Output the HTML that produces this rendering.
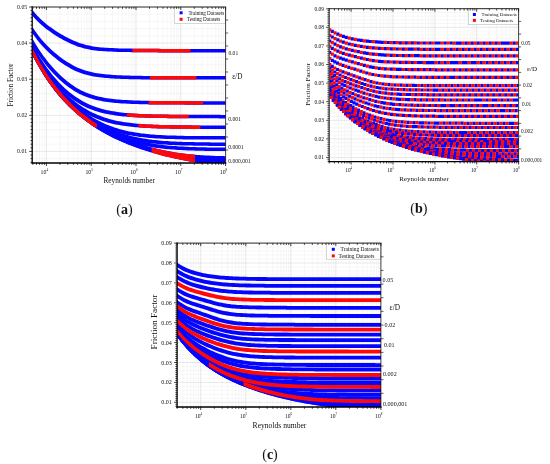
<!DOCTYPE html>
<html><head><meta charset="utf-8"><title>Friction factor datasets</title>
<style>html,body{margin:0;padding:0;background:#fff}svg{display:block}</style></head>
<body>
<svg width="550" height="464" viewBox="0 0 550 464" font-family="'Liberation Serif', serif">
<rect width="550" height="464" fill="#fff"/>
<clipPath id="ca"><rect x="32.2" y="7.0" width="193.39999999999998" height="156.0"/></clipPath>
<path d="M32.9 7V163M36.5 7V163M39.5 7V163M42.1 7V163M44.4 7V163M59.9 7V163M67.8 7V163M73.4 7V163M77.7 7V163M81.3 7V163M84.3 7V163M86.9 7V163M89.2 7V163M104.7 7V163M112.6 7V163M118.2 7V163M122.5 7V163M126.1 7V163M129.1 7V163M131.7 7V163M134 7V163M149.5 7V163M157.4 7V163M163 7V163M167.3 7V163M170.9 7V163M173.9 7V163M176.5 7V163M178.8 7V163M194.3 7V163M202.2 7V163M207.8 7V163M212.1 7V163M215.7 7V163M218.7 7V163M221.3 7V163M223.6 7V163M32.2 158.6H225.6M32.2 144.2H225.6M32.2 137H225.6M32.2 129.7H225.6M32.2 122.5H225.6M32.2 108.1H225.6M32.2 100.9H225.6M32.2 93.6H225.6M32.2 86.4H225.6M32.2 72H225.6M32.2 64.8H225.6M32.2 57.5H225.6M32.2 50.3H225.6M32.2 35.9H225.6M32.2 28.7H225.6M32.2 21.4H225.6M32.2 14.2H225.6" stroke="#efefef" stroke-width="0.5" fill="none"/>
<path d="M46.4 7V163M91.2 7V163M136 7V163M180.8 7V163M32.2 151.4H225.6M32.2 115.3H225.6M32.2 79.2H225.6M32.2 43.1H225.6" stroke="#d9d9d9" stroke-width="0.6" fill="none"/>
<g clip-path="url(#ca)">
<path d="M31.3 10.8L33.1 10.8L35.1 13.2L37.1 15.5L39.1 17.6L41.1 19.5L43.1 21.3L45.1 23L47.1 24.7L49.1 26.2L51.1 27.6L53.1 29L55.1 30.4L57.1 31.7L59.1 33L61.1 34.2L63.1 35.3L65.1 36.5L67.2 37.6L69.2 38.6L71.2 39.6L73.2 40.5L75.2 41.3L77.2 42.1L79.2 42.9L81.2 43.5L83.2 44.1L85.2 44.7L87.2 45.2L89.2 45.6L91.2 46L93.2 46.4L95.2 46.7L97.2 46.9L99.2 47.2L101.2 47.4L103.2 47.5L105.2 47.7L107.2 47.8L109.2 48L111.2 48.1L113.2 48.1L115.2 48.2L117.2 48.3L119.2 48.4L121.2 48.4L123.2 48.5L125.2 48.5L127.2 48.6L129.2 48.6L131.2 48.6L133.3 48.7L135.3 48.7L137.3 48.7L139.3 48.7L141.3 48.7L143.3 48.8L145.3 48.8L147.3 48.8L149.3 48.8L151.3 48.8L153.3 48.8L155.3 48.8L157.3 48.8L159.3 48.8L161.3 48.9L163.3 48.9L165.3 48.9L167.3 48.9L169.3 48.9L171.3 48.9L173.3 48.9L175.3 48.9L177.3 48.9L179.3 48.9L181.3 48.9L183.3 48.9L185.3 48.9L187.3 48.9L189.3 48.9L191.3 48.9L193.3 48.9L195.3 48.9L197.4 48.9L199.4 48.9L201.4 48.9L203.4 48.9L205.4 48.9L207.4 48.9L209.4 48.9L211.4 48.9L213.4 48.9L215.4 48.9L217.4 48.9L219.4 48.9L221.4 48.9L223.4 48.9L225.4 48.9L227.4 48.9L227.4 52.4L225.6 52.4L223.6 52.4L221.6 52.4L219.6 52.4L217.6 52.4L215.6 52.4L213.6 52.4L211.6 52.4L209.6 52.4L207.6 52.4L205.6 52.4L203.6 52.4L201.6 52.4L199.6 52.4L197.6 52.4L195.6 52.4L193.5 52.4L191.5 52.4L189.5 52.4L187.5 52.4L185.5 52.4L183.5 52.4L181.5 52.4L179.5 52.4L177.5 52.4L175.5 52.4L173.5 52.4L171.5 52.4L169.5 52.4L167.5 52.4L165.5 52.4L163.5 52.4L161.5 52.4L159.5 52.4L157.5 52.3L155.5 52.3L153.5 52.3L151.5 52.3L149.5 52.3L147.5 52.3L145.5 52.3L143.5 52.3L141.5 52.3L139.5 52.2L137.5 52.2L135.5 52.2L133.5 52.2L131.5 52.2L129.4 52.1L127.4 52.1L125.4 52.1L123.4 52L121.4 52L119.4 51.9L117.4 51.9L115.4 51.8L113.4 51.7L111.4 51.6L109.4 51.6L107.4 51.5L105.4 51.3L103.4 51.2L101.4 51L99.4 50.9L97.4 50.7L95.4 50.4L93.4 50.2L91.4 49.9L89.4 49.5L87.4 49.1L85.4 48.7L83.4 48.2L81.4 47.6L79.4 47L77.4 46.4L75.4 45.6L73.4 44.8L71.4 44L69.4 43.1L67.4 42.1L65.4 41.1L63.3 40L61.3 38.8L59.3 37.7L57.3 36.5L55.3 35.2L53.3 33.9L51.3 32.5L49.3 31.1L47.3 29.7L45.3 28.2L43.3 26.5L41.3 24.8L39.3 23L37.3 21.1L35.3 19L33.3 16.7L31.3 14.3Z" fill="#0505ff"/>
<path d="M31.3 28.1L33.1 28.1L35.1 31L37.1 33.8L39.1 36.4L41.1 38.9L43.1 41.2L45.1 43.4L47.1 45.5L49.1 47.5L51.1 49.4L53.1 51.2L55.1 52.9L57.1 54.6L59.1 56.2L61.1 57.7L63.1 59.2L65.1 60.5L67.2 61.9L69.2 63.1L71.2 64.3L73.2 65.4L75.2 66.4L77.2 67.4L79.2 68.2L81.2 69L83.2 69.8L85.2 70.4L87.2 71L89.2 71.6L91.2 72.1L93.2 72.5L95.2 72.9L97.2 73.2L99.2 73.5L101.2 73.8L103.2 74.1L105.2 74.3L107.2 74.5L109.2 74.6L111.2 74.8L113.2 74.9L115.2 75L117.2 75.2L119.2 75.2L121.2 75.3L123.2 75.4L125.2 75.5L127.2 75.5L129.2 75.6L131.2 75.7L133.3 75.7L135.3 75.7L137.3 75.8L139.3 75.8L141.3 75.8L143.3 75.9L145.3 75.9L147.3 75.9L149.3 75.9L151.3 76L153.3 76L155.3 76L157.3 76L159.3 76L161.3 76L163.3 76L165.3 76L167.3 76L169.3 76.1L171.3 76.1L173.3 76.1L175.3 76.1L177.3 76.1L179.3 76.1L181.3 76.1L183.3 76.1L185.3 76.1L187.3 76.1L189.3 76.1L191.3 76.1L193.3 76.1L195.3 76.1L197.4 76.1L199.4 76.1L201.4 76.1L203.4 76.1L205.4 76.1L207.4 76.1L209.4 76.1L211.4 76.1L213.4 76.1L215.4 76.1L217.4 76.1L219.4 76.1L221.4 76.1L223.4 76.1L225.4 76.1L227.4 76.1L227.4 79.6L225.6 79.6L223.6 79.6L221.6 79.6L219.6 79.6L217.6 79.6L215.6 79.6L213.6 79.6L211.6 79.6L209.6 79.6L207.6 79.6L205.6 79.6L203.6 79.6L201.6 79.6L199.6 79.6L197.6 79.6L195.6 79.6L193.5 79.6L191.5 79.6L189.5 79.6L187.5 79.6L185.5 79.6L183.5 79.6L181.5 79.6L179.5 79.6L177.5 79.6L175.5 79.6L173.5 79.6L171.5 79.6L169.5 79.6L167.5 79.6L165.5 79.5L163.5 79.5L161.5 79.5L159.5 79.5L157.5 79.5L155.5 79.5L153.5 79.5L151.5 79.5L149.5 79.5L147.5 79.4L145.5 79.4L143.5 79.4L141.5 79.4L139.5 79.3L137.5 79.3L135.5 79.3L133.5 79.2L131.5 79.2L129.4 79.2L127.4 79.1L125.4 79L123.4 79L121.4 78.9L119.4 78.8L117.4 78.7L115.4 78.7L113.4 78.5L111.4 78.4L109.4 78.3L107.4 78.1L105.4 78L103.4 77.8L101.4 77.6L99.4 77.3L97.4 77L95.4 76.7L93.4 76.4L91.4 76L89.4 75.6L87.4 75.1L85.4 74.5L83.4 73.9L81.4 73.3L79.4 72.5L77.4 71.7L75.4 70.9L73.4 69.9L71.4 68.9L69.4 67.8L67.4 66.6L65.4 65.4L63.3 64L61.3 62.7L59.3 61.2L57.3 59.7L55.3 58.1L53.3 56.4L51.3 54.7L49.3 52.9L47.3 51L45.3 49L43.3 46.9L41.3 44.7L39.3 42.4L37.3 39.9L35.3 37.3L33.3 34.5L31.3 31.6Z" fill="#0505ff"/>
<path d="M31.3 39.8L33.1 39.8L35.1 43.3L37.1 46.5L39.1 49.7L41.1 52.6L43.1 55.5L45.1 58.1L47.1 60.7L49.1 63.2L51.1 65.5L53.1 67.8L55.1 70L57.1 72.1L59.1 74.1L61.1 76L63.1 77.8L65.1 79.5L67.2 81.2L69.2 82.8L71.2 84.2L73.2 85.6L75.2 86.9L77.2 88.2L79.2 89.3L81.2 90.4L83.2 91.3L85.2 92.2L87.2 93.1L89.2 93.8L91.2 94.5L93.2 95.1L95.2 95.7L97.2 96.2L99.2 96.7L101.2 97.1L103.2 97.5L105.2 97.9L107.2 98.2L109.2 98.5L111.2 98.7L113.2 99L115.2 99.2L117.2 99.4L119.2 99.6L121.2 99.7L123.2 99.9L125.2 100L127.2 100.1L129.2 100.2L131.2 100.3L133.3 100.4L135.3 100.5L137.3 100.5L139.3 100.6L141.3 100.7L143.3 100.7L145.3 100.8L147.3 100.8L149.3 100.8L151.3 100.9L153.3 100.9L155.3 100.9L157.3 101L159.3 101L161.3 101L163.3 101L165.3 101L167.3 101.1L169.3 101.1L171.3 101.1L173.3 101.1L175.3 101.1L177.3 101.1L179.3 101.1L181.3 101.1L183.3 101.1L185.3 101.1L187.3 101.2L189.3 101.2L191.3 101.2L193.3 101.2L195.3 101.2L197.4 101.2L199.4 101.2L201.4 101.2L203.4 101.2L205.4 101.2L207.4 101.2L209.4 101.2L211.4 101.2L213.4 101.2L215.4 101.2L217.4 101.2L219.4 101.2L221.4 101.2L223.4 101.2L225.4 101.2L227.4 101.2L227.4 104.7L225.6 104.7L223.6 104.7L221.6 104.7L219.6 104.7L217.6 104.7L215.6 104.7L213.6 104.7L211.6 104.7L209.6 104.7L207.6 104.7L205.6 104.7L203.6 104.7L201.6 104.7L199.6 104.7L197.6 104.7L195.6 104.7L193.5 104.7L191.5 104.7L189.5 104.7L187.5 104.7L185.5 104.7L183.5 104.6L181.5 104.6L179.5 104.6L177.5 104.6L175.5 104.6L173.5 104.6L171.5 104.6L169.5 104.6L167.5 104.6L165.5 104.6L163.5 104.5L161.5 104.5L159.5 104.5L157.5 104.5L155.5 104.5L153.5 104.4L151.5 104.4L149.5 104.4L147.5 104.3L145.5 104.3L143.5 104.3L141.5 104.2L139.5 104.2L137.5 104.1L135.5 104L133.5 104L131.5 103.9L129.4 103.8L127.4 103.7L125.4 103.6L123.4 103.5L121.4 103.4L119.4 103.2L117.4 103.1L115.4 102.9L113.4 102.7L111.4 102.5L109.4 102.2L107.4 102L105.4 101.7L103.4 101.4L101.4 101L99.4 100.6L97.4 100.2L95.4 99.7L93.4 99.2L91.4 98.6L89.4 98L87.4 97.3L85.4 96.6L83.4 95.7L81.4 94.8L79.4 93.9L77.4 92.8L75.4 91.7L73.4 90.4L71.4 89.1L69.4 87.7L67.4 86.3L65.4 84.7L63.3 83L61.3 81.3L59.3 79.5L57.3 77.6L55.3 75.6L53.3 73.5L51.3 71.3L49.3 69L47.3 66.7L45.3 64.2L43.3 61.6L41.3 59L39.3 56.1L37.3 53.2L35.3 50L33.3 46.8L31.3 43.3Z" fill="#0505ff"/>
<path d="M31.3 45L33.1 45L35.1 48.7L37.1 52.3L39.1 55.7L41.1 59L43.1 62.1L45.1 65.1L47.1 67.9L49.1 70.6L51.1 73.2L53.1 75.7L55.1 78.1L57.1 80.3L59.1 82.5L61.1 84.6L63.1 86.6L65.1 88.4L67.2 90.2L69.2 91.9L71.2 93.5L73.2 95L75.2 96.5L77.2 97.8L79.2 99.1L81.2 100.3L83.2 101.4L85.2 102.5L87.2 103.5L89.2 104.4L91.2 105.3L93.2 106L95.2 106.8L97.2 107.5L99.2 108.1L101.2 108.7L103.2 109.2L105.2 109.7L107.2 110.2L109.2 110.6L111.2 111L113.2 111.3L115.2 111.6L117.2 111.9L119.2 112.2L121.2 112.5L123.2 112.7L125.2 112.9L127.2 113.1L129.2 113.2L131.2 113.4L133.3 113.5L135.3 113.7L137.3 113.8L139.3 113.9L141.3 114L143.3 114.1L145.3 114.1L147.3 114.2L149.3 114.3L151.3 114.3L153.3 114.4L155.3 114.4L157.3 114.5L159.3 114.5L161.3 114.5L163.3 114.6L165.3 114.6L167.3 114.6L169.3 114.7L171.3 114.7L173.3 114.7L175.3 114.7L177.3 114.7L179.3 114.7L181.3 114.7L183.3 114.8L185.3 114.8L187.3 114.8L189.3 114.8L191.3 114.8L193.3 114.8L195.3 114.8L197.4 114.8L199.4 114.8L201.4 114.8L203.4 114.8L205.4 114.8L207.4 114.8L209.4 114.8L211.4 114.8L213.4 114.8L215.4 114.8L217.4 114.8L219.4 114.8L221.4 114.9L223.4 114.9L225.4 114.9L227.4 114.9L227.4 118.4L225.6 118.4L223.6 118.4L221.6 118.4L219.6 118.4L217.6 118.3L215.6 118.3L213.6 118.3L211.6 118.3L209.6 118.3L207.6 118.3L205.6 118.3L203.6 118.3L201.6 118.3L199.6 118.3L197.6 118.3L195.6 118.3L193.5 118.3L191.5 118.3L189.5 118.3L187.5 118.3L185.5 118.3L183.5 118.3L181.5 118.3L179.5 118.2L177.5 118.2L175.5 118.2L173.5 118.2L171.5 118.2L169.5 118.2L167.5 118.2L165.5 118.1L163.5 118.1L161.5 118.1L159.5 118L157.5 118L155.5 118L153.5 117.9L151.5 117.9L149.5 117.8L147.5 117.8L145.5 117.7L143.5 117.6L141.5 117.6L139.5 117.5L137.5 117.4L135.5 117.3L133.5 117.2L131.5 117L129.4 116.9L127.4 116.7L125.4 116.6L123.4 116.4L121.4 116.2L119.4 116L117.4 115.7L115.4 115.4L113.4 115.1L111.4 114.8L109.4 114.5L107.4 114.1L105.4 113.7L103.4 113.2L101.4 112.7L99.4 112.2L97.4 111.6L95.4 111L93.4 110.3L91.4 109.5L89.4 108.8L87.4 107.9L85.4 107L83.4 106L81.4 104.9L79.4 103.8L77.4 102.6L75.4 101.3L73.4 100L71.4 98.5L69.4 97L67.4 95.4L65.4 93.7L63.3 91.9L61.3 90.1L59.3 88.1L57.3 86L55.3 83.8L53.3 81.6L51.3 79.2L49.3 76.7L47.3 74.1L45.3 71.4L43.3 68.6L41.3 65.6L39.3 62.5L37.3 59.2L35.3 55.8L33.3 52.2L31.3 48.5Z" fill="#0505ff"/>
<path d="M31.3 47.4L33.1 47.4L35.1 51.2L37.1 54.9L39.1 58.5L41.1 61.9L43.1 65.2L45.1 68.3L47.1 71.3L49.1 74.1L51.1 76.8L53.1 79.5L55.1 82L57.1 84.4L59.1 86.7L61.1 88.9L63.1 91L65.1 93L67.2 94.9L69.2 96.7L71.2 98.5L73.2 100.1L75.2 101.7L77.2 103.2L79.2 104.7L81.2 106.1L83.2 107.4L85.2 108.6L87.2 109.8L89.2 110.9L91.2 111.9L93.2 112.9L95.2 113.8L97.2 114.7L99.2 115.5L101.2 116.3L103.2 117L105.2 117.7L107.2 118.3L109.2 118.9L111.2 119.4L113.2 120L115.2 120.4L117.2 120.9L119.2 121.3L121.2 121.6L123.2 122L125.2 122.3L127.2 122.6L129.2 122.8L131.2 123.1L133.3 123.3L135.3 123.5L137.3 123.7L139.3 123.8L141.3 124L143.3 124.1L145.3 124.3L147.3 124.4L149.3 124.5L151.3 124.6L153.3 124.7L155.3 124.7L157.3 124.8L159.3 124.9L161.3 124.9L163.3 125L165.3 125L167.3 125.1L169.3 125.1L171.3 125.1L173.3 125.2L175.3 125.2L177.3 125.2L179.3 125.2L181.3 125.3L183.3 125.3L185.3 125.3L187.3 125.3L189.3 125.3L191.3 125.3L193.3 125.4L195.3 125.4L197.4 125.4L199.4 125.4L201.4 125.4L203.4 125.4L205.4 125.4L207.4 125.4L209.4 125.4L211.4 125.4L213.4 125.4L215.4 125.4L217.4 125.4L219.4 125.4L221.4 125.4L223.4 125.4L225.4 125.4L227.4 125.4L227.4 128.9L225.6 128.9L223.6 128.9L221.6 128.9L219.6 128.9L217.6 128.9L215.6 128.9L213.6 128.9L211.6 128.9L209.6 128.9L207.6 128.9L205.6 128.9L203.6 128.9L201.6 128.9L199.6 128.9L197.6 128.9L195.6 128.9L193.5 128.9L191.5 128.9L189.5 128.8L187.5 128.8L185.5 128.8L183.5 128.8L181.5 128.8L179.5 128.8L177.5 128.7L175.5 128.7L173.5 128.7L171.5 128.7L169.5 128.6L167.5 128.6L165.5 128.6L163.5 128.5L161.5 128.5L159.5 128.4L157.5 128.4L155.5 128.3L153.5 128.2L151.5 128.2L149.5 128.1L147.5 128L145.5 127.9L143.5 127.8L141.5 127.6L139.5 127.5L137.5 127.3L135.5 127.2L133.5 127L131.5 126.8L129.4 126.6L127.4 126.3L125.4 126.1L123.4 125.8L121.4 125.5L119.4 125.1L117.4 124.8L115.4 124.4L113.4 123.9L111.4 123.5L109.4 122.9L107.4 122.4L105.4 121.8L103.4 121.2L101.4 120.5L99.4 119.8L97.4 119L95.4 118.2L93.4 117.3L91.4 116.4L89.4 115.4L87.4 114.4L85.4 113.3L83.4 112.1L81.4 110.9L79.4 109.6L77.4 108.2L75.4 106.7L73.4 105.2L71.4 103.6L69.4 102L67.4 100.2L65.4 98.4L63.3 96.5L61.3 94.5L59.3 92.4L57.3 90.2L55.3 87.9L53.3 85.5L51.3 83L49.3 80.3L47.3 77.6L45.3 74.8L43.3 71.8L41.3 68.7L39.3 65.4L37.3 62L35.3 58.4L33.3 54.7L31.3 50.9Z" fill="#0505ff"/>
<path d="M31.3 48.5L33.1 48.5L35.1 52.5L37.1 56.2L39.1 59.9L41.1 63.3L43.1 66.6L45.1 69.8L47.1 72.9L49.1 75.8L51.1 78.6L53.1 81.3L55.1 83.9L57.1 86.4L59.1 88.8L61.1 91.1L63.1 93.4L65.1 95.5L67.2 97.5L69.2 99.5L71.2 101.4L73.2 103.2L75.2 105L77.2 106.6L79.2 108.2L81.2 109.8L83.2 111.3L85.2 112.7L87.2 114L89.2 115.3L91.2 116.6L93.2 117.8L95.2 118.9L97.2 120L99.2 121L101.2 122L103.2 123L105.2 123.9L107.2 124.7L109.2 125.5L111.2 126.3L113.2 127L115.2 127.7L117.2 128.3L119.2 128.9L121.2 129.5L123.2 130L125.2 130.5L127.2 130.9L129.2 131.4L131.2 131.8L133.3 132.1L135.3 132.5L137.3 132.8L139.3 133.1L141.3 133.4L143.3 133.6L145.3 133.8L147.3 134L149.3 134.2L151.3 134.4L153.3 134.6L155.3 134.7L157.3 134.9L159.3 135L161.3 135.1L163.3 135.2L165.3 135.3L167.3 135.4L169.3 135.5L171.3 135.5L173.3 135.6L175.3 135.6L177.3 135.7L179.3 135.7L181.3 135.8L183.3 135.8L185.3 135.9L187.3 135.9L189.3 135.9L191.3 135.9L193.3 136L195.3 136L197.4 136L199.4 136L201.4 136L203.4 136.1L205.4 136.1L207.4 136.1L209.4 136.1L211.4 136.1L213.4 136.1L215.4 136.1L217.4 136.1L219.4 136.1L221.4 136.1L223.4 136.1L225.4 136.1L227.4 136.1L227.4 139.6L225.6 139.6L223.6 139.6L221.6 139.6L219.6 139.6L217.6 139.6L215.6 139.6L213.6 139.6L211.6 139.6L209.6 139.6L207.6 139.6L205.6 139.6L203.6 139.6L201.6 139.6L199.6 139.5L197.6 139.5L195.6 139.5L193.5 139.5L191.5 139.5L189.5 139.4L187.5 139.4L185.5 139.4L183.5 139.4L181.5 139.3L179.5 139.3L177.5 139.2L175.5 139.2L173.5 139.1L171.5 139.1L169.5 139L167.5 139L165.5 138.9L163.5 138.8L161.5 138.7L159.5 138.6L157.5 138.5L155.5 138.4L153.5 138.2L151.5 138.1L149.5 137.9L147.5 137.7L145.5 137.5L143.5 137.3L141.5 137.1L139.5 136.9L137.5 136.6L135.5 136.3L133.5 136L131.5 135.6L129.4 135.3L127.4 134.9L125.4 134.4L123.4 134L121.4 133.5L119.4 133L117.4 132.4L115.4 131.8L113.4 131.2L111.4 130.5L109.4 129.8L107.4 129L105.4 128.2L103.4 127.4L101.4 126.5L99.4 125.5L97.4 124.5L95.4 123.5L93.4 122.4L91.4 121.3L89.4 120.1L87.4 118.8L85.4 117.5L83.4 116.2L81.4 114.8L79.4 113.3L77.4 111.7L75.4 110.1L73.4 108.5L71.4 106.7L69.4 104.9L67.4 103L65.4 101L63.3 99L61.3 96.9L59.3 94.6L57.3 92.3L55.3 89.9L53.3 87.4L51.3 84.8L49.3 82.1L47.3 79.3L45.3 76.4L43.3 73.3L41.3 70.1L39.3 66.8L37.3 63.4L35.3 59.7L33.3 56L31.3 52Z" fill="#0505ff"/>
<path d="M31.3 48.9L33.1 48.9L35.1 52.9L37.1 56.7L39.1 60.3L41.1 63.8L43.1 67.1L45.1 70.4L47.1 73.4L49.1 76.4L51.1 79.2L53.1 82L55.1 84.6L57.1 87.2L59.1 89.6L61.1 91.9L63.1 94.2L65.1 96.4L67.2 98.5L69.2 100.5L71.2 102.4L73.2 104.3L75.2 106.1L77.2 107.8L79.2 109.5L81.2 111.1L83.2 112.7L85.2 114.2L87.2 115.6L89.2 117L91.2 118.3L93.2 119.6L95.2 120.8L97.2 122L99.2 123.2L101.2 124.3L103.2 125.3L105.2 126.3L107.2 127.3L109.2 128.2L111.2 129.1L113.2 129.9L115.2 130.7L117.2 131.5L119.2 132.2L121.2 132.9L123.2 133.6L125.2 134.2L127.2 134.8L129.2 135.4L131.2 135.9L133.3 136.4L135.3 136.9L137.3 137.3L139.3 137.7L141.3 138.1L143.3 138.5L145.3 138.8L147.3 139.1L149.3 139.4L151.3 139.6L153.3 139.9L155.3 140.1L157.3 140.3L159.3 140.5L161.3 140.7L163.3 140.9L165.3 141L167.3 141.1L169.3 141.3L171.3 141.4L173.3 141.5L175.3 141.6L177.3 141.7L179.3 141.7L181.3 141.8L183.3 141.9L185.3 141.9L187.3 142L189.3 142L191.3 142.1L193.3 142.1L195.3 142.2L197.4 142.2L199.4 142.2L201.4 142.3L203.4 142.3L205.4 142.3L207.4 142.3L209.4 142.3L211.4 142.4L213.4 142.4L215.4 142.4L217.4 142.4L219.4 142.4L221.4 142.4L223.4 142.4L225.4 142.4L227.4 142.4L227.4 145.9L225.6 145.9L223.6 145.9L221.6 145.9L219.6 145.9L217.6 145.9L215.6 145.9L213.6 145.9L211.6 145.9L209.6 145.9L207.6 145.8L205.6 145.8L203.6 145.8L201.6 145.8L199.6 145.8L197.6 145.7L195.6 145.7L193.5 145.7L191.5 145.6L189.5 145.6L187.5 145.5L185.5 145.5L183.5 145.4L181.5 145.4L179.5 145.3L177.5 145.2L175.5 145.2L173.5 145.1L171.5 145L169.5 144.9L167.5 144.8L165.5 144.6L163.5 144.5L161.5 144.4L159.5 144.2L157.5 144L155.5 143.8L153.5 143.6L151.5 143.4L149.5 143.1L147.5 142.9L145.5 142.6L143.5 142.3L141.5 142L139.5 141.6L137.5 141.2L135.5 140.8L133.5 140.4L131.5 139.9L129.4 139.4L127.4 138.9L125.4 138.3L123.4 137.7L121.4 137.1L119.4 136.4L117.4 135.7L115.4 135L113.4 134.2L111.4 133.4L109.4 132.6L107.4 131.7L105.4 130.8L103.4 129.8L101.4 128.8L99.4 127.8L97.4 126.7L95.4 125.5L93.4 124.3L91.4 123.1L89.4 121.8L87.4 120.5L85.4 119.1L83.4 117.7L81.4 116.2L79.4 114.6L77.4 113L75.4 111.3L73.4 109.6L71.4 107.8L69.4 105.9L67.4 104L65.4 102L63.3 99.9L61.3 97.7L59.3 95.4L57.3 93.1L55.3 90.7L53.3 88.1L51.3 85.5L49.3 82.7L47.3 79.9L45.3 76.9L43.3 73.9L41.3 70.6L39.3 67.3L37.3 63.8L35.3 60.2L33.3 56.4L31.3 52.4Z" fill="#0505ff"/>
<path d="M31.3 49.1L33.1 49.1L35.1 53.1L37.1 56.9L39.1 60.5L41.1 64L43.1 67.4L45.1 70.6L47.1 73.7L49.1 76.7L51.1 79.6L53.1 82.3L55.1 85L57.1 87.5L59.1 90L61.1 92.3L63.1 94.6L65.1 96.8L67.2 98.9L69.2 101L71.2 102.9L73.2 104.8L75.2 106.7L77.2 108.4L79.2 110.2L81.2 111.8L83.2 113.4L85.2 114.9L87.2 116.4L89.2 117.8L91.2 119.2L93.2 120.6L95.2 121.9L97.2 123.1L99.2 124.3L101.2 125.5L103.2 126.6L105.2 127.7L107.2 128.7L109.2 129.7L111.2 130.7L113.2 131.6L115.2 132.5L117.2 133.4L119.2 134.2L121.2 135L123.2 135.7L125.2 136.5L127.2 137.2L129.2 137.8L131.2 138.5L133.3 139.1L135.3 139.6L137.3 140.2L139.3 140.7L141.3 141.2L143.3 141.7L145.3 142.1L147.3 142.5L149.3 142.9L151.3 143.3L153.3 143.6L155.3 143.9L157.3 144.2L159.3 144.5L161.3 144.8L163.3 145L165.3 145.3L167.3 145.5L169.3 145.7L171.3 145.8L173.3 146L175.3 146.1L177.3 146.3L179.3 146.4L181.3 146.5L183.3 146.6L185.3 146.7L187.3 146.8L189.3 146.9L191.3 147L193.3 147L195.3 147.1L197.4 147.2L199.4 147.2L201.4 147.3L203.4 147.3L205.4 147.3L207.4 147.4L209.4 147.4L211.4 147.4L213.4 147.4L215.4 147.5L217.4 147.5L219.4 147.5L221.4 147.5L223.4 147.5L225.4 147.6L227.4 147.6L227.4 151.1L225.6 151.1L223.6 151.1L221.6 151L219.6 151L217.6 151L215.6 151L213.6 151L211.6 150.9L209.6 150.9L207.6 150.9L205.6 150.9L203.6 150.8L201.6 150.8L199.6 150.8L197.6 150.7L195.6 150.7L193.5 150.6L191.5 150.5L189.5 150.5L187.5 150.4L185.5 150.3L183.5 150.2L181.5 150.1L179.5 150L177.5 149.9L175.5 149.8L173.5 149.6L171.5 149.5L169.5 149.3L167.5 149.2L165.5 149L163.5 148.8L161.5 148.5L159.5 148.3L157.5 148L155.5 147.7L153.5 147.4L151.5 147.1L149.5 146.8L147.5 146.4L145.5 146L143.5 145.6L141.5 145.2L139.5 144.7L137.5 144.2L135.5 143.7L133.5 143.1L131.5 142.6L129.4 142L127.4 141.3L125.4 140.7L123.4 140L121.4 139.2L119.4 138.5L117.4 137.7L115.4 136.9L113.4 136L111.4 135.1L109.4 134.2L107.4 133.2L105.4 132.2L103.4 131.2L101.4 130.1L99.4 129L97.4 127.8L95.4 126.6L93.4 125.4L91.4 124.1L89.4 122.7L87.4 121.3L85.4 119.9L83.4 118.4L81.4 116.9L79.4 115.3L77.4 113.7L75.4 111.9L73.4 110.2L71.4 108.3L69.4 106.4L67.4 104.5L65.4 102.4L63.3 100.3L61.3 98.1L59.3 95.8L57.3 93.5L55.3 91L53.3 88.5L51.3 85.8L49.3 83.1L47.3 80.2L45.3 77.2L43.3 74.1L41.3 70.9L39.3 67.5L37.3 64L35.3 60.4L33.3 56.6L31.3 52.6Z" fill="#0505ff"/>
<path d="M31.3 49.3L33.1 49.3L35.1 53.3L37.1 57.1L39.1 60.7L41.1 64.2L43.1 67.6L45.1 70.8L47.1 73.9L49.1 76.9L51.1 79.8L53.1 82.6L55.1 85.2L57.1 87.8L59.1 90.3L61.1 92.7L63.1 94.9L65.1 97.2L67.2 99.3L69.2 101.4L71.2 103.4L73.2 105.3L75.2 107.1L77.2 108.9L79.2 110.7L81.2 112.4L83.2 114L85.2 115.6L87.2 117.1L89.2 118.6L91.2 120L93.2 121.4L95.2 122.7L97.2 124L99.2 125.3L101.2 126.5L103.2 127.6L105.2 128.8L107.2 129.9L109.2 131L111.2 132L113.2 133L115.2 134L117.2 135L119.2 135.9L121.2 136.8L123.2 137.7L125.2 138.5L127.2 139.3L129.2 140.1L131.2 140.9L133.3 141.6L135.3 142.3L137.3 143L139.3 143.7L141.3 144.3L143.3 145L145.3 145.6L147.3 146.2L149.3 146.7L151.3 147.3L153.3 147.8L155.3 148.3L157.3 148.8L159.3 149.3L161.3 149.7L163.3 150.2L165.3 150.6L167.3 151L169.3 151.3L171.3 151.7L173.3 152L175.3 152.4L177.3 152.7L179.3 153L181.3 153.2L183.3 153.5L185.3 153.7L187.3 154L189.3 154.2L191.3 154.4L193.3 154.5L195.3 154.7L197.4 154.9L199.4 155L201.4 155.2L203.4 155.3L205.4 155.4L207.4 155.5L209.4 155.6L211.4 155.7L213.4 155.8L215.4 155.9L217.4 155.9L219.4 156L221.4 156.1L223.4 156.1L225.4 156.2L227.4 156.2L227.4 159.7L225.6 159.7L223.6 159.7L221.6 159.6L219.6 159.6L217.6 159.5L215.6 159.4L213.6 159.4L211.6 159.3L209.6 159.2L207.6 159.1L205.6 159L203.6 158.9L201.6 158.8L199.6 158.7L197.6 158.5L195.6 158.4L193.5 158.2L191.5 158L189.5 157.9L187.5 157.7L185.5 157.5L183.5 157.2L181.5 157L179.5 156.7L177.5 156.5L175.5 156.2L173.5 155.9L171.5 155.5L169.5 155.2L167.5 154.8L165.5 154.5L163.5 154.1L161.5 153.7L159.5 153.2L157.5 152.8L155.5 152.3L153.5 151.8L151.5 151.3L149.5 150.8L147.5 150.2L145.5 149.7L143.5 149.1L141.5 148.5L139.5 147.8L137.5 147.2L135.5 146.5L133.5 145.8L131.5 145.1L129.4 144.4L127.4 143.6L125.4 142.8L123.4 142L121.4 141.2L119.4 140.3L117.4 139.4L115.4 138.5L113.4 137.5L111.4 136.5L109.4 135.5L107.4 134.5L105.4 133.4L103.4 132.3L101.4 131.1L99.4 130L97.4 128.8L95.4 127.5L93.4 126.2L91.4 124.9L89.4 123.5L87.4 122.1L85.4 120.6L83.4 119.1L81.4 117.5L79.4 115.9L77.4 114.2L75.4 112.4L73.4 110.6L71.4 108.8L69.4 106.9L67.4 104.9L65.4 102.8L63.3 100.7L61.3 98.4L59.3 96.2L57.3 93.8L55.3 91.3L53.3 88.7L51.3 86.1L49.3 83.3L47.3 80.4L45.3 77.4L43.3 74.3L41.3 71.1L39.3 67.7L37.3 64.2L35.3 60.6L33.3 56.8L31.3 52.8Z" fill="#0505ff"/>
<path d="M31.3 49.3L33.1 49.3L35.1 53.3L37.1 57.1L39.1 60.7L41.1 64.2L43.1 67.6L45.1 70.9L47.1 74L49.1 77L51.1 79.8L53.1 82.6L55.1 85.3L57.1 87.8L59.1 90.3L61.1 92.7L63.1 95L65.1 97.2L67.2 99.3L69.2 101.4L71.2 103.4L73.2 105.3L75.2 107.2L77.2 109L79.2 110.7L81.2 112.4L83.2 114.1L85.2 115.6L87.2 117.2L89.2 118.6L91.2 120.1L93.2 121.5L95.2 122.8L97.2 124.1L99.2 125.4L101.2 126.6L103.2 127.8L105.2 128.9L107.2 130.1L109.2 131.1L111.2 132.2L113.2 133.2L115.2 134.2L117.2 135.2L119.2 136.1L121.2 137L123.2 137.9L125.2 138.8L127.2 139.6L129.2 140.4L131.2 141.2L133.3 142L135.3 142.7L137.3 143.4L139.3 144.1L141.3 144.8L143.3 145.5L145.3 146.1L147.3 146.7L149.3 147.3L151.3 147.9L153.3 148.5L155.3 149L157.3 149.6L159.3 150.1L161.3 150.6L163.3 151.1L165.3 151.5L167.3 152L169.3 152.4L171.3 152.8L173.3 153.2L175.3 153.6L177.3 154L179.3 154.3L181.3 154.6L183.3 155L185.3 155.3L187.3 155.6L189.3 155.8L191.3 156.1L193.3 156.4L195.3 156.6L197.4 156.8L199.4 157L201.4 157.2L203.4 157.4L205.4 157.6L207.4 157.7L209.4 157.9L211.4 158L213.4 158.1L215.4 158.3L217.4 158.4L219.4 158.5L221.4 158.6L223.4 158.7L225.4 158.7L227.4 158.8L227.4 162.3L225.6 162.3L223.6 162.2L221.6 162.2L219.6 162.1L217.6 162L215.6 161.9L213.6 161.8L211.6 161.6L209.6 161.5L207.6 161.4L205.6 161.2L203.6 161.1L201.6 160.9L199.6 160.7L197.6 160.5L195.6 160.3L193.5 160.1L191.5 159.9L189.5 159.6L187.5 159.3L185.5 159.1L183.5 158.8L181.5 158.5L179.5 158.1L177.5 157.8L175.5 157.5L173.5 157.1L171.5 156.7L169.5 156.3L167.5 155.9L165.5 155.5L163.5 155L161.5 154.6L159.5 154.1L157.5 153.6L155.5 153.1L153.5 152.5L151.5 152L149.5 151.4L147.5 150.8L145.5 150.2L143.5 149.6L141.5 149L139.5 148.3L137.5 147.6L135.5 146.9L133.5 146.2L131.5 145.5L129.4 144.7L127.4 143.9L125.4 143.1L123.4 142.3L121.4 141.4L119.4 140.5L117.4 139.6L115.4 138.7L113.4 137.7L111.4 136.7L109.4 135.7L107.4 134.6L105.4 133.6L103.4 132.4L101.4 131.3L99.4 130.1L97.4 128.9L95.4 127.6L93.4 126.3L91.4 125L89.4 123.6L87.4 122.1L85.4 120.7L83.4 119.1L81.4 117.6L79.4 115.9L77.4 114.2L75.4 112.5L73.4 110.7L71.4 108.8L69.4 106.9L67.4 104.9L65.4 102.8L63.3 100.7L61.3 98.5L59.3 96.2L57.3 93.8L55.3 91.3L53.3 88.8L51.3 86.1L49.3 83.3L47.3 80.5L45.3 77.5L43.3 74.4L41.3 71.1L39.3 67.7L37.3 64.2L35.3 60.6L33.3 56.8L31.3 52.8Z" fill="#0505ff"/>
<path d="M31.3 49.3L33.1 49.3L35.1 53.3L37.1 57.1L39.1 60.8L41.1 64.3L43.1 67.6L45.1 70.9L47.1 74L49.1 77L51.1 79.9L53.1 82.6L55.1 85.3L57.1 87.9L59.1 90.3L61.1 92.7L63.1 95L65.1 97.2L67.2 99.4L69.2 101.5L71.2 103.5L73.2 105.4L75.2 107.2L77.2 109.1L79.2 110.8L81.2 112.5L83.2 114.1L85.2 115.7L87.2 117.2L89.2 118.7L91.2 120.1L93.2 121.5L95.2 122.9L97.2 124.2L99.2 125.5L101.2 126.7L103.2 127.9L105.2 129.1L107.2 130.2L109.2 131.3L111.2 132.3L113.2 133.4L115.2 134.4L117.2 135.4L119.2 136.3L121.2 137.2L123.2 138.1L125.2 139L127.2 139.8L129.2 140.7L131.2 141.5L133.3 142.3L135.3 143L137.3 143.8L139.3 144.5L141.3 145.2L143.3 145.9L145.3 146.5L147.3 147.2L149.3 147.8L151.3 148.4L153.3 149L155.3 149.6L157.3 150.2L159.3 150.8L161.3 151.3L163.3 151.8L165.3 152.4L167.3 152.9L169.3 153.3L171.3 153.8L173.3 154.3L175.3 154.7L177.3 155.2L179.3 155.6L181.3 156L183.3 156.4L185.3 156.8L187.3 157.2L189.3 157.6L191.3 157.9L193.3 158.3L195.3 158.6L197.4 159L199.4 159.3L201.4 159.6L203.4 159.9L205.4 160.2L207.4 160.4L209.4 160.7L211.4 160.9L213.4 161.2L215.4 161.4L217.4 161.6L219.4 161.9L221.4 162.1L223.4 162.2L225.4 162.4L227.4 162.6L227.4 166.1L225.6 166.1L223.6 165.9L221.6 165.7L219.6 165.6L217.6 165.4L215.6 165.1L213.6 164.9L211.6 164.7L209.6 164.4L207.6 164.2L205.6 163.9L203.6 163.7L201.6 163.4L199.6 163.1L197.6 162.8L195.6 162.5L193.5 162.1L191.5 161.8L189.5 161.4L187.5 161.1L185.5 160.7L183.5 160.3L181.5 159.9L179.5 159.5L177.5 159.1L175.5 158.7L173.5 158.2L171.5 157.8L169.5 157.3L167.5 156.8L165.5 156.4L163.5 155.9L161.5 155.3L159.5 154.8L157.5 154.3L155.5 153.7L153.5 153.1L151.5 152.5L149.5 151.9L147.5 151.3L145.5 150.7L143.5 150L141.5 149.4L139.5 148.7L137.5 148L135.5 147.3L133.5 146.5L131.5 145.8L129.4 145L127.4 144.2L125.4 143.3L123.4 142.5L121.4 141.6L119.4 140.7L117.4 139.8L115.4 138.9L113.4 137.9L111.4 136.9L109.4 135.8L107.4 134.8L105.4 133.7L103.4 132.6L101.4 131.4L99.4 130.2L97.4 129L95.4 127.7L93.4 126.4L91.4 125L89.4 123.6L87.4 122.2L85.4 120.7L83.4 119.2L81.4 117.6L79.4 116L77.4 114.3L75.4 112.6L73.4 110.7L71.4 108.9L69.4 107L67.4 105L65.4 102.9L63.3 100.7L61.3 98.5L59.3 96.2L57.3 93.8L55.3 91.4L53.3 88.8L51.3 86.1L49.3 83.4L47.3 80.5L45.3 77.5L43.3 74.4L41.3 71.1L39.3 67.8L37.3 64.3L35.3 60.6L33.3 56.8L31.3 52.8Z" fill="#0505ff"/>
<path d="M132.4 48.7L134.2 48.7L136.2 48.7L138.2 48.7L140.2 48.7L142.2 48.7L144.2 48.8L146.2 48.8L148.2 48.8L150.3 48.8L152.3 48.8L154.3 48.8L156.3 48.8L158.3 48.8L160.3 48.9L162.3 48.9L164.3 48.9L166.3 48.9L168.3 48.9L170.3 48.9L172.3 48.9L174.3 48.9L176.4 48.9L178.4 48.9L180.4 48.9L182.4 48.9L184.4 48.9L186.4 48.9L188.4 48.9L190.4 48.9L190.4 52.4L188.6 52.4L186.6 52.4L184.6 52.4L182.6 52.4L180.6 52.4L178.6 52.4L176.6 52.4L174.6 52.4L172.5 52.4L170.5 52.4L168.5 52.4L166.5 52.4L164.5 52.4L162.5 52.4L160.5 52.4L158.5 52.4L156.5 52.3L154.5 52.3L152.5 52.3L150.5 52.3L148.5 52.3L146.4 52.3L144.4 52.3L142.4 52.3L140.4 52.2L138.4 52.2L136.4 52.2L134.4 52.2L132.4 52.2Z" fill="#ff0808"/>
<path d="M149.9 76L151.7 76L153.7 76L155.8 76L157.8 76L159.8 76L161.8 76L163.9 76L165.9 76L167.9 76.1L169.9 76.1L172 76.1L174 76.1L176 76.1L178.1 76.1L180.1 76.1L182.1 76.1L184.1 76.1L186.2 76.1L188.2 76.1L190.2 76.1L192.2 76.1L194.3 76.1L196.3 76.1L196.3 79.6L194.5 79.6L192.5 79.6L190.4 79.6L188.4 79.6L186.4 79.6L184.4 79.6L182.3 79.6L180.3 79.6L178.3 79.6L176.3 79.6L174.2 79.6L172.2 79.6L170.2 79.6L168.1 79.6L166.1 79.6L164.1 79.5L162.1 79.5L160 79.5L158 79.5L156 79.5L154 79.5L151.9 79.5L149.9 79.5Z" fill="#ff0808"/>
<path d="M148.6 100.9L150.4 100.9L152.4 100.9L154.4 100.9L156.5 101L158.5 101L160.5 101L162.5 101L164.6 101L166.6 101.1L168.6 101.1L170.6 101.1L172.7 101.1L174.7 101.1L176.7 101.1L178.7 101.1L180.7 101.1L182.8 101.1L184.8 101.1L186.8 101.1L188.8 101.2L190.9 101.2L192.9 101.2L194.9 101.2L196.9 101.2L199 101.2L201 101.2L203 101.2L203 104.7L201.2 104.7L199.2 104.7L197.2 104.7L195.1 104.7L193.1 104.7L191.1 104.7L189.1 104.7L187 104.7L185 104.6L183 104.6L181 104.6L178.9 104.6L176.9 104.6L174.9 104.6L172.9 104.6L170.9 104.6L168.8 104.6L166.8 104.6L164.8 104.6L162.8 104.5L160.7 104.5L158.7 104.5L156.7 104.5L154.7 104.5L152.6 104.4L150.6 104.4L148.6 104.4Z" fill="#ff0808"/>
<path d="M126.7 113.2L128.5 113.2L130.5 113.3L132.5 113.5L134.5 113.6L136.5 113.7L138.5 113.8L140.5 113.9L142.5 114L144.6 114.1L146.6 114.2L148.6 114.2L150.6 114.3L152.6 114.4L154.6 114.4L156.6 114.5L158.6 114.5L160.6 114.5L162.6 114.6L164.6 114.6L166.6 114.6L168.6 114.6L170.6 114.7L172.6 114.7L174.7 114.7L176.7 114.7L178.7 114.7L180.7 114.7L182.7 114.8L184.7 114.8L186.7 114.8L188.7 114.8L188.7 118.3L186.9 118.3L184.9 118.3L182.9 118.3L180.9 118.3L178.9 118.2L176.9 118.2L174.9 118.2L172.9 118.2L170.8 118.2L168.8 118.2L166.8 118.1L164.8 118.1L162.8 118.1L160.8 118.1L158.8 118L156.8 118L154.8 118L152.8 117.9L150.8 117.9L148.8 117.8L146.8 117.7L144.8 117.7L142.8 117.6L140.7 117.5L138.7 117.4L136.7 117.3L134.7 117.2L132.7 117.1L130.7 117L128.7 116.8L126.7 116.7Z" fill="#ff0808"/>
<path d="M138.3 123.9L140.1 123.9L142.1 124L144.1 124.2L146.1 124.3L148.1 124.4L150.1 124.5L152.1 124.6L154.1 124.7L156.2 124.8L158.2 124.8L160.2 124.9L162.2 124.9L164.2 125L166.2 125L168.2 125.1L170.2 125.1L172.2 125.2L174.2 125.2L176.2 125.2L178.2 125.2L180.2 125.3L182.2 125.3L184.2 125.3L186.3 125.3L188.3 125.3L190.3 125.3L192.3 125.4L194.3 125.4L196.3 125.4L198.3 125.4L200.3 125.4L200.3 128.9L198.5 128.9L196.5 128.9L194.5 128.9L192.5 128.9L190.5 128.9L188.5 128.8L186.5 128.8L184.5 128.8L182.4 128.8L180.4 128.8L178.4 128.8L176.4 128.7L174.4 128.7L172.4 128.7L170.4 128.7L168.4 128.6L166.4 128.6L164.4 128.5L162.4 128.5L160.4 128.4L158.4 128.4L156.4 128.3L154.4 128.3L152.3 128.2L150.3 128.1L148.3 128L146.3 127.9L144.3 127.8L142.3 127.7L140.3 127.5L138.3 127.4Z" fill="#ff0808"/>
<path d="M151.8 147.9L153.6 147.9L155.6 148.4L157.5 148.9L159.5 149.3L161.5 149.8L163.5 150.2L165.4 150.6L167.4 151L169.4 151.4L171.3 151.7L173.3 152L175.3 152.4L177.3 152.7L179.2 152.9L181.2 153.2L183.2 153.5L185.1 153.7L187.1 153.9L189.1 154.1L191.1 154.3L193 154.5L195 154.7L195 158.2L193.2 158.2L191.2 158L189.3 157.8L187.3 157.6L185.3 157.4L183.3 157.2L181.4 157L179.4 156.7L177.4 156.4L175.5 156.2L173.5 155.9L171.5 155.5L169.5 155.2L167.6 154.9L165.6 154.5L163.6 154.1L161.7 153.7L159.7 153.3L157.7 152.8L155.7 152.4L153.8 151.9L151.8 151.4Z" fill="#ff0808"/>
<path d="M31.3 49.3L33.1 49.3L35.1 53.3L37.1 57.1L39.1 60.7L41.1 64.2L43.1 67.6L45.1 70.8L47.1 73.9L49.1 76.9L51.1 79.8L53.1 82.5L55.1 85.2L57.1 87.8L59.1 90.2L61.1 92.6L63.1 94.9L65.1 97.1L67 99.3L69 101.3L71 103.3L73 105.3L75 107.1L77 108.9L79 110.7L81 112.4L83 114L85 115.6L87 117.1L89 118.6L91 120L93 121.4L95 122.8L97 124.1L97 127.6L95.2 127.6L93.2 126.3L91.2 124.9L89.2 123.5L87.2 122.1L85.2 120.6L83.2 119.1L81.2 117.5L79.2 115.9L77.2 114.2L75.2 112.4L73.2 110.6L71.2 108.8L69.2 106.8L67.2 104.8L65.2 102.8L63.3 100.6L61.3 98.4L59.3 96.1L57.3 93.7L55.3 91.3L53.3 88.7L51.3 86L49.3 83.3L47.3 80.4L45.3 77.4L43.3 74.3L41.3 71.1L39.3 67.7L37.3 64.2L35.3 60.6L33.3 56.8L31.3 52.8Z" fill="#ff0808"/>
<path d="M151.8 149.1L153.6 149.1L155.6 149.7L157.5 150.3L159.5 150.8L161.5 151.4L163.5 151.9L165.4 152.4L167.4 152.9L169.4 153.4L171.3 153.8L173.3 154.3L175.3 154.7L177.3 155.2L179.2 155.6L181.2 156L183.2 156.4L185.1 156.8L187.1 157.2L189.1 157.5L191.1 157.9L193 158.2L195 158.6L195 162.1L193.2 162.1L191.2 161.7L189.3 161.4L187.3 161L185.3 160.7L183.3 160.3L181.4 159.9L179.4 159.5L177.4 159.1L175.5 158.7L173.5 158.2L171.5 157.8L169.5 157.3L167.6 156.9L165.6 156.4L163.6 155.9L161.7 155.4L159.7 154.9L157.7 154.3L155.7 153.8L153.8 153.2L151.8 152.6Z" fill="#ff0808"/>
</g>
<rect x="174.4" y="7" width="51.2" height="16.4" fill="#fff" stroke="#bdbdbd" stroke-width="0.6"/>
<rect x="179.6" y="11.3" width="3" height="3" fill="#0505ff"/>
<rect x="179.6" y="17.8" width="3" height="3" fill="#ff0808"/>
<text x="188.4" y="14.5" font-size="5.1" text-anchor="start" fill="#111">Training Datasets</text>
<text x="186.9" y="21" font-size="5.1" text-anchor="start" fill="#111">Testing Datasets</text>
<path d="M32.2 151.4h-3M32.2 115.3h-3M32.2 79.2h-3M32.2 43.1h-3M32.2 7h-3M32.2 162.2h-1.7M32.2 158.6h-1.7M32.2 155h-1.7M32.2 147.8h-1.7M32.2 144.2h-1.7M32.2 140.6h-1.7M32.2 137h-1.7M32.2 133.4h-1.7M32.2 129.7h-1.7M32.2 126.1h-1.7M32.2 122.5h-1.7M32.2 118.9h-1.7M32.2 111.7h-1.7M32.2 108.1h-1.7M32.2 104.5h-1.7M32.2 100.9h-1.7M32.2 97.2h-1.7M32.2 93.6h-1.7M32.2 90h-1.7M32.2 86.4h-1.7M32.2 82.8h-1.7M32.2 75.6h-1.7M32.2 72h-1.7M32.2 68.4h-1.7M32.2 64.8h-1.7M32.2 61.1h-1.7M32.2 57.5h-1.7M32.2 53.9h-1.7M32.2 50.3h-1.7M32.2 46.7h-1.7M32.2 39.5h-1.7M32.2 35.9h-1.7M32.2 32.3h-1.7M32.2 28.7h-1.7M32.2 25.1h-1.7M32.2 21.4h-1.7M32.2 17.8h-1.7M32.2 14.2h-1.7M32.2 10.6h-1.7M32.9 163v1.8M32.9 7v1.8M36.5 163v1.8M36.5 7v1.8M39.5 163v1.8M39.5 7v1.8M42.1 163v1.8M42.1 7v1.8M44.4 163v1.8M44.4 7v1.8M46.4 163v3M46.4 7v3M59.9 163v1.8M59.9 7v1.8M67.8 163v1.8M67.8 7v1.8M73.4 163v1.8M73.4 7v1.8M77.7 163v1.8M77.7 7v1.8M81.3 163v1.8M81.3 7v1.8M84.3 163v1.8M84.3 7v1.8M86.9 163v1.8M86.9 7v1.8M89.2 163v1.8M89.2 7v1.8M91.2 163v3M91.2 7v3M104.7 163v1.8M104.7 7v1.8M112.6 163v1.8M112.6 7v1.8M118.2 163v1.8M118.2 7v1.8M122.5 163v1.8M122.5 7v1.8M126.1 163v1.8M126.1 7v1.8M129.1 163v1.8M129.1 7v1.8M131.7 163v1.8M131.7 7v1.8M134 163v1.8M134 7v1.8M136 163v3M136 7v3M149.5 163v1.8M149.5 7v1.8M157.4 163v1.8M157.4 7v1.8M163 163v1.8M163 7v1.8M167.3 163v1.8M167.3 7v1.8M170.9 163v1.8M170.9 7v1.8M173.9 163v1.8M173.9 7v1.8M176.5 163v1.8M176.5 7v1.8M178.8 163v1.8M178.8 7v1.8M180.8 163v3M180.8 7v3M194.3 163v1.8M194.3 7v1.8M202.2 163v1.8M202.2 7v1.8M207.8 163v1.8M207.8 7v1.8M212.1 163v1.8M212.1 7v1.8M215.7 163v1.8M215.7 7v1.8M218.7 163v1.8M218.7 7v1.8M221.3 163v1.8M221.3 7v1.8M223.6 163v1.8M223.6 7v1.8M225.6 163v3M225.6 7v3" stroke="#111" stroke-width="0.8" fill="none"/>
<path d="M225.6 20h2.6M225.6 33h2.6M225.6 46h2.6M225.6 59h2.6M225.6 72h2.6M225.6 85h2.6M225.6 98h2.6M225.6 111h2.6M225.6 124h2.6M225.6 137h2.6M225.6 150h2.6" stroke="#222" stroke-width="0.7" fill="none"/>
<path d="M32.2 7V163" stroke="#000" stroke-width="1.3" fill="none" stroke-linecap="square"/>
<path d="M32.2 163H225.6" stroke="#000" stroke-width="1.3" fill="none" stroke-linecap="square"/>
<path d="M32.2 7H225.6" stroke="#222" stroke-width="0.9750000000000001" fill="none" stroke-linecap="square"/>
<path d="M225.6 7V163" stroke="#111" stroke-width="0.8" fill="none"/>
<text x="27.2" y="153.3" font-size="5.8" text-anchor="end" fill="#111">0.01</text>
<text x="27.2" y="117.2" font-size="5.8" text-anchor="end" fill="#111">0.02</text>
<text x="27.2" y="81.1" font-size="5.8" text-anchor="end" fill="#111">0.03</text>
<text x="27.2" y="45" font-size="5.8" text-anchor="end" fill="#111">0.04</text>
<text x="27.2" y="8.9" font-size="5.8" text-anchor="end" fill="#111">0.05</text>
<text x="40.6" y="173.5" font-size="5.8" text-anchor="start" fill="#111">10<tspan dy="-2.4" font-size="3.4">4</tspan></text>
<text x="85.4" y="173.5" font-size="5.8" text-anchor="start" fill="#111">10<tspan dy="-2.4" font-size="3.4">5</tspan></text>
<text x="130.2" y="173.5" font-size="5.8" text-anchor="start" fill="#111">10<tspan dy="-2.4" font-size="3.4">6</tspan></text>
<text x="175" y="173.5" font-size="5.8" text-anchor="start" fill="#111">10<tspan dy="-2.4" font-size="3.4">7</tspan></text>
<text x="219.8" y="173.5" font-size="5.8" text-anchor="start" fill="#111">10<tspan dy="-2.4" font-size="3.4">8</tspan></text>
<text x="129.2" y="182.7" font-size="7.25" text-anchor="middle" fill="#111">Reynolds number</text>
<text transform="translate(13.4 85) rotate(-90)" font-size="7.2" text-anchor="middle" fill="#111">Friction Factor</text>
<text x="228.4" y="54.8" font-size="5.6" text-anchor="start" fill="#111">0.01</text>
<text x="228.2" y="120.8" font-size="5.6" text-anchor="start" fill="#111">0.001</text>
<text x="228.2" y="148.6" font-size="5.6" text-anchor="start" fill="#111">0.0001</text>
<text x="228.2" y="162.8" font-size="5.6" text-anchor="start" fill="#111">0.000,001</text>
<text x="232.3" y="78.9" font-size="7.2" text-anchor="start" fill="#111">ε/D</text>
<text x="124.4" y="213.8" font-size="14" text-anchor="middle" fill="#111">(<tspan font-weight="bold">a</tspan>)</text>
<clipPath id="cb"><rect x="329.2" y="8.65" width="189.40000000000003" height="152.95"/></clipPath>
<path d="M334.4 8.7V161.6M338.5 8.7V161.6M341.8 8.7V161.6M344.6 8.7V161.6M347 8.7V161.6M349.2 8.7V161.6M363.7 8.7V161.6M371.1 8.7V161.6M376.3 8.7V161.6M380.4 8.7V161.6M383.7 8.7V161.6M386.5 8.7V161.6M388.9 8.7V161.6M391.1 8.7V161.6M405.6 8.7V161.6M413 8.7V161.6M418.2 8.7V161.6M422.2 8.7V161.6M425.6 8.7V161.6M428.4 8.7V161.6M430.8 8.7V161.6M432.9 8.7V161.6M447.5 8.7V161.6M454.8 8.7V161.6M460.1 8.7V161.6M464.1 8.7V161.6M467.4 8.7V161.6M470.2 8.7V161.6M472.7 8.7V161.6M474.8 8.7V161.6M489.3 8.7V161.6M496.7 8.7V161.6M501.9 8.7V161.6M506 8.7V161.6M509.3 8.7V161.6M512.1 8.7V161.6M514.5 8.7V161.6M516.7 8.7V161.6M329.2 153.8H518.6M329.2 150.1H518.6M329.2 146.4H518.6M329.2 142.7H518.6M329.2 135.2H518.6M329.2 131.5H518.6M329.2 127.8H518.6M329.2 124.1H518.6M329.2 116.6H518.6M329.2 112.9H518.6M329.2 109.2H518.6M329.2 105.5H518.6M329.2 98H518.6M329.2 94.3H518.6M329.2 90.6H518.6M329.2 86.9H518.6M329.2 79.4H518.6M329.2 75.7H518.6M329.2 72H518.6M329.2 68.3H518.6M329.2 60.8H518.6M329.2 57.1H518.6M329.2 53.4H518.6M329.2 49.7H518.6M329.2 42.2H518.6M329.2 38.5H518.6M329.2 34.8H518.6M329.2 31.1H518.6M329.2 23.6H518.6M329.2 19.9H518.6M329.2 16.2H518.6M329.2 12.5H518.6" stroke="#efefef" stroke-width="0.5" fill="none"/>
<path d="M351.1 8.7V161.6M393 8.7V161.6M434.9 8.7V161.6M476.7 8.7V161.6M329.2 157.6H518.6M329.2 138.9H518.6M329.2 120.3H518.6M329.2 101.7H518.6M329.2 83.1H518.6M329.2 64.5H518.6M329.2 45.9H518.6M329.2 27.3H518.6" stroke="#d9d9d9" stroke-width="0.6" fill="none"/>
<g clip-path="url(#cb)">
<path d="M330.7 31.3h3.2M336.2 34.2h3.2M341.7 36.4h3.2M344.7 37.3h3.2M350.7 38.8h3.2M356.7 40h3.2M359.7 40.4h3.2M365.7 41.2h3.2M368.7 41.5h3.2M374.7 41.9h3.2M377.7 42.1h3.2M380.7 42.3h3.2M386.7 42.5h3.2M392.7 42.7h3.2M398.7 42.8h3.2M404.7 42.9h3.2M410.7 42.9h3.2M416.7 43h3.2M422.7 43h3.2M428.6 43h3.2M434.6 43h3.2M437.6 43h3.2M443.6 43h3.2M449.6 43h3.2M455.6 43.1h3.2M458.6 43.1h3.2M464.6 43.1h3.2M470.6 43.1h3.2M476.6 43.1h3.2M482.6 43.1h3.2M488.6 43.1h3.2M494.6 43.1h3.2M500.6 43.1h3.2M503.6 43.1h3.2M506.6 43.1h3.2M512.6 43.1h3.2" stroke="#0505ff" stroke-width="3.2" fill="none"/>
<path d="M328.2 29.8h3.2M333.4 32.9h3.2M338.9 35.4h3.2M347.7 38.1h3.2M353.7 39.4h3.2M362.7 40.8h3.2M371.7 41.7h3.2M383.7 42.4h3.2M389.7 42.6h3.2M395.7 42.7h3.2M401.7 42.8h3.2M407.7 42.9h3.2M413.7 42.9h3.2M419.7 43h3.2M425.6 43h3.2M431.6 43h3.2M440.6 43h3.2M446.6 43h3.2M452.6 43.1h3.2M461.6 43.1h3.2M467.6 43.1h3.2M473.6 43.1h3.2M479.6 43.1h3.2M485.6 43.1h3.2M491.6 43.1h3.2M497.6 43.1h3.2M509.6 43.1h3.2M515.6 43.1h3.2" stroke="#ff0808" stroke-width="3.2" fill="none"/>
<path d="M330.7 37h3.2M336.2 39.9h3.2M341.7 42.1h3.2M347.7 44h3.2M353.7 45.3h3.2M359.7 46.4h3.2M365.7 47.3h3.2M371.7 47.9h3.2M377.7 48.3h3.2M383.7 48.6h3.2M389.7 48.8h3.2M395.7 49h3.2M401.7 49.1h3.2M407.7 49.2h3.2M410.7 49.2h3.2M416.7 49.2h3.2M422.7 49.3h3.2M428.6 49.3h3.2M434.6 49.3h3.2M437.6 49.3h3.2M443.6 49.3h3.2M449.6 49.3h3.2M455.6 49.3h3.2M461.6 49.3h3.2M467.6 49.3h3.2M473.6 49.3h3.2M479.6 49.3h3.2M485.6 49.3h3.2M491.6 49.3h3.2M497.6 49.3h3.2M503.6 49.3h3.2M509.6 49.3h3.2M515.6 49.3h3.2" stroke="#0505ff" stroke-width="3.2" fill="none"/>
<path d="M328.2 35.4h3.2M333.4 38.6h3.2M338.9 41.1h3.2M344.7 43.1h3.2M350.7 44.7h3.2M356.7 45.9h3.2M362.7 46.9h3.2M368.7 47.6h3.2M374.7 48.1h3.2M380.7 48.5h3.2M386.7 48.7h3.2M392.7 48.9h3.2M398.7 49h3.2M404.7 49.1h3.2M413.7 49.2h3.2M419.7 49.3h3.2M425.6 49.3h3.2M431.6 49.3h3.2M440.6 49.3h3.2M446.6 49.3h3.2M452.6 49.3h3.2M458.6 49.3h3.2M464.6 49.3h3.2M470.6 49.3h3.2M476.6 49.3h3.2M482.6 49.3h3.2M488.6 49.3h3.2M494.6 49.3h3.2M500.6 49.3h3.2M506.6 49.3h3.2M512.6 49.3h3.2" stroke="#ff0808" stroke-width="3.2" fill="none"/>
<path d="M328.2 41h3.2M333.4 44.2h3.2M338.9 46.8h3.2M344.7 48.8h3.2M350.7 50.4h3.2M356.7 51.7h3.2M362.7 52.9h3.2M365.7 53.4h3.2M371.7 54.1h3.2M377.7 54.7h3.2M380.7 54.9h3.2M383.7 55.1h3.2M389.7 55.3h3.2M395.7 55.5h3.2M401.7 55.6h3.2M407.7 55.7h3.2M413.7 55.7h3.2M416.7 55.7h3.2M422.7 55.8h3.2M428.6 55.8h3.2M434.6 55.8h3.2M440.6 55.8h3.2M446.6 55.8h3.2M452.6 55.8h3.2M458.6 55.8h3.2M464.6 55.9h3.2M470.6 55.9h3.2M476.6 55.9h3.2M482.6 55.9h3.2M488.6 55.9h3.2M494.6 55.9h3.2M500.6 55.9h3.2M506.6 55.9h3.2M512.6 55.9h3.2" stroke="#0505ff" stroke-width="3.2" fill="none"/>
<path d="M330.7 42.6h3.2M336.2 45.6h3.2M341.7 47.8h3.2M347.7 49.6h3.2M353.7 51.1h3.2M359.7 52.3h3.2M368.7 53.8h3.2M374.7 54.4h3.2M386.7 55.2h3.2M392.7 55.4h3.2M398.7 55.5h3.2M404.7 55.6h3.2M410.7 55.7h3.2M419.7 55.8h3.2M425.6 55.8h3.2M431.6 55.8h3.2M437.6 55.8h3.2M443.6 55.8h3.2M449.6 55.8h3.2M455.6 55.8h3.2M461.6 55.9h3.2M467.6 55.9h3.2M473.6 55.9h3.2M479.6 55.9h3.2M485.6 55.9h3.2M491.6 55.9h3.2M497.6 55.9h3.2M503.6 55.9h3.2M509.6 55.9h3.2M515.6 55.9h3.2" stroke="#ff0808" stroke-width="3.2" fill="none"/>
<path d="M330.7 48.3h3.2M336.2 51.2h3.2M341.7 53.3h3.2M347.7 55.1h3.2M353.7 56.7h3.2M359.7 58.2h3.2M365.7 59.5h3.2M371.7 60.6h3.2M377.7 61.3h3.2M380.7 61.6h3.2M386.7 61.9h3.2M392.7 62.1h3.2M398.7 62.3h3.2M404.7 62.4h3.2M410.7 62.5h3.2M416.7 62.5h3.2M419.7 62.5h3.2M425.6 62.6h3.2M428.6 62.6h3.2M431.6 62.6h3.2M437.6 62.6h3.2M443.6 62.6h3.2M449.6 62.6h3.2M452.6 62.6h3.2M455.6 62.6h3.2M461.6 62.6h3.2M464.6 62.6h3.2M470.6 62.6h3.2M473.6 62.6h3.2M479.6 62.7h3.2M485.6 62.7h3.2M491.6 62.7h3.2M497.6 62.7h3.2M503.6 62.7h3.2M509.6 62.7h3.2M515.6 62.7h3.2" stroke="#0505ff" stroke-width="3.2" fill="none"/>
<path d="M328.2 46.6h3.2M333.4 49.9h3.2M338.9 52.3h3.2M344.7 54.3h3.2M350.7 55.9h3.2M356.7 57.5h3.2M362.7 58.9h3.2M368.7 60.1h3.2M374.7 61h3.2M383.7 61.8h3.2M389.7 62h3.2M395.7 62.2h3.2M401.7 62.3h3.2M407.7 62.4h3.2M413.7 62.5h3.2M422.7 62.6h3.2M434.6 62.6h3.2M440.6 62.6h3.2M446.6 62.6h3.2M458.6 62.6h3.2M467.6 62.6h3.2M476.6 62.7h3.2M482.6 62.7h3.2M488.6 62.7h3.2M494.6 62.7h3.2M500.6 62.7h3.2M506.6 62.7h3.2M512.6 62.7h3.2" stroke="#ff0808" stroke-width="3.2" fill="none"/>
<path d="M328.2 52.5h3.2M333.4 55.8h3.2M338.9 58.2h3.2M341.7 59.2h3.2M344.7 60.2h3.2M350.7 61.9h3.2M356.7 63.7h3.2M362.7 65.3h3.2M368.7 66.8h3.2M371.7 67.4h3.2M377.7 68.3h3.2M383.7 68.8h3.2M389.7 69.1h3.2M395.7 69.3h3.2M398.7 69.4h3.2M404.7 69.5h3.2M410.7 69.6h3.2M416.7 69.7h3.2M422.7 69.7h3.2M428.6 69.7h3.2M434.6 69.8h3.2M440.6 69.8h3.2M446.6 69.8h3.2M452.6 69.8h3.2M458.6 69.8h3.2M464.6 69.8h3.2M470.6 69.8h3.2M476.6 69.8h3.2M482.6 69.8h3.2M488.6 69.8h3.2M494.6 69.8h3.2M500.6 69.8h3.2M506.6 69.8h3.2M512.6 69.8h3.2" stroke="#0505ff" stroke-width="3.2" fill="none"/>
<path d="M330.7 54.2h3.2M336.2 57.1h3.2M347.7 61.1h3.2M353.7 62.8h3.2M359.7 64.5h3.2M365.7 66.1h3.2M374.7 67.9h3.2M380.7 68.6h3.2M386.7 69h3.2M392.7 69.2h3.2M401.7 69.5h3.2M407.7 69.6h3.2M413.7 69.6h3.2M419.7 69.7h3.2M425.6 69.7h3.2M431.6 69.7h3.2M437.6 69.8h3.2M443.6 69.8h3.2M449.6 69.8h3.2M455.6 69.8h3.2M461.6 69.8h3.2M467.6 69.8h3.2M473.6 69.8h3.2M479.6 69.8h3.2M485.6 69.8h3.2M491.6 69.8h3.2M497.6 69.8h3.2M503.6 69.8h3.2M509.6 69.8h3.2M515.6 69.8h3.2" stroke="#ff0808" stroke-width="3.2" fill="none"/>
<path d="M330.7 60.3h3.2M333.2 61.8h3.2M335.9 63.2h3.2M341.4 65.4h3.2M347.2 67.3h3.2M353.2 69.2h3.2M359.2 71.1h3.2M365.2 73h3.2M371.2 74.5h3.2M377.2 75.5h3.2M383.2 76.2h3.2M389.2 76.6h3.2M395.2 76.9h3.2M401.2 77h3.2M407.2 77.1h3.2M413.2 77.2h3.2M419.2 77.3h3.2M425.1 77.3h3.2M431.1 77.4h3.2M437.1 77.4h3.2M443.1 77.4h3.2M449.1 77.4h3.2M452.1 77.4h3.2M458.1 77.4h3.2M464.1 77.4h3.2M470.1 77.4h3.2M476.1 77.4h3.2M482.1 77.4h3.2M488.1 77.4h3.2M494.1 77.4h3.2M500.1 77.4h3.2M506.1 77.4h3.2M512.1 77.4h3.2" stroke="#0505ff" stroke-width="3.2" fill="none"/>
<path d="M328.2 58.5h3.2M338.7 64.4h3.2M344.2 66.4h3.2M350.2 68.3h3.2M356.2 70.2h3.2M362.2 72.1h3.2M368.2 73.8h3.2M374.2 75h3.2M380.2 75.9h3.2M386.2 76.4h3.2M392.2 76.8h3.2M398.2 77h3.2M404.2 77.1h3.2M410.2 77.2h3.2M416.2 77.3h3.2M422.2 77.3h3.2M428.1 77.3h3.2M434.1 77.4h3.2M440.1 77.4h3.2M446.1 77.4h3.2M455.1 77.4h3.2M461.1 77.4h3.2M467.1 77.4h3.2M473.1 77.4h3.2M479.1 77.4h3.2M485.1 77.4h3.2M491.1 77.4h3.2M497.1 77.4h3.2M503.1 77.4h3.2M509.1 77.4h3.2M515.1 77.4h3.2" stroke="#ff0808" stroke-width="3.2" fill="none"/>
<path d="M330.7 66.4h3.2M335.9 69.5h3.2M341.4 71.9h3.2M346.9 73.9h3.2M352.4 75.8h3.2M357.9 77.8h3.2M363.4 79.7h3.2M369.4 81.6h3.2M375.4 83h3.2M381.4 84h3.2M387.4 84.6h3.2M393.4 85h3.2M399.4 85.2h3.2M405.4 85.3h3.2M411.4 85.4h3.2M414.4 85.5h3.2M420.4 85.5h3.2M426.4 85.6h3.2M432.4 85.6h3.2M438.4 85.6h3.2M444.4 85.6h3.2M450.4 85.7h3.2M456.4 85.7h3.2M462.4 85.7h3.2M468.4 85.7h3.2M474.4 85.7h3.2M480.4 85.7h3.2M486.4 85.7h3.2M492.4 85.7h3.2M498.4 85.7h3.2M504.4 85.7h3.2M510.4 85.7h3.2M516.4 85.7h3.2" stroke="#0505ff" stroke-width="3.2" fill="none"/>
<path d="M328.2 64.6h3.2M333.2 68h3.2M338.7 70.8h3.2M344.2 72.9h3.2M349.7 74.9h3.2M355.2 76.8h3.2M360.7 78.8h3.2M366.4 80.7h3.2M372.4 82.3h3.2M378.4 83.5h3.2M384.4 84.3h3.2M390.4 84.8h3.2M396.4 85.1h3.2M402.4 85.3h3.2M408.4 85.4h3.2M417.4 85.5h3.2M423.4 85.6h3.2M429.4 85.6h3.2M435.4 85.6h3.2M441.4 85.6h3.2M447.4 85.6h3.2M453.4 85.7h3.2M459.4 85.7h3.2M465.4 85.7h3.2M471.4 85.7h3.2M477.4 85.7h3.2M483.4 85.7h3.2M489.4 85.7h3.2M495.4 85.7h3.2M501.4 85.7h3.2M507.4 85.7h3.2M513.4 85.7h3.2" stroke="#ff0808" stroke-width="3.2" fill="none"/>
<path d="M328.2 68.2h3.2M333.2 72h3.2M338.4 75h3.2M343.9 77.5h3.2M349.4 79.7h3.2M354.9 81.6h3.2M360.4 83.5h3.2M363.4 84.5h3.2M369.4 86.2h3.2M375.4 87.5h3.2M378.4 88h3.2M384.4 88.8h3.2M390.4 89.2h3.2M396.4 89.5h3.2M402.4 89.7h3.2M408.4 89.8h3.2M414.4 89.9h3.2M420.4 90h3.2M426.4 90h3.2M432.4 90.1h3.2M435.4 90.1h3.2M441.4 90.1h3.2M447.4 90.1h3.2M453.4 90.1h3.2M459.4 90.1h3.2M465.4 90.1h3.2M471.4 90.1h3.2M477.4 90.1h3.2M483.4 90.1h3.2M489.4 90.1h3.2M495.4 90.1h3.2M501.4 90.1h3.2M507.4 90.1h3.2M513.4 90.1h3.2" stroke="#0505ff" stroke-width="3.2" fill="none"/>
<path d="M330.7 70.2h3.2M335.7 73.5h3.2M341.2 76.3h3.2M346.7 78.6h3.2M352.2 80.7h3.2M357.7 82.6h3.2M366.4 85.4h3.2M372.4 86.9h3.2M381.4 88.4h3.2M387.4 89h3.2M393.4 89.4h3.2M399.4 89.6h3.2M405.4 89.8h3.2M411.4 89.9h3.2M417.4 89.9h3.2M423.4 90h3.2M429.4 90h3.2M438.4 90.1h3.2M444.4 90.1h3.2M450.4 90.1h3.2M456.4 90.1h3.2M462.4 90.1h3.2M468.4 90.1h3.2M474.4 90.1h3.2M480.4 90.1h3.2M486.4 90.1h3.2M492.4 90.1h3.2M498.4 90.1h3.2M504.4 90.1h3.2M510.4 90.1h3.2M516.4 90.1h3.2" stroke="#ff0808" stroke-width="3.2" fill="none"/>
<path d="M328.2 71.8h3.2M332.9 75.6h3.2M337.9 78.8h3.2M343.4 81.6h3.2M348.9 83.8h3.2M354.4 85.8h3.2M360.2 87.7h3.2M366.2 89.6h3.2M372.2 91.2h3.2M378.2 92.4h3.2M384.2 93.2h3.2M390.2 93.8h3.2M396.2 94.2h3.2M399.2 94.3h3.2M405.2 94.5h3.2M408.2 94.5h3.2M414.2 94.6h3.2M420.2 94.7h3.2M426.1 94.8h3.2M432.1 94.8h3.2M438.1 94.8h3.2M444.1 94.8h3.2M450.1 94.9h3.2M456.1 94.9h3.2M462.1 94.9h3.2M468.1 94.9h3.2M474.1 94.9h3.2M480.1 94.9h3.2M486.1 94.9h3.2M492.1 94.9h3.2M498.1 94.9h3.2M504.1 94.9h3.2M510.1 94.9h3.2M516.1 94.9h3.2" stroke="#0505ff" stroke-width="3.2" fill="none"/>
<path d="M330.4 73.7h3.2M335.4 77.3h3.2M340.7 80.3h3.2M346.2 82.7h3.2M351.7 84.8h3.2M357.2 86.7h3.2M363.2 88.7h3.2M369.2 90.4h3.2M375.2 91.8h3.2M381.2 92.9h3.2M387.2 93.6h3.2M393.2 94h3.2M402.2 94.4h3.2M411.2 94.6h3.2M417.2 94.7h3.2M423.1 94.7h3.2M429.1 94.8h3.2M435.1 94.8h3.2M441.1 94.8h3.2M447.1 94.8h3.2M453.1 94.9h3.2M459.1 94.9h3.2M465.1 94.9h3.2M471.1 94.9h3.2M477.1 94.9h3.2M483.1 94.9h3.2M489.1 94.9h3.2M495.1 94.9h3.2M501.1 94.9h3.2M507.1 94.9h3.2M513.1 94.9h3.2" stroke="#ff0808" stroke-width="3.2" fill="none"/>
<path d="M330.4 77.2h3.2M335.2 80.9h3.2M340.4 84.1h3.2M343.2 85.5h3.2M348.7 88h3.2M354.2 90.2h3.2M356.9 91.2h3.2M362.4 93.1h3.2M368.4 94.9h3.2M374.4 96.4h3.2M377.4 97.1h3.2M383.4 98h3.2M389.4 98.7h3.2M395.4 99.1h3.2M398.4 99.3h3.2M404.4 99.5h3.2M407.4 99.6h3.2M413.4 99.7h3.2M419.4 99.8h3.2M425.4 99.9h3.2M431.4 99.9h3.2M437.4 99.9h3.2M443.4 100h3.2M449.4 100h3.2M455.4 100h3.2M461.4 100h3.2M467.4 100h3.2M473.4 100h3.2M476.4 100h3.2M479.4 100h3.2M485.4 100h3.2M491.4 100h3.2M494.4 100h3.2M500.4 100h3.2M506.4 100h3.2M512.4 100h3.2M515.4 100h3.2" stroke="#0505ff" stroke-width="3.2" fill="none"/>
<path d="M328.2 75.1h3.2M332.7 79h3.2M337.7 82.5h3.2M345.9 86.8h3.2M351.4 89.1h3.2M359.7 92.1h3.2M365.4 94h3.2M371.4 95.7h3.2M380.4 97.6h3.2M386.4 98.4h3.2M392.4 98.9h3.2M401.4 99.4h3.2M410.4 99.7h3.2M416.4 99.8h3.2M422.4 99.8h3.2M428.4 99.9h3.2M434.4 99.9h3.2M440.4 99.9h3.2M446.4 100h3.2M452.4 100h3.2M458.4 100h3.2M464.4 100h3.2M470.4 100h3.2M482.4 100h3.2M488.4 100h3.2M497.4 100h3.2M503.4 100h3.2M509.4 100h3.2" stroke="#ff0808" stroke-width="3.2" fill="none"/>
<path d="M330.4 80.9h3.2M335.2 84.8h3.2M340.2 88.2h3.2M345.7 91.2h3.2M351.2 93.7h3.2M356.7 95.8h3.2M362.2 97.8h3.2M368.2 99.7h3.2M374.2 101.3h3.2M380.2 102.6h3.2M383.2 103.1h3.2M389.2 103.9h3.2M392.2 104.3h3.2M398.2 104.7h3.2M404.2 105h3.2M410.2 105.2h3.2M416.2 105.3h3.2M422.2 105.4h3.2M428.1 105.5h3.2M434.1 105.5h3.2M440.1 105.6h3.2M443.1 105.6h3.2M449.1 105.6h3.2M452.1 105.6h3.2M458.1 105.6h3.2M464.1 105.6h3.2M470.1 105.6h3.2M476.1 105.6h3.2M482.1 105.6h3.2M485.1 105.6h3.2M491.1 105.6h3.2M497.1 105.6h3.2M503.1 105.6h3.2M509.1 105.6h3.2M515.1 105.6h3.2" stroke="#0505ff" stroke-width="3.2" fill="none"/>
<path d="M328.2 78.7h3.2M332.7 82.8h3.2M337.7 86.6h3.2M342.9 89.8h3.2M348.4 92.5h3.2M353.9 94.8h3.2M359.4 96.8h3.2M365.2 98.7h3.2M371.2 100.5h3.2M377.2 102h3.2M386.2 103.6h3.2M395.2 104.5h3.2M401.2 104.9h3.2M407.2 105.1h3.2M413.2 105.3h3.2M419.2 105.4h3.2M425.1 105.5h3.2M431.1 105.5h3.2M437.1 105.6h3.2M446.1 105.6h3.2M455.1 105.6h3.2M461.1 105.6h3.2M467.1 105.6h3.2M473.1 105.6h3.2M479.1 105.6h3.2M488.1 105.6h3.2M494.1 105.6h3.2M500.1 105.6h3.2M506.1 105.6h3.2M512.1 105.6h3.2" stroke="#ff0808" stroke-width="3.2" fill="none"/>
<path d="M328.2 81.7h3.2M332.7 86.1h3.2M337.4 89.9h3.2M342.4 93.2h3.2M347.9 96.2h3.2M353.4 98.8h3.2M358.9 101h3.2M364.4 103h3.2M367.4 104h3.2M373.4 105.8h3.2M376.4 106.6h3.2M382.4 107.8h3.2M388.4 108.7h3.2M394.4 109.4h3.2M397.4 109.6h3.2M403.4 109.9h3.2M409.4 110.2h3.2M415.4 110.3h3.2M421.4 110.4h3.2M427.4 110.5h3.2M433.4 110.5h3.2M439.4 110.6h3.2M445.4 110.6h3.2M451.4 110.6h3.2M457.4 110.6h3.2M463.4 110.7h3.2M469.4 110.7h3.2M475.4 110.7h3.2M481.4 110.7h3.2M487.4 110.7h3.2M493.4 110.7h3.2M499.4 110.7h3.2M502.4 110.7h3.2M508.4 110.7h3.2M514.4 110.7h3.2" stroke="#0505ff" stroke-width="3.2" fill="none"/>
<path d="M330.4 84h3.2M334.9 88h3.2M339.9 91.6h3.2M345.2 94.8h3.2M350.7 97.6h3.2M356.2 100h3.2M361.7 102.1h3.2M370.4 105h3.2M379.4 107.2h3.2M385.4 108.3h3.2M391.4 109.1h3.2M400.4 109.8h3.2M406.4 110.1h3.2M412.4 110.2h3.2M418.4 110.4h3.2M424.4 110.5h3.2M430.4 110.5h3.2M436.4 110.6h3.2M442.4 110.6h3.2M448.4 110.6h3.2M454.4 110.6h3.2M460.4 110.7h3.2M466.4 110.7h3.2M472.4 110.7h3.2M478.4 110.7h3.2M484.4 110.7h3.2M490.4 110.7h3.2M496.4 110.7h3.2M505.4 110.7h3.2M511.4 110.7h3.2M517.4 110.7h3.2" stroke="#ff0808" stroke-width="3.2" fill="none"/>
<path d="M330.2 86.9h3.2M334.7 91.2h3.2M336.9 93.1h3.2M341.9 96.8h3.2M344.4 98.4h3.2M349.7 101.4h3.2M352.4 102.8h3.2M355.2 104.1h3.2M360.7 106.5h3.2M366.2 108.6h3.2M371.9 110.5h3.2M377.9 112.2h3.2M383.9 113.4h3.2M389.9 114.4h3.2M395.9 115h3.2M401.9 115.4h3.2M407.9 115.7h3.2M413.9 115.9h3.2M419.9 116.1h3.2M425.9 116.2h3.2M431.9 116.2h3.2M437.9 116.3h3.2M440.9 116.3h3.2M446.9 116.3h3.2M452.9 116.4h3.2M458.9 116.4h3.2M464.9 116.4h3.2M470.9 116.4h3.2M476.9 116.4h3.2M482.9 116.4h3.2M488.9 116.4h3.2M494.9 116.4h3.2M500.9 116.4h3.2M506.9 116.4h3.2M512.9 116.4h3.2" stroke="#0505ff" stroke-width="3.2" fill="none"/>
<path d="M328.2 84.8h3.2M332.4 89.2h3.2M339.4 95h3.2M346.9 99.9h3.2M357.9 105.4h3.2M363.4 107.6h3.2M368.9 109.6h3.2M374.9 111.4h3.2M380.9 112.9h3.2M386.9 113.9h3.2M392.9 114.7h3.2M398.9 115.2h3.2M404.9 115.6h3.2M410.9 115.8h3.2M416.9 116h3.2M422.9 116.1h3.2M428.9 116.2h3.2M434.9 116.3h3.2M443.9 116.3h3.2M449.9 116.3h3.2M455.9 116.4h3.2M461.9 116.4h3.2M467.9 116.4h3.2M473.9 116.4h3.2M479.9 116.4h3.2M485.9 116.4h3.2M491.9 116.4h3.2M497.9 116.4h3.2M503.9 116.4h3.2M509.9 116.4h3.2M515.9 116.4h3.2" stroke="#ff0808" stroke-width="3.2" fill="none"/>
<path d="M328.2 88h3.2M332.2 92.4h3.2M336.7 96.7h3.2M338.9 98.6h3.2M343.9 102.5h3.2M348.9 105.7h3.2M351.4 107.2h3.2M356.9 110.2h3.2M362.4 112.8h3.2M367.9 115.1h3.2M373.4 117h3.2M379.4 118.7h3.2M385.4 120h3.2M388.4 120.5h3.2M394.4 121.4h3.2M400.4 121.9h3.2M406.4 122.3h3.2M412.4 122.6h3.2M418.4 122.8h3.2M421.4 122.9h3.2M427.4 123h3.2M433.4 123.1h3.2M436.4 123.1h3.2M442.4 123.2h3.2M448.4 123.2h3.2M454.4 123.2h3.2M460.4 123.2h3.2M466.4 123.3h3.2M472.4 123.3h3.2M478.4 123.3h3.2M484.4 123.3h3.2M490.4 123.3h3.2M496.4 123.3h3.2M502.4 123.3h3.2M508.4 123.3h3.2M511.4 123.3h3.2M517.4 123.3h3.2" stroke="#0505ff" stroke-width="3.2" fill="none"/>
<path d="M330.2 90.3h3.2M334.4 94.7h3.2M341.4 100.6h3.2M346.4 104.2h3.2M354.2 108.8h3.2M359.7 111.5h3.2M365.2 114h3.2M370.7 116.1h3.2M376.4 117.9h3.2M382.4 119.4h3.2M391.4 121h3.2M397.4 121.7h3.2M403.4 122.1h3.2M409.4 122.5h3.2M415.4 122.7h3.2M424.4 122.9h3.2M430.4 123h3.2M439.4 123.1h3.2M445.4 123.2h3.2M451.4 123.2h3.2M457.4 123.2h3.2M463.4 123.3h3.2M469.4 123.3h3.2M475.4 123.3h3.2M481.4 123.3h3.2M487.4 123.3h3.2M493.4 123.3h3.2M499.4 123.3h3.2M505.4 123.3h3.2M514.4 123.3h3.2" stroke="#ff0808" stroke-width="3.2" fill="none"/>
<path d="M328.2 89.7h3.2M332.2 94.2h3.2M336.7 98.7h3.2M338.9 100.7h3.2M341.2 102.6h3.2M346.2 106.4h3.2M351.2 109.7h3.2M356.4 112.7h3.2M361.9 115.6h3.2M367.4 118.1h3.2M372.9 120.2h3.2M378.7 122h3.2M384.7 123.5h3.2M387.7 124.1h3.2M393.7 125.1h3.2M399.7 125.8h3.2M405.7 126.3h3.2M411.7 126.6h3.2M414.7 126.7h3.2M420.7 126.9h3.2M426.6 127.1h3.2M432.6 127.2h3.2M438.6 127.3h3.2M444.6 127.3h3.2M450.6 127.4h3.2M456.6 127.4h3.2M462.6 127.4h3.2M468.6 127.4h3.2M474.6 127.5h3.2M480.6 127.5h3.2M486.6 127.5h3.2M492.6 127.5h3.2M498.6 127.5h3.2M504.6 127.5h3.2M510.6 127.5h3.2M516.6 127.5h3.2" stroke="#0505ff" stroke-width="3.2" fill="none"/>
<path d="M330.2 92h3.2M334.4 96.5h3.2M343.7 104.6h3.2M348.7 108.1h3.2M353.7 111.2h3.2M359.2 114.2h3.2M364.7 116.9h3.2M370.2 119.2h3.2M375.7 121.1h3.2M381.7 122.8h3.2M390.7 124.7h3.2M396.7 125.5h3.2M402.7 126h3.2M408.7 126.5h3.2M417.7 126.9h3.2M423.6 127h3.2M429.6 127.2h3.2M435.6 127.2h3.2M441.6 127.3h3.2M447.6 127.4h3.2M453.6 127.4h3.2M459.6 127.4h3.2M465.6 127.4h3.2M471.6 127.5h3.2M477.6 127.5h3.2M483.6 127.5h3.2M489.6 127.5h3.2M495.6 127.5h3.2M501.6 127.5h3.2M507.6 127.5h3.2M513.6 127.5h3.2" stroke="#ff0808" stroke-width="3.2" fill="none"/>
<path d="M328.2 91.4h3.2M332.2 96.1h3.2M334.2 98.3h3.2M336.4 100.6h3.2M340.9 104.8h3.2M345.7 108.6h3.2M350.7 112.2h3.2M355.7 115.5h3.2M360.9 118.5h3.2M366.4 121.3h3.2M371.9 123.7h3.2M374.7 124.7h3.2M380.4 126.6h3.2M386.4 128.2h3.2M392.4 129.4h3.2M398.4 130.2h3.2M404.4 130.9h3.2M410.4 131.4h3.2M416.4 131.7h3.2M422.4 131.9h3.2M428.4 132.1h3.2M434.4 132.3h3.2M440.4 132.3h3.2M446.4 132.4h3.2M452.4 132.5h3.2M458.4 132.5h3.2M461.4 132.5h3.2M464.4 132.5h3.2M470.4 132.5h3.2M476.4 132.6h3.2M482.4 132.6h3.2M488.4 132.6h3.2M494.4 132.6h3.2M500.4 132.6h3.2M506.4 132.6h3.2M512.4 132.6h3.2" stroke="#0505ff" stroke-width="3.2" fill="none"/>
<path d="M330.2 93.8h3.2M338.7 102.7h3.2M343.2 106.7h3.2M348.2 110.5h3.2M353.2 113.9h3.2M358.2 116.9h3.2M363.7 119.9h3.2M369.2 122.5h3.2M377.4 125.7h3.2M383.4 127.5h3.2M389.4 128.8h3.2M395.4 129.8h3.2M401.4 130.6h3.2M407.4 131.1h3.2M413.4 131.5h3.2M419.4 131.8h3.2M425.4 132h3.2M431.4 132.2h3.2M437.4 132.3h3.2M443.4 132.4h3.2M449.4 132.4h3.2M455.4 132.5h3.2M467.4 132.5h3.2M473.4 132.5h3.2M479.4 132.6h3.2M485.4 132.6h3.2M491.4 132.6h3.2M497.4 132.6h3.2M503.4 132.6h3.2M509.4 132.6h3.2M515.4 132.6h3.2" stroke="#ff0808" stroke-width="3.2" fill="none"/>
<path d="M328.2 92.4h3.2M332.2 97.3h3.2M336.2 101.6h3.2M340.7 106h3.2M345.2 109.9h3.2M350.2 113.7h3.2M355.2 117.2h3.2M357.7 118.7h3.2M363.2 121.8h3.2M368.7 124.5h3.2M374.2 126.9h3.2M379.9 128.9h3.2M385.9 130.6h3.2M388.9 131.3h3.2M394.9 132.4h3.2M400.9 133.3h3.2M406.9 133.9h3.2M412.9 134.4h3.2M418.9 134.8h3.2M424.9 135h3.2M430.9 135.2h3.2M436.9 135.4h3.2M442.9 135.5h3.2M448.9 135.5h3.2M454.9 135.6h3.2M460.9 135.6h3.2M466.9 135.7h3.2M472.9 135.7h3.2M478.9 135.7h3.2M484.9 135.7h3.2M490.9 135.7h3.2M496.9 135.7h3.2M502.9 135.7h3.2M508.9 135.7h3.2M514.9 135.7h3.2" stroke="#0505ff" stroke-width="3.2" fill="none"/>
<path d="M330.2 94.9h3.2M334.2 99.5h3.2M338.4 103.9h3.2M342.9 108h3.2M347.7 111.9h3.2M352.7 115.5h3.2M360.4 120.3h3.2M365.9 123.2h3.2M371.4 125.8h3.2M376.9 127.9h3.2M382.9 129.8h3.2M391.9 131.9h3.2M397.9 132.9h3.2M403.9 133.6h3.2M409.9 134.2h3.2M415.9 134.6h3.2M421.9 134.9h3.2M427.9 135.1h3.2M433.9 135.3h3.2M439.9 135.4h3.2M445.9 135.5h3.2M451.9 135.6h3.2M457.9 135.6h3.2M463.9 135.7h3.2M469.9 135.7h3.2M475.9 135.7h3.2M481.9 135.7h3.2M487.9 135.7h3.2M493.9 135.7h3.2M499.9 135.7h3.2M505.9 135.7h3.2M511.9 135.7h3.2" stroke="#ff0808" stroke-width="3.2" fill="none"/>
<path d="M330.2 96h3.2M332.2 98.4h3.2M336.2 102.9h3.2M338.4 105.3h3.2M342.9 109.6h3.2M347.4 113.5h3.2M352.4 117.3h3.2M357.4 120.7h3.2M362.7 123.8h3.2M368.2 126.7h3.2M373.7 129.2h3.2M379.2 131.3h3.2M385.2 133.2h3.2M391.2 134.7h3.2M394.2 135.3h3.2M400.2 136.4h3.2M406.2 137.2h3.2M412.2 137.8h3.2M418.2 138.3h3.2M424.1 138.7h3.2M430.1 138.9h3.2M436.1 139.1h3.2M442.1 139.3h3.2M448.1 139.4h3.2M454.1 139.4h3.2M460.1 139.5h3.2M466.1 139.5h3.2M472.1 139.6h3.2M478.1 139.6h3.2M481.1 139.6h3.2M484.1 139.6h3.2M490.1 139.6h3.2M496.1 139.6h3.2M502.1 139.6h3.2M508.1 139.6h3.2M511.1 139.6h3.2M517.1 139.6h3.2" stroke="#0505ff" stroke-width="3.2" fill="none"/>
<path d="M328.2 93.4h3.2M334.2 100.7h3.2M340.7 107.5h3.2M345.2 111.6h3.2M349.9 115.4h3.2M354.9 119h3.2M359.9 122.2h3.2M365.4 125.3h3.2M370.9 128h3.2M376.4 130.3h3.2M382.2 132.3h3.2M388.2 134h3.2M397.2 135.9h3.2M403.2 136.8h3.2M409.2 137.6h3.2M415.2 138.1h3.2M421.2 138.5h3.2M427.1 138.8h3.2M433.1 139h3.2M439.1 139.2h3.2M445.1 139.3h3.2M451.1 139.4h3.2M457.1 139.5h3.2M463.1 139.5h3.2M469.1 139.5h3.2M475.1 139.6h3.2M487.1 139.6h3.2M493.1 139.6h3.2M499.1 139.6h3.2M505.1 139.6h3.2M514.1 139.6h3.2" stroke="#ff0808" stroke-width="3.2" fill="none"/>
<path d="M328.2 93.9h3.2M332.2 99h3.2M336.2 103.6h3.2M340.4 108h3.2M342.7 110.1h3.2M347.2 114.1h3.2M351.9 117.9h3.2M356.9 121.4h3.2M361.9 124.5h3.2M367.4 127.4h3.2M372.9 130h3.2M378.4 132.2h3.2M384.2 134.1h3.2M390.2 135.8h3.2M393.2 136.5h3.2M399.2 137.7h3.2M405.2 138.6h3.2M411.2 139.4h3.2M417.2 139.9h3.2M423.1 140.4h3.2M429.1 140.7h3.2M435.1 140.9h3.2M441.1 141.1h3.2M447.1 141.2h3.2M450.1 141.3h3.2M453.1 141.3h3.2M459.1 141.4h3.2M465.1 141.4h3.2M471.1 141.4h3.2M477.1 141.5h3.2M483.1 141.5h3.2M486.1 141.5h3.2M492.1 141.5h3.2M498.1 141.5h3.2M504.1 141.5h3.2M510.1 141.5h3.2M516.1 141.5h3.2" stroke="#0505ff" stroke-width="3.2" fill="none"/>
<path d="M330.2 96.5h3.2M334.2 101.3h3.2M338.2 105.7h3.2M344.9 112.2h3.2M349.4 115.9h3.2M354.4 119.7h3.2M359.4 123h3.2M364.7 126h3.2M370.2 128.8h3.2M375.7 131.1h3.2M381.2 133.1h3.2M387.2 135h3.2M396.2 137.1h3.2M402.2 138.2h3.2M408.2 139h3.2M414.2 139.7h3.2M420.2 140.2h3.2M426.1 140.5h3.2M432.1 140.8h3.2M438.1 141h3.2M444.1 141.1h3.2M456.1 141.3h3.2M462.1 141.4h3.2M468.1 141.4h3.2M474.1 141.5h3.2M480.1 141.5h3.2M489.1 141.5h3.2M495.1 141.5h3.2M501.1 141.5h3.2M507.1 141.5h3.2M513.1 141.5h3.2" stroke="#ff0808" stroke-width="3.2" fill="none"/>
<path d="M330.2 96.8h3.2M334.2 101.7h3.2M338.2 106.1h3.2M342.7 110.6h3.2M347.2 114.6h3.2M349.4 116.5h3.2M354.4 120.3h3.2M359.4 123.7h3.2M364.7 126.8h3.2M370.2 129.6h3.2M375.7 132.1h3.2M381.2 134.3h3.2M386.9 136.2h3.2M389.9 137h3.2M395.9 138.5h3.2M401.9 139.8h3.2M407.9 140.7h3.2M413.9 141.5h3.2M419.9 142.1h3.2M425.9 142.5h3.2M431.9 142.9h3.2M437.9 143.1h3.2M443.9 143.3h3.2M449.9 143.4h3.2M455.9 143.5h3.2M461.9 143.6h3.2M467.9 143.6h3.2M473.9 143.7h3.2M479.9 143.7h3.2M485.9 143.7h3.2M491.9 143.7h3.2M497.9 143.8h3.2M503.9 143.8h3.2M509.9 143.8h3.2M515.9 143.8h3.2" stroke="#0505ff" stroke-width="3.2" fill="none"/>
<path d="M328.2 94.2h3.2M332.2 99.3h3.2M336.2 103.9h3.2M340.4 108.4h3.2M344.9 112.7h3.2M351.9 118.4h3.2M356.9 122h3.2M361.9 125.2h3.2M367.4 128.3h3.2M372.9 130.9h3.2M378.4 133.2h3.2M383.9 135.2h3.2M392.9 137.8h3.2M398.9 139.2h3.2M404.9 140.3h3.2M410.9 141.1h3.2M416.9 141.8h3.2M422.9 142.3h3.2M428.9 142.7h3.2M434.9 143h3.2M440.9 143.2h3.2M446.9 143.4h3.2M452.9 143.5h3.2M458.9 143.6h3.2M464.9 143.6h3.2M470.9 143.7h3.2M476.9 143.7h3.2M482.9 143.7h3.2M488.9 143.7h3.2M494.9 143.7h3.2M500.9 143.8h3.2M506.9 143.8h3.2M512.9 143.8h3.2" stroke="#ff0808" stroke-width="3.2" fill="none"/>
<path d="M330.2 97.2h3.2M334.2 102.1h3.2M338.2 106.5h3.2M342.7 111.1h3.2M347.2 115.1h3.2M349.4 117h3.2M351.9 119h3.2M356.9 122.7h3.2M361.9 125.9h3.2M367.2 129h3.2M372.7 131.8h3.2M378.2 134.3h3.2M383.7 136.4h3.2M389.4 138.4h3.2M395.4 140.1h3.2M401.4 141.5h3.2M407.4 142.6h3.2M410.4 143.1h3.2M416.4 144h3.2M422.4 144.6h3.2M428.4 145.1h3.2M434.4 145.5h3.2M440.4 145.8h3.2M443.4 145.9h3.2M449.4 146.1h3.2M455.4 146.2h3.2M461.4 146.3h3.2M467.4 146.4h3.2M473.4 146.5h3.2M479.4 146.5h3.2M485.4 146.5h3.2M491.4 146.5h3.2M497.4 146.6h3.2M503.4 146.6h3.2M506.4 146.6h3.2M512.4 146.6h3.2" stroke="#0505ff" stroke-width="3.2" fill="none"/>
<path d="M328.2 94.5h3.2M332.2 99.7h3.2M336.2 104.3h3.2M340.4 108.8h3.2M344.9 113.2h3.2M354.4 120.9h3.2M359.4 124.4h3.2M364.4 127.4h3.2M369.9 130.4h3.2M375.4 133.1h3.2M380.9 135.4h3.2M386.4 137.4h3.2M392.4 139.2h3.2M398.4 140.8h3.2M404.4 142.1h3.2M413.4 143.6h3.2M419.4 144.3h3.2M425.4 144.9h3.2M431.4 145.3h3.2M437.4 145.7h3.2M446.4 146h3.2M452.4 146.2h3.2M458.4 146.3h3.2M464.4 146.4h3.2M470.4 146.4h3.2M476.4 146.5h3.2M482.4 146.5h3.2M488.4 146.5h3.2M494.4 146.5h3.2M500.4 146.6h3.2M509.4 146.6h3.2M515.4 146.6h3.2" stroke="#ff0808" stroke-width="3.2" fill="none"/>
<path d="M328.2 94.9h3.2M331.9 99.7h3.2M335.9 104.5h3.2M339.9 108.8h3.2M342.2 111h3.2M346.7 115.2h3.2M351.2 119h3.2M356.2 122.8h3.2M358.7 124.6h3.2M361.2 126.2h3.2M363.7 127.8h3.2M368.9 130.9h3.2M374.4 133.7h3.2M379.9 136.2h3.2M385.4 138.5h3.2M390.9 140.4h3.2M396.9 142.3h3.2M402.9 143.9h3.2M408.9 145.3h3.2M414.9 146.5h3.2M420.9 147.4h3.2M426.9 148.2h3.2M432.9 148.8h3.2M435.9 149h3.2M441.9 149.4h3.2M447.9 149.7h3.2M453.9 150h3.2M459.9 150.1h3.2M462.9 150.2h3.2M468.9 150.3h3.2M474.9 150.4h3.2M480.9 150.5h3.2M486.9 150.5h3.2M492.9 150.5h3.2M498.9 150.6h3.2M504.9 150.6h3.2M510.9 150.6h3.2M516.9 150.6h3.2" stroke="#0505ff" stroke-width="3.2" fill="none"/>
<path d="M329.9 97.2h3.2M333.9 102.2h3.2M337.9 106.7h3.2M344.4 113.2h3.2M348.9 117.2h3.2M353.7 121h3.2M366.2 129.3h3.2M371.7 132.3h3.2M377.2 135h3.2M382.7 137.4h3.2M388.2 139.5h3.2M393.9 141.4h3.2M399.9 143.2h3.2M405.9 144.7h3.2M411.9 145.9h3.2M417.9 146.9h3.2M423.9 147.8h3.2M429.9 148.5h3.2M438.9 149.2h3.2M444.9 149.6h3.2M450.9 149.9h3.2M456.9 150.1h3.2M465.9 150.3h3.2M471.9 150.4h3.2M477.9 150.4h3.2M483.9 150.5h3.2M489.9 150.5h3.2M495.9 150.5h3.2M501.9 150.6h3.2M507.9 150.6h3.2M513.9 150.6h3.2" stroke="#ff0808" stroke-width="3.2" fill="none"/>
<path d="M328.2 95h3.2M331.9 99.9h3.2M335.9 104.7h3.2M339.9 109h3.2M344.4 113.4h3.2M348.9 117.4h3.2M353.7 121.3h3.2M358.7 124.9h3.2M363.7 128.2h3.2M366.2 129.7h3.2M371.7 132.8h3.2M377.2 135.6h3.2M382.7 138.1h3.2M385.4 139.2h3.2M388.2 140.3h3.2M393.7 142.3h3.2M399.7 144.2h3.2M405.7 145.9h3.2M411.7 147.4h3.2M417.7 148.6h3.2M423.6 149.7h3.2M426.6 150.2h3.2M429.6 150.6h3.2M435.6 151.4h3.2M441.6 151.9h3.2M447.6 152.4h3.2M453.6 152.8h3.2M459.6 153.1h3.2M465.6 153.3h3.2M471.6 153.4h3.2M477.6 153.6h3.2M483.6 153.6h3.2M489.6 153.7h3.2M495.6 153.7h3.2M501.6 153.8h3.2M507.6 153.8h3.2M513.6 153.8h3.2" stroke="#0505ff" stroke-width="3.2" fill="none"/>
<path d="M329.9 97.4h3.2M333.9 102.3h3.2M337.9 106.9h3.2M342.2 111.3h3.2M346.7 115.5h3.2M351.2 119.3h3.2M356.2 123.2h3.2M361.2 126.6h3.2M368.9 131.3h3.2M374.4 134.3h3.2M379.9 136.9h3.2M390.9 141.3h3.2M396.7 143.3h3.2M402.7 145.1h3.2M408.7 146.7h3.2M414.7 148h3.2M420.7 149.2h3.2M432.6 151h3.2M438.6 151.7h3.2M444.6 152.2h3.2M450.6 152.6h3.2M456.6 152.9h3.2M462.6 153.2h3.2M468.6 153.4h3.2M474.6 153.5h3.2M480.6 153.6h3.2M486.6 153.7h3.2M492.6 153.7h3.2M498.6 153.8h3.2M504.6 153.8h3.2M510.6 153.8h3.2M516.6 153.8h3.2" stroke="#ff0808" stroke-width="3.2" fill="none"/>
<path d="M328.2 95.1h3.2M331.9 100h3.2M335.9 104.8h3.2M339.9 109.1h3.2M344.4 113.6h3.2M348.9 117.6h3.2M353.7 121.4h3.2M358.7 125.1h3.2M363.7 128.4h3.2M368.9 131.6h3.2M374.4 134.5h3.2M379.9 137.2h3.2M385.4 139.6h3.2M390.9 141.8h3.2M396.4 143.8h3.2M399.4 144.7h3.2M405.4 146.6h3.2M411.4 148.2h3.2M417.4 149.6h3.2M423.4 150.8h3.2M426.4 151.4h3.2M432.4 152.4h3.2M435.4 152.8h3.2M441.4 153.6h3.2M447.4 154.3h3.2M453.4 154.8h3.2M459.4 155.2h3.2M465.4 155.6h3.2M471.4 155.8h3.2M477.4 156h3.2M483.4 156.1h3.2M489.4 156.2h3.2M495.4 156.3h3.2M498.4 156.4h3.2M504.4 156.4h3.2M510.4 156.4h3.2M516.4 156.5h3.2" stroke="#0505ff" stroke-width="3.2" fill="none"/>
<path d="M329.9 97.5h3.2M333.9 102.4h3.2M337.9 107h3.2M342.2 111.4h3.2M346.7 115.6h3.2M351.2 119.5h3.2M356.2 123.3h3.2M361.2 126.8h3.2M366.2 130h3.2M371.7 133.1h3.2M377.2 135.9h3.2M382.7 138.5h3.2M388.2 140.7h3.2M393.7 142.8h3.2M402.4 145.7h3.2M408.4 147.4h3.2M414.4 148.9h3.2M420.4 150.2h3.2M429.4 151.9h3.2M438.4 153.3h3.2M444.4 154h3.2M450.4 154.6h3.2M456.4 155h3.2M462.4 155.4h3.2M468.4 155.7h3.2M474.4 155.9h3.2M480.4 156.1h3.2M486.4 156.2h3.2M492.4 156.3h3.2M501.4 156.4h3.2M507.4 156.4h3.2M513.4 156.5h3.2" stroke="#ff0808" stroke-width="3.2" fill="none"/>
<path d="M329.9 97.5h3.2M333.9 102.5h3.2M337.9 107.1h3.2M342.2 111.5h3.2M346.7 115.7h3.2M351.2 119.6h3.2M353.7 121.6h3.2M358.7 125.3h3.2M363.7 128.6h3.2M368.7 131.6h3.2M374.2 134.6h3.2M379.7 137.4h3.2M385.2 139.8h3.2M390.7 142.1h3.2M393.4 143.1h3.2M396.2 144.1h3.2M401.9 146.1h3.2M407.9 147.9h3.2M413.9 149.6h3.2M416.9 150.4h3.2M422.9 151.8h3.2M428.9 153.1h3.2M434.9 154.2h3.2M440.9 155.2h3.2M446.9 156h3.2M452.9 156.7h3.2M458.9 157.3h3.2M464.9 157.8h3.2M470.9 158.2h3.2M476.9 158.6h3.2M482.9 159h3.2M488.9 159.3h3.2M494.9 159.5h3.2M500.9 159.7h3.2M506.9 159.8h3.2M512.9 160h3.2M515.9 160h3.2" stroke="#0505ff" stroke-width="3.2" fill="none"/>
<path d="M328.2 95.2h3.2M331.9 100.1h3.2M335.9 104.8h3.2M339.9 109.2h3.2M344.4 113.7h3.2M348.9 117.7h3.2M356.2 123.5h3.2M361.2 127h3.2M366.2 130.1h3.2M371.4 133.2h3.2M376.9 136h3.2M382.4 138.6h3.2M387.9 141h3.2M398.9 145.1h3.2M404.9 147h3.2M410.9 148.8h3.2M419.9 151.1h3.2M425.9 152.5h3.2M431.9 153.7h3.2M437.9 154.7h3.2M443.9 155.6h3.2M449.9 156.4h3.2M455.9 157h3.2M461.9 157.6h3.2M467.9 158h3.2M473.9 158.4h3.2M479.9 158.8h3.2M485.9 159.1h3.2M491.9 159.4h3.2M497.9 159.6h3.2M503.9 159.8h3.2M509.9 159.9h3.2" stroke="#ff0808" stroke-width="3.2" fill="none"/>
<path d="M329.9 97.5h3.2M333.9 102.5h3.2M337.9 107.1h3.2M342.2 111.5h3.2M346.7 115.7h3.2M351.2 119.6h3.2M353.7 121.6h3.2M358.7 125.3h3.2M363.7 128.6h3.2M368.7 131.6h3.2M371.4 133.2h3.2M376.9 136.1h3.2M382.4 138.7h3.2M387.9 141h3.2M393.4 143.2h3.2M398.9 145.1h3.2M404.9 147.1h3.2M410.9 148.9h3.2M413.9 149.7h3.2M419.9 151.2h3.2M425.9 152.6h3.2M431.9 153.9h3.2M437.9 155h3.2M443.9 156.1h3.2M449.9 157.1h3.2M455.9 157.9h3.2M461.9 158.7h3.2M464.9 159h3.2M470.9 159.7h3.2M476.9 160.3h3.2M482.9 160.7h3.2M488.9 161.1h3.2M494.9 161.5h3.2M500.9 161.8h3.2M506.9 162h3.2M512.9 162.1h3.2" stroke="#0505ff" stroke-width="3.2" fill="none"/>
<path d="M328.2 95.2h3.2M331.9 100.1h3.2M335.9 104.9h3.2M339.9 109.2h3.2M344.4 113.7h3.2M348.9 117.7h3.2M356.2 123.5h3.2M361.2 127h3.2M366.2 130.2h3.2M374.2 134.7h3.2M379.7 137.4h3.2M385.2 139.9h3.2M390.7 142.1h3.2M396.2 144.2h3.2M401.9 146.1h3.2M407.9 148h3.2M416.9 150.5h3.2M422.9 151.9h3.2M428.9 153.3h3.2M434.9 154.5h3.2M440.9 155.6h3.2M446.9 156.6h3.2M452.9 157.5h3.2M458.9 158.3h3.2M467.9 159.4h3.2M473.9 160h3.2M479.9 160.5h3.2M485.9 161h3.2M491.9 161.3h3.2M497.9 161.6h3.2M503.9 161.9h3.2M509.9 162.1h3.2M515.9 162.2h3.2" stroke="#ff0808" stroke-width="3.2" fill="none"/>
<path d="M328.2 95.2h3.2M331.9 100.1h3.2M335.9 104.9h3.2M339.9 109.2h3.2M344.4 113.7h3.2M348.9 117.7h3.2M353.7 121.6h3.2M358.7 125.3h3.2M363.7 128.6h3.2M368.7 131.7h3.2M374.2 134.7h3.2M376.9 136.1h3.2M382.4 138.7h3.2M387.9 141.1h3.2M390.7 142.2h3.2M396.2 144.2h3.2M398.9 145.2h3.2M404.9 147.2h3.2M410.9 148.9h3.2M416.9 150.6h3.2M422.9 152h3.2M428.9 153.4h3.2M434.9 154.7h3.2M440.9 155.8h3.2M446.9 156.9h3.2M452.9 157.8h3.2M458.9 158.7h3.2M461.9 159.1h3.2M467.9 159.9h3.2M473.9 160.7h3.2M479.9 161.3h3.2M485.9 161.9h3.2M491.9 162.5h3.2M497.9 163h3.2M503.9 163.4h3.2M509.9 163.8h3.2M512.9 163.9h3.2" stroke="#0505ff" stroke-width="3.2" fill="none"/>
<path d="M329.9 97.5h3.2M333.9 102.5h3.2M337.9 107.1h3.2M342.2 111.5h3.2M346.7 115.7h3.2M351.2 119.6h3.2M356.2 123.5h3.2M361.2 127h3.2M366.2 130.2h3.2M371.4 133.2h3.2M379.7 137.4h3.2M385.2 139.9h3.2M393.4 143.2h3.2M401.9 146.2h3.2M407.9 148.1h3.2M413.9 149.8h3.2M419.9 151.3h3.2M425.9 152.7h3.2M431.9 154h3.2M437.9 155.2h3.2M443.9 156.3h3.2M449.9 157.4h3.2M455.9 158.3h3.2M464.9 159.6h3.2M470.9 160.3h3.2M476.9 161h3.2M482.9 161.6h3.2M488.9 162.2h3.2M494.9 162.7h3.2M500.9 163.2h3.2M506.9 163.6h3.2M515.9 164.1h3.2" stroke="#ff0808" stroke-width="3.2" fill="none"/>
</g>
<rect x="468.3" y="8.7" width="50.3" height="16" fill="#fff" stroke="#bdbdbd" stroke-width="0.6"/>
<rect x="472.9" y="13" width="3" height="3" fill="#0505ff"/>
<rect x="472.9" y="18.9" width="3" height="3" fill="#ff0808"/>
<text x="481.5" y="16.1" font-size="5.0" text-anchor="start" fill="#111">Training Datasets</text>
<text x="480" y="22" font-size="5.0" text-anchor="start" fill="#111">Testing Datasets</text>
<path d="M329.2 157.6h-3M329.2 138.9h-3M329.2 120.3h-3M329.2 101.7h-3M329.2 83.1h-3M329.2 64.5h-3M329.2 45.9h-3M329.2 27.3h-3M329.2 8.8h-3M329.2 161.3h-1.7M329.2 159.4h-1.7M329.2 155.7h-1.7M329.2 153.8h-1.7M329.2 152h-1.7M329.2 150.1h-1.7M329.2 148.2h-1.7M329.2 146.4h-1.7M329.2 144.5h-1.7M329.2 142.7h-1.7M329.2 140.8h-1.7M329.2 137.1h-1.7M329.2 135.2h-1.7M329.2 133.4h-1.7M329.2 131.5h-1.7M329.2 129.7h-1.7M329.2 127.8h-1.7M329.2 125.9h-1.7M329.2 124.1h-1.7M329.2 122.2h-1.7M329.2 118.5h-1.7M329.2 116.6h-1.7M329.2 114.8h-1.7M329.2 112.9h-1.7M329.2 111h-1.7M329.2 109.2h-1.7M329.2 107.3h-1.7M329.2 105.5h-1.7M329.2 103.6h-1.7M329.2 99.9h-1.7M329.2 98h-1.7M329.2 96.2h-1.7M329.2 94.3h-1.7M329.2 92.5h-1.7M329.2 90.6h-1.7M329.2 88.7h-1.7M329.2 86.9h-1.7M329.2 85h-1.7M329.2 81.3h-1.7M329.2 79.4h-1.7M329.2 77.6h-1.7M329.2 75.7h-1.7M329.2 73.8h-1.7M329.2 72h-1.7M329.2 70.1h-1.7M329.2 68.3h-1.7M329.2 66.4h-1.7M329.2 62.7h-1.7M329.2 60.8h-1.7M329.2 59h-1.7M329.2 57.1h-1.7M329.2 55.2h-1.7M329.2 53.4h-1.7M329.2 51.5h-1.7M329.2 49.7h-1.7M329.2 47.8h-1.7M329.2 44.1h-1.7M329.2 42.2h-1.7M329.2 40.4h-1.7M329.2 38.5h-1.7M329.2 36.6h-1.7M329.2 34.8h-1.7M329.2 32.9h-1.7M329.2 31.1h-1.7M329.2 29.2h-1.7M329.2 25.5h-1.7M329.2 23.6h-1.7M329.2 21.8h-1.7M329.2 19.9h-1.7M329.2 18h-1.7M329.2 16.2h-1.7M329.2 14.3h-1.7M329.2 12.5h-1.7M329.2 10.6h-1.7M329.2 161.6v1.8M329.2 8.7v1.8M334.4 161.6v1.8M334.4 8.7v1.8M338.5 161.6v1.8M338.5 8.7v1.8M341.8 161.6v1.8M341.8 8.7v1.8M344.6 161.6v1.8M344.6 8.7v1.8M347 161.6v1.8M347 8.7v1.8M349.2 161.6v1.8M349.2 8.7v1.8M351.1 161.6v3M351.1 8.7v3M363.7 161.6v1.8M363.7 8.7v1.8M371.1 161.6v1.8M371.1 8.7v1.8M376.3 161.6v1.8M376.3 8.7v1.8M380.4 161.6v1.8M380.4 8.7v1.8M383.7 161.6v1.8M383.7 8.7v1.8M386.5 161.6v1.8M386.5 8.7v1.8M388.9 161.6v1.8M388.9 8.7v1.8M391.1 161.6v1.8M391.1 8.7v1.8M393 161.6v3M393 8.7v3M405.6 161.6v1.8M405.6 8.7v1.8M413 161.6v1.8M413 8.7v1.8M418.2 161.6v1.8M418.2 8.7v1.8M422.2 161.6v1.8M422.2 8.7v1.8M425.6 161.6v1.8M425.6 8.7v1.8M428.4 161.6v1.8M428.4 8.7v1.8M430.8 161.6v1.8M430.8 8.7v1.8M432.9 161.6v1.8M432.9 8.7v1.8M434.9 161.6v3M434.9 8.7v3M447.5 161.6v1.8M447.5 8.7v1.8M454.8 161.6v1.8M454.8 8.7v1.8M460.1 161.6v1.8M460.1 8.7v1.8M464.1 161.6v1.8M464.1 8.7v1.8M467.4 161.6v1.8M467.4 8.7v1.8M470.2 161.6v1.8M470.2 8.7v1.8M472.7 161.6v1.8M472.7 8.7v1.8M474.8 161.6v1.8M474.8 8.7v1.8M476.7 161.6v3M476.7 8.7v3M489.3 161.6v1.8M489.3 8.7v1.8M496.7 161.6v1.8M496.7 8.7v1.8M501.9 161.6v1.8M501.9 8.7v1.8M506 161.6v1.8M506 8.7v1.8M509.3 161.6v1.8M509.3 8.7v1.8M512.1 161.6v1.8M512.1 8.7v1.8M514.5 161.6v1.8M514.5 8.7v1.8M516.7 161.6v1.8M516.7 8.7v1.8M518.6 161.6v3M518.6 8.7v3" stroke="#111" stroke-width="0.8" fill="none"/>
<path d="M518.6 21.4h2.6M518.6 34.1h2.6M518.6 46.9h2.6M518.6 59.6h2.6M518.6 72.4h2.6M518.6 85.1h2.6M518.6 97.9h2.6M518.6 110.6h2.6M518.6 123.4h2.6M518.6 136.1h2.6M518.6 148.9h2.6" stroke="#222" stroke-width="0.7" fill="none"/>
<path d="M329.2 8.7V161.6" stroke="#444" stroke-width="1.3" fill="none" stroke-linecap="square"/>
<path d="M329.2 161.6H518.6" stroke="#000" stroke-width="1.3" fill="none" stroke-linecap="square"/>
<path d="M329.2 8.7H518.6" stroke="#222" stroke-width="0.9750000000000001" fill="none" stroke-linecap="square"/>
<path d="M518.6 8.7V161.6" stroke="#111" stroke-width="0.8" fill="none"/>
<text x="324" y="159.4" font-size="5.5" text-anchor="end" fill="#111">0.01</text>
<text x="324" y="140.8" font-size="5.5" text-anchor="end" fill="#111">0.02</text>
<text x="324" y="122.2" font-size="5.5" text-anchor="end" fill="#111">0.03</text>
<text x="324" y="103.6" font-size="5.5" text-anchor="end" fill="#111">0.04</text>
<text x="324" y="85" font-size="5.5" text-anchor="end" fill="#111">0.05</text>
<text x="324" y="66.4" font-size="5.5" text-anchor="end" fill="#111">0.06</text>
<text x="324" y="47.8" font-size="5.5" text-anchor="end" fill="#111">0.07</text>
<text x="324" y="29.2" font-size="5.5" text-anchor="end" fill="#111">0.08</text>
<text x="324" y="10.6" font-size="5.5" text-anchor="end" fill="#111">0.09</text>
<text x="345.3" y="171.5" font-size="5.3" text-anchor="start" fill="#111">10<tspan dy="-2.2" font-size="3.1">4</tspan></text>
<text x="387.2" y="171.5" font-size="5.3" text-anchor="start" fill="#111">10<tspan dy="-2.2" font-size="3.1">5</tspan></text>
<text x="429.1" y="171.5" font-size="5.3" text-anchor="start" fill="#111">10<tspan dy="-2.2" font-size="3.1">6</tspan></text>
<text x="470.9" y="171.5" font-size="5.3" text-anchor="start" fill="#111">10<tspan dy="-2.2" font-size="3.1">7</tspan></text>
<text x="512.8" y="171.5" font-size="5.3" text-anchor="start" fill="#111">10<tspan dy="-2.2" font-size="3.1">8</tspan></text>
<text x="424" y="181.2" font-size="7.0" text-anchor="middle" fill="#111">Reynolds number</text>
<text transform="translate(309.9 84.5) rotate(-90)" font-size="7.15" text-anchor="middle" fill="#111">Friction Factor</text>
<text x="521.2" y="45.1" font-size="5.3" text-anchor="start" fill="#111">0.05</text>
<text x="523" y="86.5" font-size="5.3" text-anchor="start" fill="#111">0.02</text>
<text x="522" y="106.1" font-size="5.3" text-anchor="start" fill="#111">0.01</text>
<text x="521" y="133" font-size="5.3" text-anchor="start" fill="#111">0.002</text>
<text x="521" y="161.5" font-size="5.3" text-anchor="start" fill="#111">0.000,001</text>
<text x="527" y="71" font-size="7.0" text-anchor="start" fill="#111">ε/D</text>
<text x="418.8" y="212.6" font-size="14" text-anchor="middle" fill="#111">(<tspan font-weight="bold">b</tspan>)</text>
<clipPath id="cc"><rect x="177.1" y="243.1" width="203.79999999999998" height="163.9"/></clipPath>
<path d="M182.8 243.1V407M187.1 243.1V407M190.7 243.1V407M193.7 243.1V407M196.3 243.1V407M198.6 243.1V407M214.3 243.1V407M222.2 243.1V407M227.8 243.1V407M232.2 243.1V407M235.8 243.1V407M238.8 243.1V407M241.4 243.1V407M243.7 243.1V407M259.3 243.1V407M267.2 243.1V407M272.9 243.1V407M277.2 243.1V407M280.8 243.1V407M283.8 243.1V407M286.4 243.1V407M288.7 243.1V407M304.4 243.1V407M312.3 243.1V407M317.9 243.1V407M322.3 243.1V407M325.9 243.1V407M328.9 243.1V407M331.5 243.1V407M333.8 243.1V407M349.4 243.1V407M357.3 243.1V407M363 243.1V407M367.3 243.1V407M370.9 243.1V407M373.9 243.1V407M376.5 243.1V407M378.8 243.1V407M177.1 406.3H380.9M177.1 398.3H380.9M177.1 394.3H380.9M177.1 390.4H380.9M177.1 386.4H380.9M177.1 378.4H380.9M177.1 374.4H380.9M177.1 370.5H380.9M177.1 366.5H380.9M177.1 358.5H380.9M177.1 354.5H380.9M177.1 350.6H380.9M177.1 346.6H380.9M177.1 338.6H380.9M177.1 334.6H380.9M177.1 330.7H380.9M177.1 326.7H380.9M177.1 318.7H380.9M177.1 314.7H380.9M177.1 310.8H380.9M177.1 306.8H380.9M177.1 298.8H380.9M177.1 294.8H380.9M177.1 290.9H380.9M177.1 286.9H380.9M177.1 278.9H380.9M177.1 274.9H380.9M177.1 271H380.9M177.1 267H380.9M177.1 259H380.9M177.1 255H380.9M177.1 251.1H380.9M177.1 247.1H380.9" stroke="#efefef" stroke-width="0.5" fill="none"/>
<path d="M200.7 243.1V407M245.8 243.1V407M290.8 243.1V407M335.8 243.1V407M177.1 402.3H380.9M177.1 382.4H380.9M177.1 362.5H380.9M177.1 342.6H380.9M177.1 322.7H380.9M177.1 302.8H380.9M177.1 282.9H380.9M177.1 263H380.9" stroke="#d9d9d9" stroke-width="0.6" fill="none"/>
<g clip-path="url(#cc)">
<path d="M176.6 263.1L177.6 263.1L179.6 264.3L181.6 265.5L183.6 266.6L185.6 267.6L187.6 268.4L189.6 269.2L191.6 270L193.7 270.6L195.7 271.2L197.7 271.8L199.7 272.3L201.7 272.7L203.7 273.2L205.7 273.5L207.7 273.9L209.7 274.2L211.7 274.5L213.7 274.8L215.7 275L217.7 275.3L219.7 275.5L221.8 275.7L223.8 275.8L225.8 276L227.8 276.1L229.8 276.2L231.8 276.3L233.8 276.4L235.8 276.5L237.8 276.6L239.8 276.7L241.8 276.7L243.8 276.8L245.8 276.8L247.8 276.9L249.8 276.9L251.9 277L253.9 277L255.9 277L257.9 277.1L259.9 277.1L261.9 277.1L263.9 277.1L265.9 277.1L267.9 277.2L269.9 277.2L271.9 277.2L273.9 277.2L275.9 277.2L277.9 277.2L280 277.2L282 277.2L284 277.2L286 277.3L288 277.3L290 277.3L292 277.3L294 277.3L296 277.3L298 277.3L300 277.3L302 277.3L304 277.3L306 277.3L308 277.3L310.1 277.3L312.1 277.3L314.1 277.3L316.1 277.3L318.1 277.3L320.1 277.3L322.1 277.3L324.1 277.3L326.1 277.3L328.1 277.3L330.1 277.3L332.1 277.3L334.1 277.3L336.1 277.3L338.1 277.3L340.2 277.3L342.2 277.3L344.2 277.3L346.2 277.3L348.2 277.3L350.2 277.3L352.2 277.3L354.2 277.3L356.2 277.3L358.2 277.3L360.2 277.3L362.2 277.3L364.2 277.3L366.2 277.3L368.3 277.3L370.3 277.3L372.3 277.3L374.3 277.3L376.3 277.3L378.3 277.3L380.3 277.3L382.3 277.3L382.3 281.1L381.3 281.1L379.3 281.1L377.3 281.1L375.3 281.1L373.3 281.1L371.3 281.1L369.3 281.1L367.3 281.1L365.2 281.1L363.2 281.1L361.2 281.1L359.2 281.1L357.2 281.1L355.2 281.1L353.2 281.1L351.2 281.1L349.2 281.1L347.2 281.1L345.2 281.1L343.2 281.1L341.2 281.1L339.2 281.1L337.1 281.1L335.1 281.1L333.1 281.1L331.1 281.1L329.1 281.1L327.1 281.1L325.1 281.1L323.1 281.1L321.1 281.1L319.1 281.1L317.1 281.1L315.1 281.1L313.1 281.1L311.1 281.1L309.1 281.1L307 281.1L305 281.1L303 281.1L301 281.1L299 281.1L297 281.1L295 281.1L293 281.1L291 281.1L289 281.1L287 281.1L285 281.1L283 281L281 281L279 281L276.9 281L274.9 281L272.9 281L270.9 281L268.9 281L266.9 281L264.9 280.9L262.9 280.9L260.9 280.9L258.9 280.9L256.9 280.9L254.9 280.8L252.9 280.8L250.9 280.8L248.8 280.7L246.8 280.7L244.8 280.6L242.8 280.6L240.8 280.5L238.8 280.5L236.8 280.4L234.8 280.3L232.8 280.2L230.8 280.1L228.8 280L226.8 279.9L224.8 279.8L222.8 279.6L220.8 279.5L218.7 279.3L216.7 279.1L214.7 278.8L212.7 278.6L210.7 278.3L208.7 278L206.7 277.7L204.7 277.3L202.7 277L200.7 276.5L198.7 276.1L196.7 275.6L194.7 275L192.7 274.4L190.6 273.8L188.6 273L186.6 272.2L184.6 271.4L182.6 270.4L180.6 269.3L178.6 268.1L176.6 266.9Z" fill="#0505ff"/>
<path d="M176.6 269L177.6 269L179.6 270.4L181.6 271.6L183.6 272.7L185.6 273.7L187.6 274.6L189.6 275.4L191.6 276.1L193.7 276.8L195.7 277.5L197.7 278L199.7 278.5L201.7 279L203.7 279.5L205.7 279.9L207.7 280.3L209.7 280.6L211.7 280.9L213.7 281.2L215.7 281.5L217.7 281.8L219.7 282L221.8 282.2L223.8 282.4L225.8 282.6L227.8 282.7L229.8 282.9L231.8 283L233.8 283.1L235.8 283.2L237.8 283.3L239.8 283.4L241.8 283.4L243.8 283.5L245.8 283.5L247.8 283.6L249.8 283.6L251.9 283.7L253.9 283.7L255.9 283.7L257.9 283.8L259.9 283.8L261.9 283.8L263.9 283.8L265.9 283.9L267.9 283.9L269.9 283.9L271.9 283.9L273.9 283.9L275.9 283.9L277.9 283.9L280 284L282 284L284 284L286 284L288 284L290 284L292 284L294 284L296 284L298 284L300 284L302 284L304 284L306 284L308 284L310.1 284L312.1 284L314.1 284L316.1 284L318.1 284L320.1 284L322.1 284L324.1 284L326.1 284L328.1 284L330.1 284L332.1 284L334.1 284L336.1 284L338.1 284L340.2 284L342.2 284L344.2 284L346.2 284L348.2 284L350.2 284L352.2 284L354.2 284L356.2 284L358.2 284L360.2 284L362.2 284L364.2 284L366.2 284L368.3 284L370.3 284L372.3 284L374.3 284L376.3 284L378.3 284L380.3 284L382.3 284L382.3 287.8L381.3 287.8L379.3 287.8L377.3 287.8L375.3 287.8L373.3 287.8L371.3 287.8L369.3 287.8L367.3 287.8L365.2 287.8L363.2 287.8L361.2 287.8L359.2 287.8L357.2 287.8L355.2 287.8L353.2 287.8L351.2 287.8L349.2 287.8L347.2 287.8L345.2 287.8L343.2 287.8L341.2 287.8L339.2 287.8L337.1 287.8L335.1 287.8L333.1 287.8L331.1 287.8L329.1 287.8L327.1 287.8L325.1 287.8L323.1 287.8L321.1 287.8L319.1 287.8L317.1 287.8L315.1 287.8L313.1 287.8L311.1 287.8L309.1 287.8L307 287.8L305 287.8L303 287.8L301 287.8L299 287.8L297 287.8L295 287.8L293 287.8L291 287.8L289 287.8L287 287.8L285 287.8L283 287.8L281 287.8L279 287.8L276.9 287.7L274.9 287.7L272.9 287.7L270.9 287.7L268.9 287.7L266.9 287.7L264.9 287.7L262.9 287.6L260.9 287.6L258.9 287.6L256.9 287.6L254.9 287.5L252.9 287.5L250.9 287.5L248.8 287.4L246.8 287.4L244.8 287.3L242.8 287.3L240.8 287.2L238.8 287.2L236.8 287.1L234.8 287L232.8 286.9L230.8 286.8L228.8 286.7L226.8 286.5L224.8 286.4L222.8 286.2L220.8 286L218.7 285.8L216.7 285.6L214.7 285.3L212.7 285L210.7 284.7L208.7 284.4L206.7 284.1L204.7 283.7L202.7 283.3L200.7 282.8L198.7 282.3L196.7 281.8L194.7 281.3L192.7 280.6L190.6 279.9L188.6 279.2L186.6 278.4L184.6 277.5L182.6 276.5L180.6 275.4L178.6 274.2L176.6 272.8Z" fill="#0505ff"/>
<path d="M176.6 275.1L177.6 275.1L179.6 276.4L181.6 277.6L183.6 278.7L185.6 279.7L187.6 280.6L189.6 281.4L191.6 282.2L193.7 282.9L195.7 283.5L197.7 284.1L199.7 284.6L201.7 285.1L203.7 285.6L205.7 286L207.7 286.5L209.7 286.9L211.7 287.3L213.7 287.6L215.7 288L217.7 288.3L219.7 288.6L221.8 288.9L223.8 289.1L225.8 289.3L227.8 289.5L229.8 289.7L231.8 289.8L233.8 290L235.8 290.1L237.8 290.2L239.8 290.3L241.8 290.3L243.8 290.4L245.8 290.5L247.8 290.5L249.8 290.6L251.9 290.6L253.9 290.7L255.9 290.7L257.9 290.7L259.9 290.7L261.9 290.8L263.9 290.8L265.9 290.8L267.9 290.8L269.9 290.8L271.9 290.9L273.9 290.9L275.9 290.9L277.9 290.9L280 290.9L282 290.9L284 290.9L286 290.9L288 290.9L290 290.9L292 291L294 291L296 291L298 291L300 291L302 291L304 291L306 291L308 291L310.1 291L312.1 291L314.1 291L316.1 291L318.1 291L320.1 291L322.1 291L324.1 291L326.1 291L328.1 291L330.1 291L332.1 291L334.1 291L336.1 291L338.1 291L340.2 291L342.2 291L344.2 291L346.2 291L348.2 291L350.2 291L352.2 291L354.2 291L356.2 291L358.2 291L360.2 291L362.2 291L364.2 291L366.2 291L368.3 291L370.3 291L372.3 291L374.3 291L376.3 291L378.3 291L380.3 291L382.3 291L382.3 294.8L381.3 294.8L379.3 294.8L377.3 294.8L375.3 294.8L373.3 294.8L371.3 294.8L369.3 294.8L367.3 294.8L365.2 294.8L363.2 294.8L361.2 294.8L359.2 294.8L357.2 294.8L355.2 294.8L353.2 294.8L351.2 294.8L349.2 294.8L347.2 294.8L345.2 294.8L343.2 294.8L341.2 294.8L339.2 294.8L337.1 294.8L335.1 294.8L333.1 294.8L331.1 294.8L329.1 294.8L327.1 294.8L325.1 294.8L323.1 294.8L321.1 294.8L319.1 294.8L317.1 294.8L315.1 294.8L313.1 294.8L311.1 294.8L309.1 294.8L307 294.8L305 294.8L303 294.8L301 294.8L299 294.8L297 294.8L295 294.8L293 294.8L291 294.8L289 294.7L287 294.7L285 294.7L283 294.7L281 294.7L279 294.7L276.9 294.7L274.9 294.7L272.9 294.7L270.9 294.7L268.9 294.6L266.9 294.6L264.9 294.6L262.9 294.6L260.9 294.6L258.9 294.5L256.9 294.5L254.9 294.5L252.9 294.5L250.9 294.4L248.8 294.4L246.8 294.3L244.8 294.3L242.8 294.2L240.8 294.1L238.8 294.1L236.8 294L234.8 293.9L232.8 293.8L230.8 293.6L228.8 293.5L226.8 293.3L224.8 293.1L222.8 292.9L220.8 292.7L218.7 292.4L216.7 292.1L214.7 291.8L212.7 291.4L210.7 291.1L208.7 290.7L206.7 290.3L204.7 289.8L202.7 289.4L200.7 288.9L198.7 288.4L196.7 287.9L194.7 287.3L192.7 286.7L190.6 286L188.6 285.2L186.6 284.4L184.6 283.5L182.6 282.5L180.6 281.4L178.6 280.2L176.6 278.9Z" fill="#0505ff"/>
<path d="M176.6 287.4L177.6 287.4L179.6 288.8L181.6 290L183.6 291.1L185.6 292.1L187.6 292.9L189.6 293.7L191.6 294.4L193.7 295.1L195.7 295.7L197.7 296.3L199.7 296.9L201.7 297.4L203.7 298L205.7 298.6L207.7 299.2L209.7 299.8L211.7 300.3L213.7 300.9L215.7 301.4L217.7 301.9L219.7 302.4L221.8 302.8L223.8 303.2L225.8 303.6L227.8 303.9L229.8 304.1L231.8 304.4L233.8 304.6L235.8 304.7L237.8 304.9L239.8 305L241.8 305.1L243.8 305.2L245.8 305.3L247.8 305.3L249.8 305.4L251.9 305.5L253.9 305.5L255.9 305.5L257.9 305.6L259.9 305.6L261.9 305.6L263.9 305.7L265.9 305.7L267.9 305.7L269.9 305.7L271.9 305.8L273.9 305.8L275.9 305.8L277.9 305.8L280 305.8L282 305.8L284 305.8L286 305.8L288 305.9L290 305.9L292 305.9L294 305.9L296 305.9L298 305.9L300 305.9L302 305.9L304 305.9L306 305.9L308 305.9L310.1 305.9L312.1 305.9L314.1 305.9L316.1 305.9L318.1 305.9L320.1 305.9L322.1 305.9L324.1 305.9L326.1 305.9L328.1 305.9L330.1 305.9L332.1 305.9L334.1 305.9L336.1 305.9L338.1 305.9L340.2 305.9L342.2 305.9L344.2 305.9L346.2 305.9L348.2 305.9L350.2 305.9L352.2 305.9L354.2 305.9L356.2 305.9L358.2 305.9L360.2 305.9L362.2 305.9L364.2 305.9L366.2 305.9L368.3 305.9L370.3 305.9L372.3 305.9L374.3 305.9L376.3 305.9L378.3 305.9L380.3 305.9L382.3 305.9L382.3 309.7L381.3 309.7L379.3 309.7L377.3 309.7L375.3 309.7L373.3 309.7L371.3 309.7L369.3 309.7L367.3 309.7L365.2 309.7L363.2 309.7L361.2 309.7L359.2 309.7L357.2 309.7L355.2 309.7L353.2 309.7L351.2 309.7L349.2 309.7L347.2 309.7L345.2 309.7L343.2 309.7L341.2 309.7L339.2 309.7L337.1 309.7L335.1 309.7L333.1 309.7L331.1 309.7L329.1 309.7L327.1 309.7L325.1 309.7L323.1 309.7L321.1 309.7L319.1 309.7L317.1 309.7L315.1 309.7L313.1 309.7L311.1 309.7L309.1 309.7L307 309.7L305 309.7L303 309.7L301 309.7L299 309.7L297 309.7L295 309.7L293 309.7L291 309.7L289 309.7L287 309.7L285 309.6L283 309.6L281 309.6L279 309.6L276.9 309.6L274.9 309.6L272.9 309.6L270.9 309.6L268.9 309.5L266.9 309.5L264.9 309.5L262.9 309.5L260.9 309.4L258.9 309.4L256.9 309.4L254.9 309.3L252.9 309.3L250.9 309.3L248.8 309.2L246.8 309.1L244.8 309.1L242.8 309L240.8 308.9L238.8 308.8L236.8 308.7L234.8 308.5L232.8 308.4L230.8 308.2L228.8 307.9L226.8 307.7L224.8 307.4L222.8 307L220.8 306.6L218.7 306.2L216.7 305.7L214.7 305.2L212.7 304.7L210.7 304.1L208.7 303.6L206.7 303L204.7 302.4L202.7 301.8L200.7 301.2L198.7 300.7L196.7 300.1L194.7 299.5L192.7 298.9L190.6 298.2L188.6 297.5L186.6 296.7L184.6 295.9L182.6 294.9L180.6 293.8L178.6 292.6L176.6 291.2Z" fill="#0505ff"/>
<path d="M176.6 293.8L177.6 293.8L179.6 295.2L181.6 296.5L183.6 297.7L185.6 298.7L187.6 299.6L189.6 300.4L191.6 301.2L193.7 301.9L195.7 302.5L197.7 303.2L199.7 303.8L201.7 304.4L203.7 305L205.7 305.7L207.7 306.3L209.7 307L211.7 307.6L213.7 308.2L215.7 308.8L217.7 309.4L219.7 309.9L221.8 310.4L223.8 310.9L225.8 311.3L227.8 311.6L229.8 312L231.8 312.2L233.8 312.5L235.8 312.7L237.8 312.9L239.8 313L241.8 313.1L243.8 313.2L245.8 313.3L247.8 313.4L249.8 313.5L251.9 313.6L253.9 313.6L255.9 313.7L257.9 313.7L259.9 313.7L261.9 313.8L263.9 313.8L265.9 313.8L267.9 313.8L269.9 313.9L271.9 313.9L273.9 313.9L275.9 313.9L277.9 313.9L280 314L282 314L284 314L286 314L288 314L290 314L292 314L294 314L296 314L298 314L300 314L302 314L304 314L306 314L308 314L310.1 314L312.1 314.1L314.1 314.1L316.1 314.1L318.1 314.1L320.1 314.1L322.1 314.1L324.1 314.1L326.1 314.1L328.1 314.1L330.1 314.1L332.1 314.1L334.1 314.1L336.1 314.1L338.1 314.1L340.2 314.1L342.2 314.1L344.2 314.1L346.2 314.1L348.2 314.1L350.2 314.1L352.2 314.1L354.2 314.1L356.2 314.1L358.2 314.1L360.2 314.1L362.2 314.1L364.2 314.1L366.2 314.1L368.3 314.1L370.3 314.1L372.3 314.1L374.3 314.1L376.3 314.1L378.3 314.1L380.3 314.1L382.3 314.1L382.3 317.9L381.3 317.9L379.3 317.9L377.3 317.9L375.3 317.9L373.3 317.9L371.3 317.9L369.3 317.9L367.3 317.9L365.2 317.9L363.2 317.9L361.2 317.9L359.2 317.9L357.2 317.9L355.2 317.9L353.2 317.9L351.2 317.9L349.2 317.9L347.2 317.9L345.2 317.9L343.2 317.9L341.2 317.9L339.2 317.9L337.1 317.9L335.1 317.9L333.1 317.9L331.1 317.9L329.1 317.9L327.1 317.9L325.1 317.9L323.1 317.9L321.1 317.9L319.1 317.9L317.1 317.9L315.1 317.9L313.1 317.9L311.1 317.9L309.1 317.8L307 317.8L305 317.8L303 317.8L301 317.8L299 317.8L297 317.8L295 317.8L293 317.8L291 317.8L289 317.8L287 317.8L285 317.8L283 317.8L281 317.8L279 317.8L276.9 317.7L274.9 317.7L272.9 317.7L270.9 317.7L268.9 317.7L266.9 317.6L264.9 317.6L262.9 317.6L260.9 317.6L258.9 317.5L256.9 317.5L254.9 317.5L252.9 317.4L250.9 317.4L248.8 317.3L246.8 317.2L244.8 317.1L242.8 317L240.8 316.9L238.8 316.8L236.8 316.7L234.8 316.5L232.8 316.3L230.8 316L228.8 315.8L226.8 315.4L224.8 315.1L222.8 314.7L220.8 314.2L218.7 313.7L216.7 313.2L214.7 312.6L212.7 312L210.7 311.4L208.7 310.8L206.7 310.1L204.7 309.5L202.7 308.8L200.7 308.2L198.7 307.6L196.7 307L194.7 306.3L192.7 305.7L190.6 305L188.6 304.2L186.6 303.4L184.6 302.5L182.6 301.5L180.6 300.3L178.6 299L176.6 297.6Z" fill="#0505ff"/>
<path d="M176.6 300.3L177.6 300.3L179.6 301.8L181.6 303.1L183.6 304.3L185.6 305.4L187.6 306.4L189.6 307.3L191.6 308.1L193.7 308.9L195.7 309.6L197.7 310.3L199.7 311L201.7 311.7L203.7 312.4L205.7 313.1L207.7 313.8L209.7 314.5L211.7 315.2L213.7 315.9L215.7 316.6L217.7 317.2L219.7 317.9L221.8 318.4L223.8 319L225.8 319.5L227.8 319.9L229.8 320.3L231.8 320.6L233.8 320.9L235.8 321.2L237.8 321.4L239.8 321.6L241.8 321.8L243.8 321.9L245.8 322L247.8 322.1L249.8 322.2L251.9 322.3L253.9 322.4L255.9 322.4L257.9 322.5L259.9 322.5L261.9 322.6L263.9 322.6L265.9 322.6L267.9 322.7L269.9 322.7L271.9 322.7L273.9 322.7L275.9 322.7L277.9 322.8L280 322.8L282 322.8L284 322.8L286 322.8L288 322.8L290 322.8L292 322.8L294 322.8L296 322.9L298 322.9L300 322.9L302 322.9L304 322.9L306 322.9L308 322.9L310.1 322.9L312.1 322.9L314.1 322.9L316.1 322.9L318.1 322.9L320.1 322.9L322.1 322.9L324.1 322.9L326.1 322.9L328.1 322.9L330.1 322.9L332.1 322.9L334.1 322.9L336.1 322.9L338.1 322.9L340.2 322.9L342.2 322.9L344.2 322.9L346.2 322.9L348.2 322.9L350.2 322.9L352.2 322.9L354.2 322.9L356.2 322.9L358.2 322.9L360.2 322.9L362.2 322.9L364.2 322.9L366.2 322.9L368.3 322.9L370.3 322.9L372.3 322.9L374.3 322.9L376.3 322.9L378.3 322.9L380.3 322.9L382.3 322.9L382.3 326.7L381.3 326.7L379.3 326.7L377.3 326.7L375.3 326.7L373.3 326.7L371.3 326.7L369.3 326.7L367.3 326.7L365.2 326.7L363.2 326.7L361.2 326.7L359.2 326.7L357.2 326.7L355.2 326.7L353.2 326.7L351.2 326.7L349.2 326.7L347.2 326.7L345.2 326.7L343.2 326.7L341.2 326.7L339.2 326.7L337.1 326.7L335.1 326.7L333.1 326.7L331.1 326.7L329.1 326.7L327.1 326.7L325.1 326.7L323.1 326.7L321.1 326.7L319.1 326.7L317.1 326.7L315.1 326.7L313.1 326.7L311.1 326.7L309.1 326.7L307 326.7L305 326.7L303 326.7L301 326.7L299 326.7L297 326.7L295 326.7L293 326.6L291 326.6L289 326.6L287 326.6L285 326.6L283 326.6L281 326.6L279 326.6L276.9 326.6L274.9 326.5L272.9 326.5L270.9 326.5L268.9 326.5L266.9 326.5L264.9 326.4L262.9 326.4L260.9 326.4L258.9 326.3L256.9 326.3L254.9 326.2L252.9 326.2L250.9 326.1L248.8 326L246.8 325.9L244.8 325.8L242.8 325.7L240.8 325.6L238.8 325.4L236.8 325.2L234.8 325L232.8 324.7L230.8 324.4L228.8 324.1L226.8 323.7L224.8 323.3L222.8 322.8L220.8 322.2L218.7 321.7L216.7 321L214.7 320.4L212.7 319.7L210.7 319L208.7 318.3L206.7 317.6L204.7 316.9L202.7 316.2L200.7 315.5L198.7 314.8L196.7 314.1L194.7 313.4L192.7 312.7L190.6 311.9L188.6 311.1L186.6 310.2L184.6 309.2L182.6 308.1L180.6 306.9L178.6 305.6L176.6 304.1Z" fill="#0505ff"/>
<path d="M176.6 308L177.6 308L179.6 309.7L181.6 311.3L183.6 312.8L185.6 314.1L187.6 315.3L189.6 316.4L191.6 317.4L193.7 318.3L195.7 319.2L197.7 320L199.7 320.8L201.7 321.5L203.7 322.3L205.7 323L207.7 323.7L209.7 324.3L211.7 325L213.7 325.6L215.7 326.3L217.7 326.9L219.7 327.4L221.8 328L223.8 328.5L225.8 329L227.8 329.4L229.8 329.8L231.8 330.2L233.8 330.5L235.8 330.8L237.8 331L239.8 331.2L241.8 331.4L243.8 331.6L245.8 331.7L247.8 331.8L249.8 331.9L251.9 332L253.9 332.1L255.9 332.2L257.9 332.2L259.9 332.3L261.9 332.3L263.9 332.4L265.9 332.4L267.9 332.4L269.9 332.5L271.9 332.5L273.9 332.5L275.9 332.6L277.9 332.6L280 332.6L282 332.6L284 332.6L286 332.6L288 332.6L290 332.7L292 332.7L294 332.7L296 332.7L298 332.7L300 332.7L302 332.7L304 332.7L306 332.7L308 332.7L310.1 332.7L312.1 332.7L314.1 332.7L316.1 332.7L318.1 332.7L320.1 332.7L322.1 332.7L324.1 332.7L326.1 332.7L328.1 332.7L330.1 332.7L332.1 332.7L334.1 332.7L336.1 332.7L338.1 332.7L340.2 332.8L342.2 332.8L344.2 332.8L346.2 332.8L348.2 332.8L350.2 332.8L352.2 332.8L354.2 332.8L356.2 332.8L358.2 332.8L360.2 332.8L362.2 332.8L364.2 332.8L366.2 332.8L368.3 332.8L370.3 332.8L372.3 332.8L374.3 332.8L376.3 332.8L378.3 332.8L380.3 332.8L382.3 332.8L382.3 336.6L381.3 336.6L379.3 336.6L377.3 336.6L375.3 336.6L373.3 336.6L371.3 336.6L369.3 336.6L367.3 336.6L365.2 336.6L363.2 336.6L361.2 336.6L359.2 336.6L357.2 336.6L355.2 336.6L353.2 336.6L351.2 336.6L349.2 336.6L347.2 336.6L345.2 336.6L343.2 336.6L341.2 336.6L339.2 336.6L337.1 336.5L335.1 336.5L333.1 336.5L331.1 336.5L329.1 336.5L327.1 336.5L325.1 336.5L323.1 336.5L321.1 336.5L319.1 336.5L317.1 336.5L315.1 336.5L313.1 336.5L311.1 336.5L309.1 336.5L307 336.5L305 336.5L303 336.5L301 336.5L299 336.5L297 336.5L295 336.5L293 336.5L291 336.5L289 336.5L287 336.4L285 336.4L283 336.4L281 336.4L279 336.4L276.9 336.4L274.9 336.4L272.9 336.3L270.9 336.3L268.9 336.3L266.9 336.2L264.9 336.2L262.9 336.2L260.9 336.1L258.9 336.1L256.9 336L254.9 336L252.9 335.9L250.9 335.8L248.8 335.7L246.8 335.6L244.8 335.5L242.8 335.4L240.8 335.2L238.8 335L236.8 334.8L234.8 334.6L232.8 334.3L230.8 334L228.8 333.6L226.8 333.2L224.8 332.8L222.8 332.3L220.8 331.8L218.7 331.2L216.7 330.7L214.7 330.1L212.7 329.4L210.7 328.8L208.7 328.1L206.7 327.5L204.7 326.8L202.7 326.1L200.7 325.3L198.7 324.6L196.7 323.8L194.7 323L192.7 322.1L190.6 321.2L188.6 320.2L186.6 319.1L184.6 317.9L182.6 316.6L180.6 315.1L178.6 313.5L176.6 311.8Z" fill="#0505ff"/>
<path d="M176.6 311.6L177.6 311.6L179.6 313.4L181.6 315.1L183.6 316.6L185.6 318.1L187.6 319.4L189.6 320.5L191.6 321.6L193.7 322.7L195.7 323.6L197.7 324.5L199.7 325.4L201.7 326.2L203.7 327L205.7 327.7L207.7 328.5L209.7 329.2L211.7 329.9L213.7 330.6L215.7 331.2L217.7 331.8L219.7 332.4L221.8 333L223.8 333.5L225.8 334L227.8 334.5L229.8 334.9L231.8 335.3L233.8 335.6L235.8 335.9L237.8 336.2L239.8 336.5L241.8 336.7L243.8 336.9L245.8 337L247.8 337.2L249.8 337.3L251.9 337.4L253.9 337.5L255.9 337.6L257.9 337.6L259.9 337.7L261.9 337.8L263.9 337.8L265.9 337.9L267.9 337.9L269.9 337.9L271.9 338L273.9 338L275.9 338L277.9 338L280 338.1L282 338.1L284 338.1L286 338.1L288 338.1L290 338.1L292 338.1L294 338.1L296 338.2L298 338.2L300 338.2L302 338.2L304 338.2L306 338.2L308 338.2L310.1 338.2L312.1 338.2L314.1 338.2L316.1 338.2L318.1 338.2L320.1 338.2L322.1 338.2L324.1 338.2L326.1 338.2L328.1 338.2L330.1 338.2L332.1 338.2L334.1 338.2L336.1 338.2L338.1 338.2L340.2 338.2L342.2 338.2L344.2 338.2L346.2 338.2L348.2 338.2L350.2 338.2L352.2 338.2L354.2 338.2L356.2 338.2L358.2 338.2L360.2 338.2L362.2 338.2L364.2 338.2L366.2 338.2L368.3 338.2L370.3 338.2L372.3 338.2L374.3 338.2L376.3 338.2L378.3 338.2L380.3 338.2L382.3 338.2L382.3 342L381.3 342L379.3 342L377.3 342L375.3 342L373.3 342L371.3 342L369.3 342L367.3 342L365.2 342L363.2 342L361.2 342L359.2 342L357.2 342L355.2 342L353.2 342L351.2 342L349.2 342L347.2 342L345.2 342L343.2 342L341.2 342L339.2 342L337.1 342L335.1 342L333.1 342L331.1 342L329.1 342L327.1 342L325.1 342L323.1 342L321.1 342L319.1 342L317.1 342L315.1 342L313.1 342L311.1 342L309.1 342L307 342L305 342L303 342L301 342L299 342L297 342L295 342L293 341.9L291 341.9L289 341.9L287 341.9L285 341.9L283 341.9L281 341.9L279 341.9L276.9 341.8L274.9 341.8L272.9 341.8L270.9 341.8L268.9 341.7L266.9 341.7L264.9 341.7L262.9 341.6L260.9 341.6L258.9 341.5L256.9 341.4L254.9 341.4L252.9 341.3L250.9 341.2L248.8 341.1L246.8 341L244.8 340.8L242.8 340.7L240.8 340.5L238.8 340.3L236.8 340L234.8 339.7L232.8 339.4L230.8 339.1L228.8 338.7L226.8 338.3L224.8 337.8L222.8 337.3L220.8 336.8L218.7 336.2L216.7 335.6L214.7 335L212.7 334.4L210.7 333.7L208.7 333L206.7 332.3L204.7 331.5L202.7 330.8L200.7 330L198.7 329.2L196.7 328.3L194.7 327.4L192.7 326.5L190.6 325.4L188.6 324.3L186.6 323.2L184.6 321.9L182.6 320.4L180.6 318.9L178.6 317.2L176.6 315.4Z" fill="#0505ff"/>
<path d="M176.6 315.4L177.6 315.4L179.6 317.4L181.6 319.2L183.6 320.8L185.6 322.3L187.6 323.7L189.6 325L191.6 326.3L193.7 327.4L195.7 328.4L197.7 329.4L199.7 330.3L201.7 331.2L203.7 332L205.7 332.8L207.7 333.6L209.7 334.3L211.7 335L213.7 335.7L215.7 336.3L217.7 337L219.7 337.6L221.8 338.2L223.8 338.7L225.8 339.3L227.8 339.8L229.8 340.2L231.8 340.6L233.8 341L235.8 341.4L237.8 341.7L239.8 342L241.8 342.3L243.8 342.5L245.8 342.7L247.8 342.9L249.8 343.1L251.9 343.2L253.9 343.3L255.9 343.4L257.9 343.5L259.9 343.6L261.9 343.7L263.9 343.8L265.9 343.8L267.9 343.9L269.9 343.9L271.9 343.9L273.9 344L275.9 344L277.9 344L280 344.1L282 344.1L284 344.1L286 344.1L288 344.1L290 344.1L292 344.2L294 344.2L296 344.2L298 344.2L300 344.2L302 344.2L304 344.2L306 344.2L308 344.2L310.1 344.2L312.1 344.2L314.1 344.2L316.1 344.2L318.1 344.2L320.1 344.2L322.1 344.2L324.1 344.2L326.1 344.3L328.1 344.3L330.1 344.3L332.1 344.3L334.1 344.3L336.1 344.3L338.1 344.3L340.2 344.3L342.2 344.3L344.2 344.3L346.2 344.3L348.2 344.3L350.2 344.3L352.2 344.3L354.2 344.3L356.2 344.3L358.2 344.3L360.2 344.3L362.2 344.3L364.2 344.3L366.2 344.3L368.3 344.3L370.3 344.3L372.3 344.3L374.3 344.3L376.3 344.3L378.3 344.3L380.3 344.3L382.3 344.3L382.3 348.1L381.3 348.1L379.3 348.1L377.3 348.1L375.3 348.1L373.3 348.1L371.3 348.1L369.3 348.1L367.3 348.1L365.2 348.1L363.2 348.1L361.2 348.1L359.2 348.1L357.2 348.1L355.2 348.1L353.2 348.1L351.2 348.1L349.2 348.1L347.2 348.1L345.2 348.1L343.2 348.1L341.2 348.1L339.2 348.1L337.1 348.1L335.1 348.1L333.1 348.1L331.1 348.1L329.1 348.1L327.1 348.1L325.1 348.1L323.1 348L321.1 348L319.1 348L317.1 348L315.1 348L313.1 348L311.1 348L309.1 348L307 348L305 348L303 348L301 348L299 348L297 348L295 348L293 348L291 348L289 347.9L287 347.9L285 347.9L283 347.9L281 347.9L279 347.9L276.9 347.8L274.9 347.8L272.9 347.8L270.9 347.7L268.9 347.7L266.9 347.7L264.9 347.6L262.9 347.6L260.9 347.5L258.9 347.4L256.9 347.3L254.9 347.2L252.9 347.1L250.9 347L248.8 346.9L246.8 346.7L244.8 346.5L242.8 346.3L240.8 346.1L238.8 345.8L236.8 345.5L234.8 345.2L232.8 344.8L230.8 344.4L228.8 344L226.8 343.6L224.8 343.1L222.8 342.5L220.8 342L218.7 341.4L216.7 340.8L214.7 340.1L212.7 339.5L210.7 338.8L208.7 338.1L206.7 337.4L204.7 336.6L202.7 335.8L200.7 335L198.7 334.1L196.7 333.2L194.7 332.2L192.7 331.2L190.6 330.1L188.6 328.8L186.6 327.5L184.6 326.1L182.6 324.6L180.6 323L178.6 321.2L176.6 319.2Z" fill="#0505ff"/>
<path d="M176.6 321.9L177.6 321.9L179.6 324.1L181.6 326.1L183.6 327.9L185.6 329.7L187.6 331.3L189.6 332.8L191.6 334.3L193.7 335.6L195.7 336.9L197.7 338L199.7 339.2L201.7 340.2L203.7 341.2L205.7 342.2L207.7 343.1L209.7 344L211.7 344.8L213.7 345.7L215.7 346.4L217.7 347.2L219.7 347.9L221.8 348.6L223.8 349.2L225.8 349.8L227.8 350.4L229.8 350.9L231.8 351.4L233.8 351.9L235.8 352.3L237.8 352.6L239.8 353L241.8 353.3L243.8 353.6L245.8 353.8L247.8 354L249.8 354.2L251.9 354.4L253.9 354.5L255.9 354.7L257.9 354.8L259.9 354.9L261.9 355L263.9 355.1L265.9 355.2L267.9 355.2L269.9 355.3L271.9 355.3L273.9 355.4L275.9 355.4L277.9 355.5L280 355.5L282 355.5L284 355.5L286 355.6L288 355.6L290 355.6L292 355.6L294 355.6L296 355.7L298 355.7L300 355.7L302 355.7L304 355.7L306 355.7L308 355.7L310.1 355.7L312.1 355.7L314.1 355.7L316.1 355.7L318.1 355.7L320.1 355.8L322.1 355.8L324.1 355.8L326.1 355.8L328.1 355.8L330.1 355.8L332.1 355.8L334.1 355.8L336.1 355.8L338.1 355.8L340.2 355.8L342.2 355.8L344.2 355.8L346.2 355.8L348.2 355.8L350.2 355.8L352.2 355.8L354.2 355.8L356.2 355.8L358.2 355.8L360.2 355.8L362.2 355.8L364.2 355.8L366.2 355.8L368.3 355.8L370.3 355.8L372.3 355.8L374.3 355.8L376.3 355.8L378.3 355.8L380.3 355.8L382.3 355.8L382.3 359.6L381.3 359.6L379.3 359.6L377.3 359.6L375.3 359.6L373.3 359.6L371.3 359.6L369.3 359.6L367.3 359.6L365.2 359.6L363.2 359.6L361.2 359.6L359.2 359.6L357.2 359.6L355.2 359.6L353.2 359.6L351.2 359.6L349.2 359.6L347.2 359.6L345.2 359.6L343.2 359.6L341.2 359.6L339.2 359.6L337.1 359.6L335.1 359.6L333.1 359.6L331.1 359.6L329.1 359.6L327.1 359.6L325.1 359.6L323.1 359.6L321.1 359.6L319.1 359.6L317.1 359.5L315.1 359.5L313.1 359.5L311.1 359.5L309.1 359.5L307 359.5L305 359.5L303 359.5L301 359.5L299 359.5L297 359.5L295 359.5L293 359.4L291 359.4L289 359.4L287 359.4L285 359.4L283 359.3L281 359.3L279 359.3L276.9 359.3L274.9 359.2L272.9 359.2L270.9 359.1L268.9 359.1L266.9 359L264.9 359L262.9 358.9L260.9 358.8L258.9 358.7L256.9 358.6L254.9 358.5L252.9 358.3L250.9 358.2L248.8 358L246.8 357.8L244.8 357.6L242.8 357.4L240.8 357.1L238.8 356.8L236.8 356.4L234.8 356.1L232.8 355.7L230.8 355.2L228.8 354.7L226.8 354.2L224.8 353.6L222.8 353L220.8 352.4L218.7 351.7L216.7 351L214.7 350.2L212.7 349.5L210.7 348.6L208.7 347.8L206.7 346.9L204.7 346L202.7 345L200.7 344L198.7 343L196.7 341.8L194.7 340.7L192.7 339.4L190.6 338.1L188.6 336.6L186.6 335.1L184.6 333.5L182.6 331.7L180.6 329.9L178.6 327.9L176.6 325.7Z" fill="#0505ff"/>
<path d="M176.6 325.4L177.6 325.4L179.6 327.6L181.6 329.8L183.6 331.8L185.6 333.7L187.6 335.5L189.6 337.1L191.6 338.7L193.7 340.2L195.7 341.6L197.7 342.9L199.7 344.2L201.7 345.4L203.7 346.5L205.7 347.6L207.7 348.7L209.7 349.7L211.7 350.7L213.7 351.6L215.7 352.5L217.7 353.3L219.7 354.1L221.8 354.8L223.8 355.6L225.8 356.2L227.8 356.9L229.8 357.5L231.8 358L233.8 358.5L235.8 359L237.8 359.4L239.8 359.8L241.8 360.1L243.8 360.4L245.8 360.7L247.8 361L249.8 361.2L251.9 361.4L253.9 361.6L255.9 361.7L257.9 361.9L259.9 362L261.9 362.1L263.9 362.2L265.9 362.3L267.9 362.4L269.9 362.5L271.9 362.5L273.9 362.6L275.9 362.7L277.9 362.7L280 362.7L282 362.8L284 362.8L286 362.9L288 362.9L290 362.9L292 362.9L294 363L296 363L298 363L300 363L302 363L304 363L306 363L308 363.1L310.1 363.1L312.1 363.1L314.1 363.1L316.1 363.1L318.1 363.1L320.1 363.1L322.1 363.1L324.1 363.1L326.1 363.1L328.1 363.1L330.1 363.1L332.1 363.1L334.1 363.1L336.1 363.1L338.1 363.1L340.2 363.1L342.2 363.1L344.2 363.1L346.2 363.1L348.2 363.1L350.2 363.1L352.2 363.1L354.2 363.1L356.2 363.1L358.2 363.1L360.2 363.1L362.2 363.1L364.2 363.1L366.2 363.1L368.3 363.1L370.3 363.1L372.3 363.1L374.3 363.1L376.3 363.2L378.3 363.2L380.3 363.2L382.3 363.2L382.3 367L381.3 367L379.3 367L377.3 367L375.3 367L373.3 366.9L371.3 366.9L369.3 366.9L367.3 366.9L365.2 366.9L363.2 366.9L361.2 366.9L359.2 366.9L357.2 366.9L355.2 366.9L353.2 366.9L351.2 366.9L349.2 366.9L347.2 366.9L345.2 366.9L343.2 366.9L341.2 366.9L339.2 366.9L337.1 366.9L335.1 366.9L333.1 366.9L331.1 366.9L329.1 366.9L327.1 366.9L325.1 366.9L323.1 366.9L321.1 366.9L319.1 366.9L317.1 366.9L315.1 366.9L313.1 366.9L311.1 366.9L309.1 366.9L307 366.9L305 366.8L303 366.8L301 366.8L299 366.8L297 366.8L295 366.8L293 366.8L291 366.7L289 366.7L287 366.7L285 366.7L283 366.6L281 366.6L279 366.5L276.9 366.5L274.9 366.5L272.9 366.4L270.9 366.3L268.9 366.3L266.9 366.2L264.9 366.1L262.9 366L260.9 365.9L258.9 365.8L256.9 365.7L254.9 365.5L252.9 365.4L250.9 365.2L248.8 365L246.8 364.8L244.8 364.5L242.8 364.2L240.8 363.9L238.8 363.6L236.8 363.2L234.8 362.8L232.8 362.3L230.8 361.8L228.8 361.3L226.8 360.7L224.8 360L222.8 359.4L220.8 358.6L218.7 357.9L216.7 357.1L214.7 356.3L212.7 355.4L210.7 354.5L208.7 353.5L206.7 352.5L204.7 351.4L202.7 350.3L200.7 349.2L198.7 348L196.7 346.7L194.7 345.4L192.7 344L190.6 342.5L188.6 340.9L186.6 339.3L184.6 337.5L182.6 335.6L180.6 333.6L178.6 331.4L176.6 329.2Z" fill="#0505ff"/>
<path d="M176.6 327.1L177.6 327.1L179.6 329.5L181.6 331.7L183.6 333.8L185.6 335.8L187.6 337.6L189.6 339.4L191.6 341L193.7 342.6L195.7 344.1L197.7 345.5L199.7 346.9L201.7 348.2L203.7 349.4L205.7 350.6L207.7 351.7L209.7 352.8L211.7 353.8L213.7 354.8L215.7 355.8L217.7 356.7L219.7 357.5L221.8 358.3L223.8 359.1L225.8 359.8L227.8 360.5L229.8 361.2L231.8 361.8L233.8 362.3L235.8 362.8L237.8 363.3L239.8 363.7L241.8 364.1L243.8 364.4L245.8 364.8L247.8 365L249.8 365.3L251.9 365.5L253.9 365.7L255.9 365.9L257.9 366.1L259.9 366.3L261.9 366.4L263.9 366.5L265.9 366.6L267.9 366.7L269.9 366.8L271.9 366.9L273.9 367L275.9 367L277.9 367.1L280 367.1L282 367.2L284 367.2L286 367.3L288 367.3L290 367.3L292 367.4L294 367.4L296 367.4L298 367.4L300 367.5L302 367.5L304 367.5L306 367.5L308 367.5L310.1 367.5L312.1 367.5L314.1 367.5L316.1 367.6L318.1 367.6L320.1 367.6L322.1 367.6L324.1 367.6L326.1 367.6L328.1 367.6L330.1 367.6L332.1 367.6L334.1 367.6L336.1 367.6L338.1 367.6L340.2 367.6L342.2 367.6L344.2 367.6L346.2 367.6L348.2 367.6L350.2 367.6L352.2 367.6L354.2 367.6L356.2 367.6L358.2 367.6L360.2 367.6L362.2 367.6L364.2 367.6L366.2 367.6L368.3 367.6L370.3 367.6L372.3 367.6L374.3 367.6L376.3 367.6L378.3 367.6L380.3 367.6L382.3 367.6L382.3 371.4L381.3 371.4L379.3 371.4L377.3 371.4L375.3 371.4L373.3 371.4L371.3 371.4L369.3 371.4L367.3 371.4L365.2 371.4L363.2 371.4L361.2 371.4L359.2 371.4L357.2 371.4L355.2 371.4L353.2 371.4L351.2 371.4L349.2 371.4L347.2 371.4L345.2 371.4L343.2 371.4L341.2 371.4L339.2 371.4L337.1 371.4L335.1 371.4L333.1 371.4L331.1 371.4L329.1 371.4L327.1 371.4L325.1 371.4L323.1 371.4L321.1 371.4L319.1 371.4L317.1 371.4L315.1 371.4L313.1 371.3L311.1 371.3L309.1 371.3L307 371.3L305 371.3L303 371.3L301 371.3L299 371.3L297 371.2L295 371.2L293 371.2L291 371.2L289 371.1L287 371.1L285 371.1L283 371L281 371L279 370.9L276.9 370.9L274.9 370.8L272.9 370.8L270.9 370.7L268.9 370.6L266.9 370.5L264.9 370.4L262.9 370.3L260.9 370.2L258.9 370.1L256.9 369.9L254.9 369.7L252.9 369.5L250.9 369.3L248.8 369.1L246.8 368.8L244.8 368.6L242.8 368.2L240.8 367.9L238.8 367.5L236.8 367.1L234.8 366.6L232.8 366.1L230.8 365.6L228.8 365L226.8 364.3L224.8 363.6L222.8 362.9L220.8 362.1L218.7 361.3L216.7 360.5L214.7 359.6L212.7 358.6L210.7 357.6L208.7 356.6L206.7 355.5L204.7 354.4L202.7 353.2L200.7 352L198.7 350.7L196.7 349.3L194.7 347.9L192.7 346.4L190.6 344.8L188.6 343.2L186.6 341.4L184.6 339.6L182.6 337.6L180.6 335.5L178.6 333.3L176.6 330.9Z" fill="#0505ff"/>
<path d="M176.6 330L177.6 330L179.6 332.6L181.6 334.9L183.6 337.2L185.6 339.3L187.6 341.4L189.6 343.3L191.6 345.2L193.7 346.9L195.7 348.6L197.7 350.2L199.7 351.8L201.7 353.2L203.7 354.6L205.7 356L207.7 357.2L209.7 358.5L211.7 359.6L213.7 360.8L215.7 361.8L217.7 362.9L219.7 363.8L221.8 364.7L223.8 365.6L225.8 366.4L227.8 367.2L229.8 368L231.8 368.6L233.8 369.3L235.8 369.9L237.8 370.4L239.8 371L241.8 371.4L243.8 371.9L245.8 372.3L247.8 372.7L249.8 373L251.9 373.3L253.9 373.6L255.9 373.9L257.9 374.1L259.9 374.3L261.9 374.5L263.9 374.7L265.9 374.9L267.9 375L269.9 375.1L271.9 375.3L273.9 375.4L275.9 375.5L277.9 375.6L280 375.7L282 375.7L284 375.8L286 375.9L288 375.9L290 376L292 376L294 376.1L296 376.1L298 376.1L300 376.2L302 376.2L304 376.2L306 376.2L308 376.3L310.1 376.3L312.1 376.3L314.1 376.3L316.1 376.3L318.1 376.3L320.1 376.4L322.1 376.4L324.1 376.4L326.1 376.4L328.1 376.4L330.1 376.4L332.1 376.4L334.1 376.4L336.1 376.4L338.1 376.4L340.2 376.4L342.2 376.4L344.2 376.4L346.2 376.4L348.2 376.4L350.2 376.4L352.2 376.4L354.2 376.4L356.2 376.4L358.2 376.4L360.2 376.4L362.2 376.5L364.2 376.5L366.2 376.5L368.3 376.5L370.3 376.5L372.3 376.5L374.3 376.5L376.3 376.5L378.3 376.5L380.3 376.5L382.3 376.5L382.3 380.3L381.3 380.3L379.3 380.3L377.3 380.3L375.3 380.3L373.3 380.3L371.3 380.3L369.3 380.3L367.3 380.3L365.2 380.3L363.2 380.3L361.2 380.3L359.2 380.2L357.2 380.2L355.2 380.2L353.2 380.2L351.2 380.2L349.2 380.2L347.2 380.2L345.2 380.2L343.2 380.2L341.2 380.2L339.2 380.2L337.1 380.2L335.1 380.2L333.1 380.2L331.1 380.2L329.1 380.2L327.1 380.2L325.1 380.2L323.1 380.2L321.1 380.2L319.1 380.2L317.1 380.1L315.1 380.1L313.1 380.1L311.1 380.1L309.1 380.1L307 380.1L305 380L303 380L301 380L299 380L297 379.9L295 379.9L293 379.9L291 379.8L289 379.8L287 379.7L285 379.7L283 379.6L281 379.5L279 379.5L276.9 379.4L274.9 379.3L272.9 379.2L270.9 379.1L268.9 378.9L266.9 378.8L264.9 378.7L262.9 378.5L260.9 378.3L258.9 378.1L256.9 377.9L254.9 377.7L252.9 377.4L250.9 377.1L248.8 376.8L246.8 376.5L244.8 376.1L242.8 375.7L240.8 375.2L238.8 374.8L236.8 374.2L234.8 373.7L232.8 373.1L230.8 372.4L228.8 371.8L226.8 371L224.8 370.2L222.8 369.4L220.8 368.5L218.7 367.6L216.7 366.7L214.7 365.6L212.7 364.6L210.7 363.4L208.7 362.3L206.7 361L204.7 359.8L202.7 358.4L200.7 357L198.7 355.6L196.7 354L194.7 352.4L192.7 350.7L190.6 349L188.6 347.1L186.6 345.2L184.6 343.1L182.6 341L180.6 338.7L178.6 336.4L176.6 333.8Z" fill="#0505ff"/>
<path d="M176.6 331.1L177.6 331.1L179.6 333.7L181.6 336.1L183.6 338.5L185.6 340.7L187.6 342.8L189.6 344.9L191.6 346.8L193.7 348.6L195.7 350.4L197.7 352.1L199.7 353.7L201.7 355.2L203.7 356.7L205.7 358.1L207.7 359.5L209.7 360.7L211.7 362L213.7 363.1L215.7 364.3L217.7 365.3L219.7 366.3L221.8 367.3L223.8 368.2L225.8 369.1L227.8 369.9L229.8 370.7L231.8 371.4L233.8 372.1L235.8 372.8L237.8 373.4L239.8 374L241.8 374.5L243.8 375L245.8 375.4L247.8 375.9L249.8 376.3L251.9 376.6L253.9 377L255.9 377.3L257.9 377.6L259.9 377.8L261.9 378.1L263.9 378.3L265.9 378.5L267.9 378.7L269.9 378.9L271.9 379L273.9 379.2L275.9 379.3L277.9 379.4L280 379.6L282 379.7L284 379.7L286 379.8L288 379.9L290 380L292 380L294 380.1L296 380.1L298 380.2L300 380.2L302 380.3L304 380.3L306 380.3L308 380.4L310.1 380.4L312.1 380.4L314.1 380.4L316.1 380.4L318.1 380.5L320.1 380.5L322.1 380.5L324.1 380.5L326.1 380.5L328.1 380.5L330.1 380.5L332.1 380.5L334.1 380.6L336.1 380.6L338.1 380.6L340.2 380.6L342.2 380.6L344.2 380.6L346.2 380.6L348.2 380.6L350.2 380.6L352.2 380.6L354.2 380.6L356.2 380.6L358.2 380.6L360.2 380.6L362.2 380.6L364.2 380.6L366.2 380.6L368.3 380.6L370.3 380.6L372.3 380.6L374.3 380.6L376.3 380.6L378.3 380.6L380.3 380.6L382.3 380.6L382.3 384.4L381.3 384.4L379.3 384.4L377.3 384.4L375.3 384.4L373.3 384.4L371.3 384.4L369.3 384.4L367.3 384.4L365.2 384.4L363.2 384.4L361.2 384.4L359.2 384.4L357.2 384.4L355.2 384.4L353.2 384.4L351.2 384.4L349.2 384.4L347.2 384.4L345.2 384.4L343.2 384.4L341.2 384.4L339.2 384.4L337.1 384.4L335.1 384.4L333.1 384.4L331.1 384.3L329.1 384.3L327.1 384.3L325.1 384.3L323.1 384.3L321.1 384.3L319.1 384.3L317.1 384.3L315.1 384.2L313.1 384.2L311.1 384.2L309.1 384.2L307 384.2L305 384.1L303 384.1L301 384.1L299 384L297 384L295 383.9L293 383.9L291 383.8L289 383.8L287 383.7L285 383.6L283 383.5L281 383.5L279 383.4L276.9 383.2L274.9 383.1L272.9 383L270.9 382.8L268.9 382.7L266.9 382.5L264.9 382.3L262.9 382.1L260.9 381.9L258.9 381.6L256.9 381.4L254.9 381.1L252.9 380.8L250.9 380.4L248.8 380.1L246.8 379.7L244.8 379.2L242.8 378.8L240.8 378.3L238.8 377.8L236.8 377.2L234.8 376.6L232.8 375.9L230.8 375.2L228.8 374.5L226.8 373.7L224.8 372.9L222.8 372L220.8 371.1L218.7 370.1L216.7 369.1L214.7 368.1L212.7 366.9L210.7 365.8L208.7 364.5L206.7 363.3L204.7 361.9L202.7 360.5L200.7 359L198.7 357.5L196.7 355.9L194.7 354.2L192.7 352.4L190.6 350.6L188.6 348.7L186.6 346.6L184.6 344.5L182.6 342.3L180.6 339.9L178.6 337.5L176.6 334.9Z" fill="#0505ff"/>
<path d="M176.6 331.6L177.6 331.6L179.6 334.2L181.6 336.7L183.6 339.1L185.6 341.4L187.6 343.5L189.6 345.6L191.6 347.6L193.7 349.5L195.7 351.3L197.7 353L199.7 354.6L201.7 356.2L203.7 357.7L205.7 359.2L207.7 360.5L209.7 361.8L211.7 363.1L213.7 364.3L215.7 365.4L217.7 366.5L219.7 367.5L221.8 368.5L223.8 369.4L225.8 370.3L227.8 371.1L229.8 371.9L231.8 372.7L233.8 373.4L235.8 374.1L237.8 374.7L239.8 375.3L241.8 375.8L243.8 376.4L245.8 376.9L247.8 377.3L249.8 377.7L251.9 378.1L253.9 378.5L255.9 378.9L257.9 379.2L259.9 379.5L261.9 379.8L263.9 380L265.9 380.2L267.9 380.4L269.9 380.6L271.9 380.8L273.9 381L275.9 381.1L277.9 381.3L280 381.4L282 381.5L284 381.6L286 381.7L288 381.8L290 381.9L292 382L294 382L296 382.1L298 382.1L300 382.2L302 382.2L304 382.3L306 382.3L308 382.4L310.1 382.4L312.1 382.4L314.1 382.4L316.1 382.5L318.1 382.5L320.1 382.5L322.1 382.5L324.1 382.5L326.1 382.5L328.1 382.6L330.1 382.6L332.1 382.6L334.1 382.6L336.1 382.6L338.1 382.6L340.2 382.6L342.2 382.6L344.2 382.6L346.2 382.6L348.2 382.6L350.2 382.6L352.2 382.6L354.2 382.6L356.2 382.6L358.2 382.6L360.2 382.6L362.2 382.6L364.2 382.6L366.2 382.6L368.3 382.6L370.3 382.7L372.3 382.7L374.3 382.7L376.3 382.7L378.3 382.7L380.3 382.7L382.3 382.7L382.3 386.5L381.3 386.5L379.3 386.5L377.3 386.5L375.3 386.5L373.3 386.5L371.3 386.5L369.3 386.5L367.3 386.4L365.2 386.4L363.2 386.4L361.2 386.4L359.2 386.4L357.2 386.4L355.2 386.4L353.2 386.4L351.2 386.4L349.2 386.4L347.2 386.4L345.2 386.4L343.2 386.4L341.2 386.4L339.2 386.4L337.1 386.4L335.1 386.4L333.1 386.4L331.1 386.4L329.1 386.4L327.1 386.4L325.1 386.3L323.1 386.3L321.1 386.3L319.1 386.3L317.1 386.3L315.1 386.3L313.1 386.2L311.1 386.2L309.1 386.2L307 386.2L305 386.1L303 386.1L301 386L299 386L297 385.9L295 385.9L293 385.8L291 385.8L289 385.7L287 385.6L285 385.5L283 385.4L281 385.3L279 385.2L276.9 385.1L274.9 384.9L272.9 384.8L270.9 384.6L268.9 384.4L266.9 384.2L264.9 384L262.9 383.8L260.9 383.6L258.9 383.3L256.9 383L254.9 382.7L252.9 382.3L250.9 381.9L248.8 381.5L246.8 381.1L244.8 380.7L242.8 380.2L240.8 379.6L238.8 379.1L236.8 378.5L234.8 377.9L232.8 377.2L230.8 376.5L228.8 375.7L226.8 374.9L224.8 374.1L222.8 373.2L220.8 372.3L218.7 371.3L216.7 370.3L214.7 369.2L212.7 368.1L210.7 366.9L208.7 365.6L206.7 364.3L204.7 363L202.7 361.5L200.7 360L198.7 358.4L196.7 356.8L194.7 355.1L192.7 353.3L190.6 351.4L188.6 349.4L186.6 347.3L184.6 345.2L182.6 342.9L180.6 340.5L178.6 338L176.6 335.4Z" fill="#0505ff"/>
<path d="M176.6 332L177.6 332L179.6 334.6L181.6 337.1L183.6 339.5L185.6 341.7L187.6 343.9L189.6 346L191.6 348L193.6 349.9L195.6 351.7L197.6 353.5L199.6 355.1L201.6 356.7L203.6 358.3L205.6 359.7L207.6 361.1L209.6 362.5L211.6 363.7L211.6 367.5L210.6 367.5L208.6 366.3L206.6 364.9L204.6 363.5L202.6 362.1L200.6 360.5L198.6 358.9L196.6 357.3L194.6 355.5L192.6 353.7L190.6 351.8L188.6 349.8L186.6 347.7L184.6 345.5L182.6 343.3L180.6 340.9L178.6 338.4L176.6 335.8Z" fill="#0505ff"/>
<path d="M176.6 331.6L177.6 331.6L179.6 334.3L181.6 336.8L183.6 339.2L185.6 341.5L187.6 343.7L189.6 345.8L191.6 347.8L193.7 349.8L195.7 351.6L197.7 353.4L199.7 355.1L201.7 356.7L203.7 358.3L205.7 359.8L207.7 361.2L209.7 362.6L211.7 363.9L213.7 365.2L215.7 366.4L217.7 367.5L219.7 368.6L221.8 369.7L223.8 370.7L225.8 371.7L227.8 372.6L229.8 373.5L231.8 374.4L233.8 375.2L235.8 375.9L237.8 376.7L239.8 377.4L241.8 378L243.8 378.7L245.8 379.3L247.8 379.9L249.8 380.4L251.9 381L253.9 381.5L255.9 382L257.9 382.4L259.9 382.9L261.9 383.3L263.9 383.7L265.9 384L267.9 384.3L269.9 384.7L271.9 385L273.9 385.2L275.9 385.5L277.9 385.7L280 386L282 386.2L284 386.4L286 386.6L288 386.7L290 386.9L292 387.1L294 387.2L296 387.3L298 387.4L300 387.6L302 387.7L304 387.8L306 387.9L308 388L310.1 388L312.1 388.1L314.1 388.2L316.1 388.3L318.1 388.4L320.1 388.4L322.1 388.4L324.1 388.4L326.1 388.5L328.1 388.5L330.1 388.5L332.1 388.5L334.1 388.5L336.1 388.5L338.1 388.6L340.2 388.6L342.2 388.6L344.2 388.6L346.2 388.6L348.2 388.6L350.2 388.6L352.2 388.6L354.2 388.6L356.2 388.6L358.2 388.6L360.2 388.6L362.2 388.6L364.2 388.6L366.2 388.6L368.3 388.6L370.3 388.7L372.3 388.7L374.3 388.7L376.3 388.7L378.3 388.7L380.3 388.7L382.3 388.7L382.3 392.5L381.3 392.5L379.3 392.5L377.3 392.5L375.3 392.5L373.3 392.5L371.3 392.5L369.3 392.5L367.3 392.4L365.2 392.4L363.2 392.4L361.2 392.4L359.2 392.4L357.2 392.4L355.2 392.4L353.2 392.4L351.2 392.4L349.2 392.4L347.2 392.4L345.2 392.4L343.2 392.4L341.2 392.4L339.2 392.4L337.1 392.4L335.1 392.3L333.1 392.3L331.1 392.3L329.1 392.3L327.1 392.3L325.1 392.3L323.1 392.2L321.1 392.2L319.1 392.2L317.1 392.2L315.1 392.1L313.1 392L311.1 391.9L309.1 391.8L307 391.8L305 391.7L303 391.6L301 391.5L299 391.4L297 391.2L295 391.1L293 391L291 390.9L289 390.7L287 390.5L285 390.4L283 390.2L281 390L279 389.8L276.9 389.5L274.9 389.3L272.9 389L270.9 388.8L268.9 388.5L266.9 388.1L264.9 387.8L262.9 387.5L260.9 387.1L258.9 386.7L256.9 386.2L254.9 385.8L252.9 385.3L250.9 384.8L248.8 384.2L246.8 383.7L244.8 383.1L242.8 382.5L240.8 381.8L238.8 381.2L236.8 380.5L234.8 379.7L232.8 379L230.8 378.2L228.8 377.3L226.8 376.4L224.8 375.5L222.8 374.5L220.8 373.5L218.7 372.4L216.7 371.3L214.7 370.2L212.7 369L210.7 367.7L208.7 366.4L206.7 365L204.7 363.6L202.7 362.1L200.7 360.5L198.7 358.9L196.7 357.2L194.7 355.4L192.7 353.6L190.6 351.6L188.6 349.6L186.6 347.5L184.6 345.3L182.6 343L180.6 340.6L178.6 338.1L176.6 335.4Z" fill="#0505ff"/>
<path d="M176.6 332L177.6 332L179.6 334.6L181.6 337.2L183.6 339.6L185.6 341.9L187.6 344.1L189.6 346.3L191.6 348.3L193.7 350.3L195.7 352.1L197.7 353.9L199.7 355.7L201.7 357.3L203.7 358.9L205.7 360.4L207.7 361.9L209.7 363.3L211.7 364.7L213.7 366L215.7 367.2L217.7 368.4L219.7 369.6L221.8 370.7L223.8 371.8L225.8 372.8L227.8 373.8L229.8 374.7L231.8 375.6L233.8 376.5L235.8 377.3L237.8 378.1L239.8 378.9L241.8 379.7L243.8 380.4L245.8 381L247.8 381.7L249.8 382.4L251.9 383L253.9 383.6L255.9 384.2L257.9 384.7L259.9 385.2L261.9 385.7L263.9 386.2L265.9 386.7L267.9 387.1L269.9 387.5L271.9 387.9L273.9 388.2L275.9 388.6L277.9 388.9L280 389.2L282 389.5L284 389.7L286 390L288 390.2L290 390.5L292 390.7L294 390.9L296 391L298 391.2L300 391.4L302 391.5L304 391.7L306 391.8L308 391.9L310.1 392L312.1 392.1L314.1 392.2L316.1 392.3L318.1 392.4L320.1 392.5L322.1 392.5L324.1 392.6L326.1 392.6L328.1 392.7L330.1 392.7L332.1 392.7L334.1 392.7L336.1 392.8L338.1 392.8L340.2 392.8L342.2 392.8L344.2 392.8L346.2 392.8L348.2 392.9L350.2 392.9L352.2 392.9L354.2 392.9L356.2 392.9L358.2 392.9L360.2 392.9L362.2 392.9L364.2 392.9L366.2 392.9L368.3 392.9L370.3 392.9L372.3 392.9L374.3 392.9L376.3 392.9L378.3 393L380.3 393L382.3 393L382.3 396.8L381.3 396.8L379.3 396.8L377.3 396.8L375.3 396.7L373.3 396.7L371.3 396.7L369.3 396.7L367.3 396.7L365.2 396.7L363.2 396.7L361.2 396.7L359.2 396.7L357.2 396.7L355.2 396.7L353.2 396.7L351.2 396.7L349.2 396.7L347.2 396.7L345.2 396.6L343.2 396.6L341.2 396.6L339.2 396.6L337.1 396.6L335.1 396.6L333.1 396.5L331.1 396.5L329.1 396.5L327.1 396.5L325.1 396.4L323.1 396.4L321.1 396.3L319.1 396.3L317.1 396.2L315.1 396.1L313.1 396L311.1 395.9L309.1 395.8L307 395.7L305 395.6L303 395.5L301 395.3L299 395.2L297 395L295 394.8L293 394.7L291 394.5L289 394.3L287 394L285 393.8L283 393.5L281 393.3L279 393L276.9 392.7L274.9 392.4L272.9 392L270.9 391.7L268.9 391.3L266.9 390.9L264.9 390.5L262.9 390L260.9 389.5L258.9 389L256.9 388.5L254.9 388L252.9 387.4L250.9 386.8L248.8 386.2L246.8 385.5L244.8 384.8L242.8 384.2L240.8 383.5L238.8 382.7L236.8 381.9L234.8 381.1L232.8 380.3L230.8 379.4L228.8 378.5L226.8 377.6L224.8 376.6L222.8 375.6L220.8 374.5L218.7 373.4L216.7 372.2L214.7 371L212.7 369.8L210.7 368.5L208.7 367.1L206.7 365.7L204.7 364.2L202.7 362.7L200.7 361.1L198.7 359.5L196.7 357.7L194.7 355.9L192.7 354.1L190.6 352.1L188.6 350.1L186.6 347.9L184.6 345.7L182.6 343.4L180.6 341L178.6 338.4L176.6 335.8Z" fill="#0505ff"/>
<path d="M176.6 332.2L177.6 332.2L179.6 334.8L181.6 337.4L183.6 339.8L185.6 342.1L187.6 344.4L189.6 346.5L191.6 348.6L193.7 350.5L195.7 352.4L197.7 354.2L199.7 356L201.7 357.6L203.7 359.2L205.7 360.8L207.7 362.3L209.7 363.7L211.7 365.1L213.7 366.4L215.7 367.7L217.7 368.9L219.7 370.1L221.8 371.2L223.8 372.3L225.8 373.4L227.8 374.4L229.8 375.4L231.8 376.3L233.8 377.2L235.8 378.1L237.8 378.9L239.8 379.7L241.8 380.5L243.8 381.3L245.8 382L247.8 382.7L249.8 383.4L251.9 384.1L253.9 384.8L255.9 385.4L257.9 386L259.9 386.6L261.9 387.2L263.9 387.7L265.9 388.2L267.9 388.7L269.9 389.2L271.9 389.6L273.9 390.1L275.9 390.5L277.9 390.9L280 391.3L282 391.6L284 392L286 392.3L288 392.6L290 392.9L292 393.2L294 393.4L296 393.7L298 393.9L300 394.1L302 394.3L304 394.5L306 394.7L308 394.9L310.1 395L312.1 395.2L314.1 395.3L316.1 395.4L318.1 395.6L320.1 395.6L322.1 395.7L324.1 395.8L326.1 395.8L328.1 395.9L330.1 396L332.1 396L334.1 396L336.1 396.1L338.1 396.1L340.2 396.2L342.2 396.2L344.2 396.2L346.2 396.2L348.2 396.3L350.2 396.3L352.2 396.3L354.2 396.3L356.2 396.3L358.2 396.3L360.2 396.3L362.2 396.4L364.2 396.4L366.2 396.4L368.3 396.4L370.3 396.4L372.3 396.4L374.3 396.4L376.3 396.4L378.3 396.4L380.3 396.4L382.3 396.4L382.3 400.2L381.3 400.2L379.3 400.2L377.3 400.2L375.3 400.2L373.3 400.2L371.3 400.2L369.3 400.2L367.3 400.2L365.2 400.2L363.2 400.2L361.2 400.2L359.2 400.1L357.2 400.1L355.2 400.1L353.2 400.1L351.2 400.1L349.2 400.1L347.2 400.1L345.2 400L343.2 400L341.2 400L339.2 400L337.1 399.9L335.1 399.9L333.1 399.8L331.1 399.8L329.1 399.8L327.1 399.7L325.1 399.6L323.1 399.6L321.1 399.5L319.1 399.4L317.1 399.4L315.1 399.2L313.1 399.1L311.1 399L309.1 398.8L307 398.7L305 398.5L303 398.3L301 398.1L299 397.9L297 397.7L295 397.5L293 397.2L291 397L289 396.7L287 396.4L285 396.1L283 395.8L281 395.4L279 395.1L276.9 394.7L274.9 394.3L272.9 393.9L270.9 393.4L268.9 393L266.9 392.5L264.9 392L262.9 391.5L260.9 391L258.9 390.4L256.9 389.8L254.9 389.2L252.9 388.6L250.9 387.9L248.8 387.2L246.8 386.5L244.8 385.8L242.8 385.1L240.8 384.3L238.8 383.5L236.8 382.7L234.8 381.9L232.8 381L230.8 380.1L228.8 379.2L226.8 378.2L224.8 377.2L222.8 376.1L220.8 375L218.7 373.9L216.7 372.7L214.7 371.5L212.7 370.2L210.7 368.9L208.7 367.5L206.7 366.1L204.7 364.6L202.7 363L200.7 361.4L198.7 359.8L196.7 358L194.7 356.2L192.7 354.3L190.6 352.4L188.6 350.3L186.6 348.2L184.6 345.9L182.6 343.6L180.6 341.2L178.6 338.6L176.6 336Z" fill="#0505ff"/>
<path d="M176.6 332.2L177.6 332.2L179.6 334.9L181.6 337.5L183.7 339.9L185.7 342.3L187.7 344.5L189.7 346.7L191.7 348.8L193.8 350.7L195.8 352.6L197.8 354.5L199.8 356.2L201.8 357.9L203.8 359.5L205.9 361.1L207.9 362.6L209.9 364L211.9 365.4L213.9 366.7L216 368L218 369.3L220 370.5L222 371.6L224 372.7L226.1 373.8L228.1 374.8L230.1 375.8L232.1 376.8L234.1 377.7L236.2 378.6L238.2 379.5L240.2 380.3L242.2 381.1L244.2 381.9L246.2 382.7L246.2 386.5L245.2 386.5L243.2 385.7L241.2 384.9L239.2 384.1L237.2 383.3L235.2 382.4L233.1 381.5L231.1 380.6L229.1 379.6L227.1 378.6L225.1 377.6L223 376.5L221 375.4L219 374.3L217 373.1L215 371.8L212.9 370.5L210.9 369.2L208.9 367.8L206.9 366.4L204.9 364.9L202.8 363.3L200.8 361.7L198.8 360L196.8 358.3L194.8 356.4L192.8 354.5L190.7 352.6L188.7 350.5L186.7 348.3L184.7 346.1L182.7 343.7L180.6 341.3L178.6 338.7L176.6 336Z" fill="#0505ff"/>
<path d="M176.6 332.3L177.6 332.3L179.6 335L181.6 337.5L183.6 340L185.6 342.3L187.6 344.6L189.6 346.7L191.6 348.8L193.7 350.7L195.7 352.6L197.7 354.5L199.7 356.2L201.7 357.9L203.7 359.5L205.7 361.1L207.7 362.6L209.7 364L211.7 365.4L213.7 366.8L215.7 368.1L217.7 369.3L219.7 370.5L221.8 371.7L223.8 372.8L225.8 373.9L227.8 374.9L229.8 375.9L231.8 376.9L233.8 377.9L235.8 378.8L237.8 379.7L239.8 380.5L241.8 381.4L243.8 382.2L245.8 382.9L247.8 383.7L249.8 384.4L251.9 385.1L253.9 385.8L255.9 386.5L257.9 387.2L259.9 387.8L261.9 388.4L263.9 389L265.9 389.6L267.9 390.1L269.9 390.7L271.9 391.2L273.9 391.7L275.9 392.2L277.9 392.7L280 393.2L282 393.6L284 394.1L286 394.5L288 394.9L290 395.3L292 395.7L294 396.1L296 396.4L298 396.8L300 397.1L302 397.5L304 397.8L306 398.1L308 398.4L310.1 398.7L312.1 398.9L314.1 399.2L316.1 399.5L318.1 399.7L320.1 399.9L322.1 400.1L324.1 400.4L326.1 400.5L328.1 400.7L330.1 400.9L332.1 401.1L334.1 401.2L336.1 401.4L338.1 401.5L340.2 401.7L342.2 401.8L344.2 401.9L346.2 402L348.2 402.1L350.2 402.2L352.2 402.3L354.2 402.4L356.2 402.4L358.2 402.5L360.2 402.6L362.2 402.6L364.2 402.7L366.2 402.7L368.3 402.8L370.3 402.8L372.3 402.9L374.3 402.9L376.3 402.9L378.3 403L380.3 403L382.3 403L382.3 406.8L381.3 406.8L379.3 406.8L377.3 406.8L375.3 406.7L373.3 406.7L371.3 406.7L369.3 406.6L367.3 406.6L365.2 406.5L363.2 406.5L361.2 406.4L359.2 406.4L357.2 406.3L355.2 406.2L353.2 406.2L351.2 406.1L349.2 406L347.2 405.9L345.2 405.8L343.2 405.7L341.2 405.6L339.2 405.5L337.1 405.3L335.1 405.2L333.1 405L331.1 404.9L329.1 404.7L327.1 404.5L325.1 404.3L323.1 404.2L321.1 403.9L319.1 403.7L317.1 403.5L315.1 403.3L313.1 403L311.1 402.7L309.1 402.5L307 402.2L305 401.9L303 401.6L301 401.3L299 400.9L297 400.6L295 400.2L293 399.9L291 399.5L289 399.1L287 398.7L285 398.3L283 397.9L281 397.4L279 397L276.9 396.5L274.9 396L272.9 395.5L270.9 395L268.9 394.5L266.9 393.9L264.9 393.4L262.9 392.8L260.9 392.2L258.9 391.6L256.9 391L254.9 390.3L252.9 389.6L250.9 388.9L248.8 388.2L246.8 387.5L244.8 386.7L242.8 386L240.8 385.2L238.8 384.3L236.8 383.5L234.8 382.6L232.8 381.7L230.8 380.7L228.8 379.7L226.8 378.7L224.8 377.7L222.8 376.6L220.8 375.5L218.7 374.3L216.7 373.1L214.7 371.9L212.7 370.6L210.7 369.2L208.7 367.8L206.7 366.4L204.7 364.9L202.7 363.3L200.7 361.7L198.7 360L196.7 358.3L194.7 356.4L192.7 354.5L190.6 352.6L188.6 350.5L186.6 348.4L184.6 346.1L182.6 343.8L180.6 341.3L178.6 338.8L176.6 336.1Z" fill="#0505ff"/>
<path d="M176.6 332.3L177.6 332.3L179.6 335L181.6 337.5L183.6 340L185.6 342.3L187.6 344.6L189.6 346.7L191.6 348.8L193.7 350.8L195.7 352.7L197.7 354.5L199.7 356.2L201.7 357.9L203.7 359.5L205.7 361.1L207.7 362.6L209.7 364.1L211.7 365.5L213.7 366.8L215.7 368.1L217.7 369.3L219.7 370.5L221.8 371.7L223.8 372.8L225.8 373.9L227.8 375L229.8 376L231.8 377L233.8 377.9L235.8 378.8L237.8 379.7L239.8 380.6L241.8 381.4L243.8 382.2L245.8 383L247.8 383.8L249.8 384.5L251.9 385.3L253.9 386L255.9 386.7L257.9 387.4L259.9 388.1L261.9 388.7L263.9 389.3L265.9 390L267.9 390.5L269.9 391.1L271.9 391.7L273.9 392.2L275.9 392.8L277.9 393.3L280 393.8L282 394.3L284 394.8L286 395.2L288 395.7L290 396.1L292 396.6L294 397L296 397.4L298 397.8L300 398.2L302 398.5L304 398.9L306 399.3L308 399.6L310.1 399.9L312.1 400.3L314.1 400.6L316.1 400.9L318.1 401.2L320.1 401.5L322.1 401.7L324.1 401.9L326.1 402.2L328.1 402.4L330.1 402.6L332.1 402.8L334.1 403L336.1 403.2L338.1 403.3L340.2 403.5L342.2 403.7L344.2 403.8L346.2 404L348.2 404.1L350.2 404.2L352.2 404.4L354.2 404.5L356.2 404.6L358.2 404.7L360.2 404.8L362.2 404.9L364.2 404.9L366.2 405L368.3 405.1L370.3 405.2L372.3 405.2L374.3 405.3L376.3 405.3L378.3 405.4L380.3 405.4L382.3 405.5L382.3 409.3L381.3 409.3L379.3 409.2L377.3 409.2L375.3 409.1L373.3 409.1L371.3 409L369.3 409L367.3 408.9L365.2 408.8L363.2 408.7L361.2 408.7L359.2 408.6L357.2 408.5L355.2 408.4L353.2 408.3L351.2 408.2L349.2 408L347.2 407.9L345.2 407.8L343.2 407.6L341.2 407.5L339.2 407.3L337.1 407.1L335.1 407L333.1 406.8L331.1 406.6L329.1 406.4L327.1 406.2L325.1 406L323.1 405.7L321.1 405.5L319.1 405.3L317.1 405L315.1 404.7L313.1 404.4L311.1 404.1L309.1 403.7L307 403.4L305 403.1L303 402.7L301 402.3L299 402L297 401.6L295 401.2L293 400.8L291 400.4L289 399.9L287 399.5L285 399L283 398.6L281 398.1L279 397.6L276.9 397.1L274.9 396.6L272.9 396L270.9 395.5L268.9 394.9L266.9 394.3L264.9 393.8L262.9 393.1L260.9 392.5L258.9 391.9L256.9 391.2L254.9 390.5L252.9 389.8L250.9 389.1L248.8 388.3L246.8 387.6L244.8 386.8L242.8 386L240.8 385.2L238.8 384.4L236.8 383.5L234.8 382.6L232.8 381.7L230.8 380.8L228.8 379.8L226.8 378.8L224.8 377.7L222.8 376.6L220.8 375.5L218.7 374.3L216.7 373.1L214.7 371.9L212.7 370.6L210.7 369.3L208.7 367.9L206.7 366.4L204.7 364.9L202.7 363.3L200.7 361.7L198.7 360L196.7 358.3L194.7 356.5L192.7 354.6L190.6 352.6L188.6 350.5L186.6 348.4L184.6 346.1L182.6 343.8L180.6 341.3L178.6 338.8L176.6 336.1Z" fill="#0505ff"/>
<path d="M176.6 332.3L177.6 332.3L179.6 335L181.6 337.6L183.6 340L185.6 342.3L187.6 344.6L189.6 346.7L191.6 348.8L193.7 350.8L195.7 352.7L197.7 354.5L199.7 356.3L201.7 357.9L203.7 359.6L205.7 361.1L207.7 362.6L209.7 364.1L211.7 365.5L213.7 366.8L215.7 368.1L217.7 369.4L219.7 370.6L221.8 371.7L223.8 372.9L225.8 373.9L227.8 375L229.8 376L231.8 377L233.8 377.9L235.8 378.9L237.8 379.7L239.8 380.6L241.8 381.4L243.8 382.2L245.8 383L247.8 383.8L249.8 384.6L251.9 385.3L253.9 386.1L255.9 386.8L257.9 387.5L259.9 388.1L261.9 388.8L263.9 389.4L265.9 390L267.9 390.6L269.9 391.2L271.9 391.8L273.9 392.3L275.9 392.9L277.9 393.4L280 393.9L282 394.4L284 394.9L286 395.4L288 395.8L290 396.3L292 396.7L294 397.2L296 397.6L298 398L300 398.4L302 398.8L304 399.2L306 399.6L308 399.9L310.1 400.3L312.1 400.6L314.1 401L316.1 401.3L318.1 401.6L320.1 401.9L322.1 402.2L324.1 402.5L326.1 402.7L328.1 403L330.1 403.2L332.1 403.5L334.1 403.7L336.1 403.9L338.1 404.2L340.2 404.4L342.2 404.6L344.2 404.8L346.2 405L348.2 405.2L350.2 405.4L352.2 405.5L354.2 405.7L356.2 405.9L358.2 406L360.2 406.2L362.2 406.3L364.2 406.5L366.2 406.6L368.3 406.8L370.3 406.9L372.3 407L374.3 407.1L376.3 407.2L378.3 407.3L380.3 407.4L382.3 407.5L382.3 411.3L381.3 411.3L379.3 411.2L377.3 411.1L375.3 411L373.3 410.9L371.3 410.8L369.3 410.7L367.3 410.6L365.2 410.4L363.2 410.3L361.2 410.1L359.2 410L357.2 409.8L355.2 409.7L353.2 409.5L351.2 409.3L349.2 409.2L347.2 409L345.2 408.8L343.2 408.6L341.2 408.4L339.2 408.2L337.1 408L335.1 407.7L333.1 407.5L331.1 407.3L329.1 407L327.1 406.8L325.1 406.5L323.1 406.3L321.1 406L319.1 405.7L317.1 405.4L315.1 405.1L313.1 404.8L311.1 404.4L309.1 404.1L307 403.7L305 403.4L303 403L301 402.6L299 402.2L297 401.8L295 401.4L293 401L291 400.5L289 400.1L287 399.6L285 399.2L283 398.7L281 398.2L279 397.7L276.9 397.2L274.9 396.7L272.9 396.1L270.9 395.6L268.9 395L266.9 394.4L264.9 393.8L262.9 393.2L260.9 392.6L258.9 391.9L256.9 391.3L254.9 390.6L252.9 389.9L250.9 389.1L248.8 388.4L246.8 387.6L244.8 386.8L242.8 386L240.8 385.2L238.8 384.4L236.8 383.5L234.8 382.7L232.8 381.7L230.8 380.8L228.8 379.8L226.8 378.8L224.8 377.7L222.8 376.7L220.8 375.5L218.7 374.4L216.7 373.2L214.7 371.9L212.7 370.6L210.7 369.3L208.7 367.9L206.7 366.4L204.7 364.9L202.7 363.4L200.7 361.7L198.7 360.1L196.7 358.3L194.7 356.5L192.7 354.6L190.6 352.6L188.6 350.5L186.6 348.4L184.6 346.1L182.6 343.8L180.6 341.4L178.6 338.8L176.6 336.1Z" fill="#0505ff"/>
<path d="M176.6 281.1L177.6 281.1L179.6 282.5L181.6 283.7L183.6 284.8L185.6 285.7L187.6 286.6L189.6 287.4L191.6 288.1L193.7 288.8L195.7 289.4L197.7 289.9L199.7 290.5L201.7 291L203.7 291.6L205.7 292.1L207.7 292.6L209.7 293.1L211.7 293.6L213.7 294L215.7 294.5L217.7 294.9L219.7 295.3L221.8 295.6L223.8 296L225.8 296.2L227.8 296.5L229.8 296.7L231.8 296.9L233.8 297.1L235.8 297.2L237.8 297.3L239.8 297.4L241.8 297.5L243.8 297.6L245.8 297.7L247.8 297.7L249.8 297.8L251.9 297.9L253.9 297.9L255.9 297.9L257.9 298L259.9 298L261.9 298L263.9 298L265.9 298.1L267.9 298.1L269.9 298.1L271.9 298.1L273.9 298.1L275.9 298.2L277.9 298.2L280 298.2L282 298.2L284 298.2L286 298.2L288 298.2L290 298.2L292 298.2L294 298.2L296 298.2L298 298.2L300 298.2L302 298.2L304 298.2L306 298.2L308 298.2L310.1 298.3L312.1 298.3L314.1 298.3L316.1 298.3L318.1 298.3L320.1 298.3L322.1 298.3L324.1 298.3L326.1 298.3L328.1 298.3L330.1 298.3L332.1 298.3L334.1 298.3L336.1 298.3L338.1 298.3L340.2 298.3L342.2 298.3L344.2 298.3L346.2 298.3L348.2 298.3L350.2 298.3L352.2 298.3L354.2 298.3L356.2 298.3L358.2 298.3L360.2 298.3L362.2 298.3L364.2 298.3L366.2 298.3L368.3 298.3L370.3 298.3L372.3 298.3L374.3 298.3L376.3 298.3L378.3 298.3L380.3 298.3L382.3 298.3L382.3 302.1L381.3 302.1L379.3 302.1L377.3 302.1L375.3 302.1L373.3 302.1L371.3 302.1L369.3 302.1L367.3 302.1L365.2 302.1L363.2 302.1L361.2 302.1L359.2 302.1L357.2 302.1L355.2 302.1L353.2 302.1L351.2 302.1L349.2 302.1L347.2 302.1L345.2 302.1L343.2 302.1L341.2 302.1L339.2 302.1L337.1 302.1L335.1 302.1L333.1 302.1L331.1 302.1L329.1 302.1L327.1 302.1L325.1 302.1L323.1 302.1L321.1 302.1L319.1 302.1L317.1 302.1L315.1 302.1L313.1 302.1L311.1 302.1L309.1 302.1L307 302L305 302L303 302L301 302L299 302L297 302L295 302L293 302L291 302L289 302L287 302L285 302L283 302L281 302L279 302L276.9 302L274.9 302L272.9 301.9L270.9 301.9L268.9 301.9L266.9 301.9L264.9 301.9L262.9 301.8L260.9 301.8L258.9 301.8L256.9 301.8L254.9 301.7L252.9 301.7L250.9 301.7L248.8 301.6L246.8 301.5L244.8 301.5L242.8 301.4L240.8 301.3L238.8 301.2L236.8 301.1L234.8 301L232.8 300.9L230.8 300.7L228.8 300.5L226.8 300.3L224.8 300L222.8 299.8L220.8 299.4L218.7 299.1L216.7 298.7L214.7 298.3L212.7 297.8L210.7 297.4L208.7 296.9L206.7 296.4L204.7 295.9L202.7 295.4L200.7 294.8L198.7 294.3L196.7 293.7L194.7 293.2L192.7 292.6L190.6 291.9L188.6 291.2L186.6 290.4L184.6 289.5L182.6 288.6L180.6 287.5L178.6 286.3L176.6 284.9Z" fill="#ff0808"/>
<path d="M176.6 304.2L177.6 304.2L179.6 305.8L181.6 307.3L183.6 308.6L185.6 309.9L187.6 311L189.6 312L191.6 312.9L193.7 313.8L195.7 314.6L197.7 315.4L199.7 316.2L201.7 316.9L203.7 317.6L205.7 318.3L207.7 319L209.7 319.7L211.7 320.4L213.7 321.1L215.7 321.7L217.7 322.3L219.7 322.9L221.8 323.4L223.8 323.9L225.8 324.4L227.8 324.8L229.8 325.1L231.8 325.4L233.8 325.7L235.8 326L237.8 326.2L239.8 326.3L241.8 326.5L243.8 326.6L245.8 326.8L247.8 326.9L249.8 326.9L251.9 327L253.9 327.1L255.9 327.2L257.9 327.2L259.9 327.3L261.9 327.3L263.9 327.3L265.9 327.4L267.9 327.4L269.9 327.4L271.9 327.5L273.9 327.5L275.9 327.5L277.9 327.5L280 327.5L282 327.5L284 327.6L286 327.6L288 327.6L290 327.6L292 327.6L294 327.6L296 327.6L298 327.6L300 327.6L302 327.6L304 327.6L306 327.6L308 327.6L310.1 327.6L312.1 327.6L314.1 327.7L316.1 327.7L318.1 327.7L320.1 327.7L322.1 327.7L324.1 327.7L326.1 327.7L328.1 327.7L330.1 327.7L332.1 327.7L334.1 327.7L336.1 327.7L338.1 327.7L340.2 327.7L342.2 327.7L344.2 327.7L346.2 327.7L348.2 327.7L350.2 327.7L352.2 327.7L354.2 327.7L356.2 327.7L358.2 327.7L360.2 327.7L362.2 327.7L364.2 327.7L366.2 327.7L368.3 327.7L370.3 327.7L372.3 327.7L374.3 327.7L376.3 327.7L378.3 327.7L380.3 327.7L382.3 327.7L382.3 331.5L381.3 331.5L379.3 331.5L377.3 331.5L375.3 331.5L373.3 331.5L371.3 331.5L369.3 331.5L367.3 331.5L365.2 331.5L363.2 331.5L361.2 331.5L359.2 331.5L357.2 331.5L355.2 331.5L353.2 331.5L351.2 331.5L349.2 331.5L347.2 331.5L345.2 331.5L343.2 331.5L341.2 331.5L339.2 331.5L337.1 331.5L335.1 331.5L333.1 331.5L331.1 331.5L329.1 331.5L327.1 331.5L325.1 331.5L323.1 331.5L321.1 331.5L319.1 331.5L317.1 331.5L315.1 331.5L313.1 331.5L311.1 331.4L309.1 331.4L307 331.4L305 331.4L303 331.4L301 331.4L299 331.4L297 331.4L295 331.4L293 331.4L291 331.4L289 331.4L287 331.4L285 331.4L283 331.4L281 331.3L279 331.3L276.9 331.3L274.9 331.3L272.9 331.3L270.9 331.3L268.9 331.2L266.9 331.2L264.9 331.2L262.9 331.1L260.9 331.1L258.9 331.1L256.9 331L254.9 331L252.9 330.9L250.9 330.8L248.8 330.7L246.8 330.7L244.8 330.6L242.8 330.4L240.8 330.3L238.8 330.1L236.8 330L234.8 329.8L232.8 329.5L230.8 329.2L228.8 328.9L226.8 328.6L224.8 328.2L222.8 327.7L220.8 327.2L218.7 326.7L216.7 326.1L214.7 325.5L212.7 324.9L210.7 324.2L208.7 323.5L206.7 322.8L204.7 322.1L202.7 321.4L200.7 320.7L198.7 320L196.7 319.2L194.7 318.4L192.7 317.6L190.6 316.7L188.6 315.8L186.6 314.8L184.6 313.7L182.6 312.4L180.6 311.1L178.6 309.6L176.6 308Z" fill="#ff0808"/>
<path d="M176.6 318.6L177.6 318.6L179.6 320.7L181.6 322.6L183.6 324.3L185.6 325.9L187.6 327.5L189.6 328.9L191.6 330.2L193.7 331.4L195.7 332.5L197.7 333.6L199.7 334.6L201.7 335.6L203.7 336.5L205.7 337.3L207.7 338.2L209.7 339L211.7 339.7L213.7 340.5L215.7 341.2L217.7 341.9L219.7 342.5L221.8 343.1L223.8 343.7L225.8 344.3L227.8 344.8L229.8 345.3L231.8 345.7L233.8 346.2L235.8 346.5L237.8 346.9L239.8 347.2L241.8 347.5L243.8 347.7L245.8 347.9L247.8 348.1L249.8 348.3L251.9 348.5L253.9 348.6L255.9 348.7L257.9 348.8L259.9 348.9L261.9 349L263.9 349.1L265.9 349.1L267.9 349.2L269.9 349.2L271.9 349.3L273.9 349.3L275.9 349.3L277.9 349.4L280 349.4L282 349.4L284 349.5L286 349.5L288 349.5L290 349.5L292 349.5L294 349.5L296 349.5L298 349.6L300 349.6L302 349.6L304 349.6L306 349.6L308 349.6L310.1 349.6L312.1 349.6L314.1 349.6L316.1 349.6L318.1 349.6L320.1 349.6L322.1 349.6L324.1 349.6L326.1 349.6L328.1 349.6L330.1 349.6L332.1 349.6L334.1 349.6L336.1 349.6L338.1 349.6L340.2 349.6L342.2 349.6L344.2 349.6L346.2 349.6L348.2 349.6L350.2 349.7L352.2 349.7L354.2 349.7L356.2 349.7L358.2 349.7L360.2 349.7L362.2 349.7L364.2 349.7L366.2 349.7L368.3 349.7L370.3 349.7L372.3 349.7L374.3 349.7L376.3 349.7L378.3 349.7L380.3 349.7L382.3 349.7L382.3 353.5L381.3 353.5L379.3 353.5L377.3 353.5L375.3 353.5L373.3 353.5L371.3 353.5L369.3 353.5L367.3 353.5L365.2 353.5L363.2 353.5L361.2 353.5L359.2 353.5L357.2 353.5L355.2 353.5L353.2 353.5L351.2 353.5L349.2 353.5L347.2 353.4L345.2 353.4L343.2 353.4L341.2 353.4L339.2 353.4L337.1 353.4L335.1 353.4L333.1 353.4L331.1 353.4L329.1 353.4L327.1 353.4L325.1 353.4L323.1 353.4L321.1 353.4L319.1 353.4L317.1 353.4L315.1 353.4L313.1 353.4L311.1 353.4L309.1 353.4L307 353.4L305 353.4L303 353.4L301 353.4L299 353.4L297 353.4L295 353.3L293 353.3L291 353.3L289 353.3L287 353.3L285 353.3L283 353.3L281 353.2L279 353.2L276.9 353.2L274.9 353.1L272.9 353.1L270.9 353.1L268.9 353L266.9 353L264.9 352.9L262.9 352.9L260.9 352.8L258.9 352.7L256.9 352.6L254.9 352.5L252.9 352.4L250.9 352.3L248.8 352.1L246.8 351.9L244.8 351.7L242.8 351.5L240.8 351.3L238.8 351L236.8 350.7L234.8 350.3L232.8 350L230.8 349.5L228.8 349.1L226.8 348.6L224.8 348.1L222.8 347.5L220.8 346.9L218.7 346.3L216.7 345.7L214.7 345L212.7 344.3L210.7 343.5L208.7 342.8L206.7 342L204.7 341.1L202.7 340.3L200.7 339.4L198.7 338.4L196.7 337.4L194.7 336.3L192.7 335.2L190.6 334L188.6 332.7L186.6 331.3L184.6 329.7L182.6 328.1L180.6 326.4L178.6 324.5L176.6 322.4Z" fill="#ff0808"/>
<path d="M176.6 329L177.6 329L179.6 331.4L181.6 333.7L183.6 335.9L185.6 338L187.6 339.9L189.6 341.8L191.6 343.6L193.7 345.3L195.7 346.9L197.7 348.4L199.7 349.8L201.7 351.2L203.7 352.6L205.7 353.8L207.7 355.1L209.7 356.2L211.7 357.4L213.7 358.5L215.7 359.5L217.7 360.5L219.7 361.4L221.8 362.3L223.8 363.2L225.8 364L227.8 364.7L229.8 365.4L231.8 366.1L233.8 366.7L235.8 367.3L237.8 367.8L239.8 368.3L241.8 368.7L243.8 369.1L245.8 369.5L247.8 369.8L249.8 370.1L251.9 370.4L253.9 370.7L255.9 370.9L257.9 371.1L259.9 371.3L261.9 371.5L263.9 371.6L265.9 371.8L267.9 371.9L269.9 372L271.9 372.1L273.9 372.2L275.9 372.3L277.9 372.4L280 372.4L282 372.5L284 372.6L286 372.6L288 372.7L290 372.7L292 372.7L294 372.8L296 372.8L298 372.8L300 372.9L302 372.9L304 372.9L306 372.9L308 372.9L310.1 372.9L312.1 373L314.1 373L316.1 373L318.1 373L320.1 373L322.1 373L324.1 373L326.1 373L328.1 373L330.1 373L332.1 373L334.1 373.1L336.1 373.1L338.1 373.1L340.2 373.1L342.2 373.1L344.2 373.1L346.2 373.1L348.2 373.1L350.2 373.1L352.2 373.1L354.2 373.1L356.2 373.1L358.2 373.1L360.2 373.1L362.2 373.1L364.2 373.1L366.2 373.1L368.3 373.1L370.3 373.1L372.3 373.1L374.3 373.1L376.3 373.1L378.3 373.1L380.3 373.1L382.3 373.1L382.3 376.9L381.3 376.9L379.3 376.9L377.3 376.9L375.3 376.9L373.3 376.9L371.3 376.9L369.3 376.9L367.3 376.9L365.2 376.9L363.2 376.9L361.2 376.9L359.2 376.9L357.2 376.9L355.2 376.9L353.2 376.9L351.2 376.9L349.2 376.9L347.2 376.9L345.2 376.9L343.2 376.9L341.2 376.9L339.2 376.9L337.1 376.9L335.1 376.9L333.1 376.9L331.1 376.8L329.1 376.8L327.1 376.8L325.1 376.8L323.1 376.8L321.1 376.8L319.1 376.8L317.1 376.8L315.1 376.8L313.1 376.8L311.1 376.8L309.1 376.7L307 376.7L305 376.7L303 376.7L301 376.7L299 376.7L297 376.6L295 376.6L293 376.6L291 376.5L289 376.5L287 376.5L285 376.4L283 376.4L281 376.3L279 376.2L276.9 376.2L274.9 376.1L272.9 376L270.9 375.9L268.9 375.8L266.9 375.7L264.9 375.6L262.9 375.4L260.9 375.3L258.9 375.1L256.9 374.9L254.9 374.7L252.9 374.5L250.9 374.2L248.8 373.9L246.8 373.6L244.8 373.3L242.8 372.9L240.8 372.5L238.8 372.1L236.8 371.6L234.8 371.1L232.8 370.5L230.8 369.9L228.8 369.2L226.8 368.5L224.8 367.8L222.8 367L220.8 366.1L218.7 365.2L216.7 364.3L214.7 363.3L212.7 362.3L210.7 361.2L208.7 360L206.7 358.9L204.7 357.6L202.7 356.4L200.7 355L198.7 353.6L196.7 352.2L194.7 350.7L192.7 349.1L190.6 347.4L188.6 345.6L186.6 343.7L184.6 341.8L182.6 339.7L180.6 337.5L178.6 335.2L176.6 332.8Z" fill="#ff0808"/>
<path d="M208.8 362.6L209.8 362.6L211.8 363.9L213.8 365.1L215.8 366.3L217.8 367.4L219.8 368.5L221.8 369.5L223.8 370.4L225.9 371.4L227.9 372.2L229.9 373.1L231.9 373.9L233.9 374.6L235.9 375.3L237.9 376L239.9 376.7L241.9 377.3L243.9 377.8L245.9 378.4L247.9 378.9L249.9 379.3L251.9 379.8L253.9 380.2L255.9 380.6L257.9 381L260 381.3L262 381.6L264 381.9L266 382.2L268 382.4L270 382.6L272 382.9L274 383L276 383.2L278 383.4L280 383.5L282 383.7L284 383.8L286 383.9L288 384L290 384.1L292 384.2L294 384.3L296.1 384.4L298.1 384.4L300.1 384.5L302.1 384.5L304.1 384.6L306.1 384.6L308.1 384.7L310.1 384.7L312.1 384.7L314.1 384.8L316.1 384.8L318.1 384.8L320.1 384.9L322.1 384.9L324.1 384.9L326.1 384.9L328.1 384.9L330.2 384.9L332.2 385L334.2 385L336.2 385L338.2 385L340.2 385L342.2 385L344.2 385L346.2 385L348.2 385L350.2 385L352.2 385L354.2 385L356.2 385L358.2 385L360.2 385L362.2 385L364.2 385L366.3 385L368.3 385L370.3 385L372.3 385.1L374.3 385.1L376.3 385.1L378.3 385.1L380.3 385.1L382.3 385.1L382.3 388.9L381.3 388.9L379.3 388.9L377.3 388.9L375.3 388.9L373.3 388.9L371.3 388.9L369.3 388.8L367.3 388.8L365.3 388.8L363.2 388.8L361.2 388.8L359.2 388.8L357.2 388.8L355.2 388.8L353.2 388.8L351.2 388.8L349.2 388.8L347.2 388.8L345.2 388.8L343.2 388.8L341.2 388.8L339.2 388.8L337.2 388.8L335.2 388.8L333.2 388.8L331.2 388.8L329.2 388.7L327.1 388.7L325.1 388.7L323.1 388.7L321.1 388.7L319.1 388.7L317.1 388.6L315.1 388.6L313.1 388.6L311.1 388.5L309.1 388.5L307.1 388.5L305.1 388.4L303.1 388.4L301.1 388.3L299.1 388.3L297.1 388.2L295.1 388.2L293 388.1L291 388L289 387.9L287 387.8L285 387.7L283 387.6L281 387.5L279 387.3L277 387.2L275 387L273 386.8L271 386.7L269 386.4L267 386.2L265 386L263 385.7L261 385.4L259 385.1L256.9 384.8L254.9 384.4L252.9 384L250.9 383.6L248.9 383.1L246.9 382.7L244.9 382.2L242.9 381.6L240.9 381.1L238.9 380.5L236.9 379.8L234.9 379.1L232.9 378.4L230.9 377.7L228.9 376.9L226.9 376L224.9 375.2L222.8 374.2L220.8 373.3L218.8 372.3L216.8 371.2L214.8 370.1L212.8 368.9L210.8 367.7L208.8 366.4Z" fill="#ff0808"/>
<path d="M243.5 382L244.5 382L246.5 382.8L248.5 383.5L250.5 384.2L252.5 384.9L254.5 385.6L256.5 386.3L258.5 386.9L260.5 387.5L262.5 388.1L264.5 388.7L266.5 389.3L268.5 389.8L270.5 390.3L272.5 390.8L274.5 391.3L276.5 391.7L278.4 392.2L280.4 392.6L282.4 393L284.4 393.4L286.4 393.8L288.4 394.2L290.4 394.5L292.4 394.8L294.4 395.1L296.4 395.4L298.4 395.7L300.4 396L302.4 396.3L304.4 396.5L306.4 396.7L308.4 397L310.4 397.2L312.4 397.4L314.4 397.5L316.4 397.7L318.4 397.9L320.4 398L322.4 398.1L324.4 398.2L326.4 398.3L328.4 398.4L330.4 398.5L332.4 398.6L334.4 398.6L336.4 398.7L338.4 398.7L340.4 398.8L342.4 398.8L344.4 398.9L346.4 398.9L348.3 399L350.3 399L352.3 399L354.3 399.1L356.3 399.1L358.3 399.1L360.3 399.1L362.3 399.1L364.3 399.2L366.3 399.2L368.3 399.2L370.3 399.2L372.3 399.2L374.3 399.2L376.3 399.2L378.3 399.2L380.3 399.2L382.3 399.3L382.3 403.1L381.3 403.1L379.3 403L377.3 403L375.3 403L373.3 403L371.3 403L369.3 403L367.3 403L365.3 403L363.3 403L361.3 402.9L359.3 402.9L357.3 402.9L355.3 402.9L353.3 402.9L351.3 402.8L349.3 402.8L347.3 402.8L345.4 402.7L343.4 402.7L341.4 402.6L339.4 402.6L337.4 402.5L335.4 402.5L333.4 402.4L331.4 402.4L329.4 402.3L327.4 402.2L325.4 402.1L323.4 402L321.4 401.9L319.4 401.8L317.4 401.7L315.4 401.5L313.4 401.3L311.4 401.2L309.4 401L307.4 400.8L305.4 400.5L303.4 400.3L301.4 400.1L299.4 399.8L297.4 399.5L295.4 399.2L293.4 398.9L291.4 398.6L289.4 398.3L287.4 398L285.4 397.6L283.4 397.2L281.4 396.8L279.4 396.4L277.4 396L275.5 395.5L273.5 395.1L271.5 394.6L269.5 394.1L267.5 393.6L265.5 393.1L263.5 392.5L261.5 391.9L259.5 391.3L257.5 390.7L255.5 390.1L253.5 389.4L251.5 388.7L249.5 388L247.5 387.3L245.5 386.6L243.5 385.8Z" fill="#ff0808"/>
</g>
<rect x="326.4" y="243.1" width="54.5" height="16.1" fill="#fff" stroke="#bdbdbd" stroke-width="0.6"/>
<rect x="331.8" y="247.8" width="3" height="3" fill="#0505ff"/>
<rect x="331.8" y="254.4" width="3" height="3" fill="#ff0808"/>
<text x="340.6" y="251.1" font-size="5.45" text-anchor="start" fill="#111">Training Datasets</text>
<text x="338.6" y="257.7" font-size="5.45" text-anchor="start" fill="#111">Testing Datasets</text>
<path d="M177.1 402.3h-3M177.1 382.4h-3M177.1 362.5h-3M177.1 342.6h-3M177.1 322.7h-3M177.1 302.8h-3M177.1 282.9h-3M177.1 263h-3M177.1 243.1h-3M177.1 406.3h-1.7M177.1 404.3h-1.7M177.1 400.3h-1.7M177.1 398.3h-1.7M177.1 396.3h-1.7M177.1 394.3h-1.7M177.1 392.4h-1.7M177.1 390.4h-1.7M177.1 388.4h-1.7M177.1 386.4h-1.7M177.1 384.4h-1.7M177.1 380.4h-1.7M177.1 378.4h-1.7M177.1 376.4h-1.7M177.1 374.4h-1.7M177.1 372.4h-1.7M177.1 370.5h-1.7M177.1 368.5h-1.7M177.1 366.5h-1.7M177.1 364.5h-1.7M177.1 360.5h-1.7M177.1 358.5h-1.7M177.1 356.5h-1.7M177.1 354.5h-1.7M177.1 352.5h-1.7M177.1 350.6h-1.7M177.1 348.6h-1.7M177.1 346.6h-1.7M177.1 344.6h-1.7M177.1 340.6h-1.7M177.1 338.6h-1.7M177.1 336.6h-1.7M177.1 334.6h-1.7M177.1 332.6h-1.7M177.1 330.7h-1.7M177.1 328.7h-1.7M177.1 326.7h-1.7M177.1 324.7h-1.7M177.1 320.7h-1.7M177.1 318.7h-1.7M177.1 316.7h-1.7M177.1 314.7h-1.7M177.1 312.8h-1.7M177.1 310.8h-1.7M177.1 308.8h-1.7M177.1 306.8h-1.7M177.1 304.8h-1.7M177.1 300.8h-1.7M177.1 298.8h-1.7M177.1 296.8h-1.7M177.1 294.8h-1.7M177.1 292.8h-1.7M177.1 290.9h-1.7M177.1 288.9h-1.7M177.1 286.9h-1.7M177.1 284.9h-1.7M177.1 280.9h-1.7M177.1 278.9h-1.7M177.1 276.9h-1.7M177.1 274.9h-1.7M177.1 272.9h-1.7M177.1 271h-1.7M177.1 269h-1.7M177.1 267h-1.7M177.1 265h-1.7M177.1 261h-1.7M177.1 259h-1.7M177.1 257h-1.7M177.1 255h-1.7M177.1 253h-1.7M177.1 251.1h-1.7M177.1 249.1h-1.7M177.1 247.1h-1.7M177.1 245.1h-1.7M177.1 407v1.8M177.1 243.1v1.8M182.8 407v1.8M182.8 243.1v1.8M187.1 407v1.8M187.1 243.1v1.8M190.7 407v1.8M190.7 243.1v1.8M193.7 407v1.8M193.7 243.1v1.8M196.3 407v1.8M196.3 243.1v1.8M198.6 407v1.8M198.6 243.1v1.8M200.7 407v3M200.7 243.1v3M214.3 407v1.8M214.3 243.1v1.8M222.2 407v1.8M222.2 243.1v1.8M227.8 407v1.8M227.8 243.1v1.8M232.2 407v1.8M232.2 243.1v1.8M235.8 407v1.8M235.8 243.1v1.8M238.8 407v1.8M238.8 243.1v1.8M241.4 407v1.8M241.4 243.1v1.8M243.7 407v1.8M243.7 243.1v1.8M245.8 407v3M245.8 243.1v3M259.3 407v1.8M259.3 243.1v1.8M267.2 407v1.8M267.2 243.1v1.8M272.9 407v1.8M272.9 243.1v1.8M277.2 407v1.8M277.2 243.1v1.8M280.8 407v1.8M280.8 243.1v1.8M283.8 407v1.8M283.8 243.1v1.8M286.4 407v1.8M286.4 243.1v1.8M288.7 407v1.8M288.7 243.1v1.8M290.8 407v3M290.8 243.1v3M304.4 407v1.8M304.4 243.1v1.8M312.3 407v1.8M312.3 243.1v1.8M317.9 407v1.8M317.9 243.1v1.8M322.3 407v1.8M322.3 243.1v1.8M325.9 407v1.8M325.9 243.1v1.8M328.9 407v1.8M328.9 243.1v1.8M331.5 407v1.8M331.5 243.1v1.8M333.8 407v1.8M333.8 243.1v1.8M335.8 407v3M335.8 243.1v3M349.4 407v1.8M349.4 243.1v1.8M357.3 407v1.8M357.3 243.1v1.8M363 407v1.8M363 243.1v1.8M367.3 407v1.8M367.3 243.1v1.8M370.9 407v1.8M370.9 243.1v1.8M373.9 407v1.8M373.9 243.1v1.8M376.5 407v1.8M376.5 243.1v1.8M378.8 407v1.8M378.8 243.1v1.8M380.9 407v3M380.9 243.1v3" stroke="#111" stroke-width="0.8" fill="none"/>
<path d="M380.9 256.8h2.6M380.9 270.4h2.6M380.9 284.1h2.6M380.9 297.7h2.6M380.9 311.4h2.6M380.9 325.1h2.6M380.9 338.7h2.6M380.9 352.4h2.6M380.9 366h2.6M380.9 379.7h2.6M380.9 393.3h2.6" stroke="#222" stroke-width="0.7" fill="none"/>
<path d="M177.1 243.1V407" stroke="#000" stroke-width="1.3" fill="none" stroke-linecap="square"/>
<path d="M177.1 407H380.9" stroke="#000" stroke-width="1.3" fill="none" stroke-linecap="square"/>
<path d="M177.1 243.1H380.9" stroke="#222" stroke-width="0.9750000000000001" fill="none" stroke-linecap="square"/>
<path d="M380.9 243.1V407" stroke="#111" stroke-width="0.8" fill="none"/>
<text x="171.8" y="404.3" font-size="6.1" text-anchor="end" fill="#111">0.01</text>
<text x="171.8" y="384.4" font-size="6.1" text-anchor="end" fill="#111">0.02</text>
<text x="171.8" y="364.5" font-size="6.1" text-anchor="end" fill="#111">0.03</text>
<text x="171.8" y="344.6" font-size="6.1" text-anchor="end" fill="#111">0.04</text>
<text x="171.8" y="324.7" font-size="6.1" text-anchor="end" fill="#111">0.05</text>
<text x="171.8" y="304.8" font-size="6.1" text-anchor="end" fill="#111">0.06</text>
<text x="171.8" y="284.9" font-size="6.1" text-anchor="end" fill="#111">0.07</text>
<text x="171.8" y="265" font-size="6.1" text-anchor="end" fill="#111">0.08</text>
<text x="171.8" y="245.1" font-size="6.1" text-anchor="end" fill="#111">0.09</text>
<text x="194.9" y="417.6" font-size="5.6" text-anchor="start" fill="#111">10<tspan dy="-2.4" font-size="3.2">4</tspan></text>
<text x="239.9" y="417.6" font-size="5.6" text-anchor="start" fill="#111">10<tspan dy="-2.4" font-size="3.2">5</tspan></text>
<text x="285" y="417.6" font-size="5.6" text-anchor="start" fill="#111">10<tspan dy="-2.4" font-size="3.2">6</tspan></text>
<text x="330" y="417.6" font-size="5.6" text-anchor="start" fill="#111">10<tspan dy="-2.4" font-size="3.2">7</tspan></text>
<text x="375.1" y="417.6" font-size="5.6" text-anchor="start" fill="#111">10<tspan dy="-2.4" font-size="3.2">8</tspan></text>
<text x="279.5" y="427.8" font-size="7.6" text-anchor="middle" fill="#111">Reynolds number</text>
<text transform="translate(157.0 322) rotate(-90)" font-size="9.2" text-anchor="middle" fill="#111">Friction Factor</text>
<text x="382.6" y="281.7" font-size="6.1" text-anchor="start" fill="#111">0.05</text>
<text x="384.6" y="326.6" font-size="6.1" text-anchor="start" fill="#111">0.02</text>
<text x="384" y="346.6" font-size="6.1" text-anchor="start" fill="#111">0.01</text>
<text x="383" y="375.9" font-size="6.1" text-anchor="start" fill="#111">0.002</text>
<text x="383" y="406.3" font-size="6.1" text-anchor="start" fill="#111">0.000,001</text>
<text x="389.6" y="309.9" font-size="7.3" text-anchor="start" fill="#111">ε/D</text>
<text x="270" y="459.0" font-size="14" text-anchor="middle" fill="#111">(<tspan font-weight="bold">c</tspan>)</text>
</svg>
</body></html>
